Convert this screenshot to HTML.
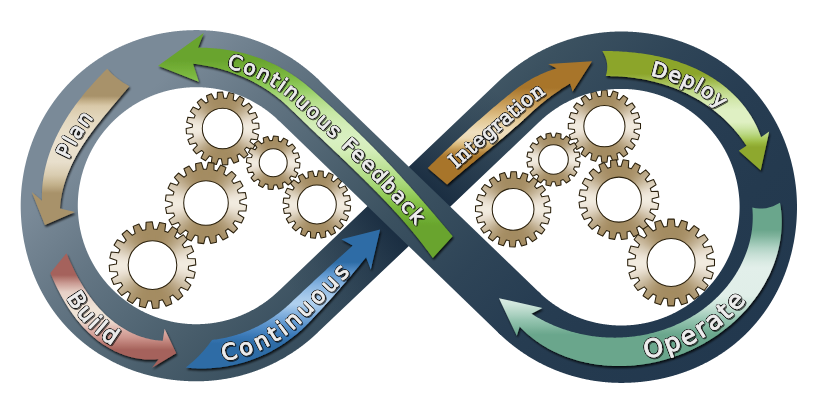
<!DOCTYPE html><html><head><meta charset="utf-8"><title>DevOps loop</title>
<style>html,body{margin:0;padding:0;background:#fff}svg{display:block;font-family:"DejaVu Sans","Liberation Sans",sans-serif}</style></head><body>
<svg width="830" height="413" viewBox="0 0 830 413">
<defs>
<linearGradient id="band" gradientUnits="userSpaceOnUse" x1="77.8" y1="77.8" x2="544.5" y2="544.5"><stop offset="0.000" stop-color="#7a8a98"/><stop offset="0.091" stop-color="#7a8a98"/><stop offset="0.212" stop-color="#647684"/><stop offset="0.303" stop-color="#566a78"/><stop offset="0.394" stop-color="#485d6b"/><stop offset="0.485" stop-color="#3b5160"/><stop offset="0.621" stop-color="#2e4457"/><stop offset="0.727" stop-color="#273d52"/><stop offset="0.841" stop-color="#243a4f"/><stop offset="1.000" stop-color="#22384e"/></linearGradient>
<linearGradient id="g_feedback" gradientUnits="userSpaceOnUse" x1="0" y1="60.0" x2="0" y2="226.0"><stop offset="0.000" stop-color="#69a42d"/><stop offset="0.090" stop-color="#7ab73e"/><stop offset="0.169" stop-color="#92cc5f"/><stop offset="0.241" stop-color="#b2dc86"/><stop offset="0.313" stop-color="#c6e7a4"/><stop offset="0.392" stop-color="#d3edb8"/><stop offset="0.482" stop-color="#d9f0c2"/><stop offset="0.542" stop-color="#d5eeba"/><stop offset="0.614" stop-color="#c5e6a2"/><stop offset="0.747" stop-color="#a8d878"/><stop offset="0.831" stop-color="#8fc853"/><stop offset="0.886" stop-color="#7dba40"/><stop offset="0.952" stop-color="#6fae32"/><stop offset="1.000" stop-color="#69a42d"/></linearGradient>
<linearGradient id="g_plan" gradientUnits="userSpaceOnUse" x1="0" y1="96.0" x2="0" y2="193.0"><stop offset="0.000" stop-color="#a8926a"/><stop offset="0.052" stop-color="#c4b08a"/><stop offset="0.103" stop-color="#d9c9a9"/><stop offset="0.227" stop-color="#e3d7bd"/><stop offset="0.454" stop-color="#ebe1ce"/><stop offset="0.680" stop-color="#e8dfcc"/><stop offset="0.814" stop-color="#d9ccb0"/><stop offset="0.918" stop-color="#c2b08a"/><stop offset="1.000" stop-color="#a8926a"/></linearGradient>
<linearGradient id="g_build" gradientUnits="userSpaceOnUse" x1="0" y1="275.0" x2="0" y2="350.0"><stop offset="0.000" stop-color="#a5625b"/><stop offset="0.107" stop-color="#c99a92"/><stop offset="0.227" stop-color="#e6d0c6"/><stop offset="0.440" stop-color="#efe3d6"/><stop offset="0.573" stop-color="#efe3d6"/><stop offset="0.653" stop-color="#e8cfc5"/><stop offset="0.733" stop-color="#dcb0a8"/><stop offset="0.827" stop-color="#cf9890"/><stop offset="0.920" stop-color="#b97a72"/><stop offset="1.000" stop-color="#a5625b"/></linearGradient>
<linearGradient id="g_cont" gradientUnits="userSpaceOnUse" x1="0" y1="262.0" x2="0" y2="344.0"><stop offset="0.000" stop-color="#2d6ca6"/><stop offset="0.146" stop-color="#5f97cf"/><stop offset="0.293" stop-color="#8ab6e2"/><stop offset="0.439" stop-color="#a9cbec"/><stop offset="0.512" stop-color="#b0d0ee"/><stop offset="0.622" stop-color="#88b4e0"/><stop offset="0.768" stop-color="#5a93cc"/><stop offset="0.902" stop-color="#3a78b6"/><stop offset="1.000" stop-color="#2d6ca6"/></linearGradient>
<linearGradient id="g_integ" gradientUnits="userSpaceOnUse" x1="0" y1="88.0" x2="0" y2="157.0"><stop offset="0.000" stop-color="#a8752b"/><stop offset="0.145" stop-color="#bd8f47"/><stop offset="0.290" stop-color="#d0a868"/><stop offset="0.464" stop-color="#e3c995"/><stop offset="0.638" stop-color="#efdfbf"/><stop offset="0.725" stop-color="#ecd9b3"/><stop offset="0.826" stop-color="#d9b878"/><stop offset="0.928" stop-color="#b98a42"/><stop offset="1.000" stop-color="#a8752b"/></linearGradient>
<linearGradient id="g_deploy" gradientUnits="userSpaceOnUse" x1="0" y1="74.0" x2="0" y2="147.0"><stop offset="0.000" stop-color="#8ca52c"/><stop offset="0.110" stop-color="#a3bd52"/><stop offset="0.219" stop-color="#bdd683"/><stop offset="0.356" stop-color="#d2e7ab"/><stop offset="0.493" stop-color="#dff0c3"/><stop offset="0.658" stop-color="#dff0c3"/><stop offset="0.740" stop-color="#cfe6a8"/><stop offset="0.822" stop-color="#bbd884"/><stop offset="0.890" stop-color="#a9c95c"/><stop offset="0.945" stop-color="#9ab840"/><stop offset="1.000" stop-color="#8ea82e"/></linearGradient>
<linearGradient id="g_operate" gradientUnits="userSpaceOnUse" x1="0" y1="230.0" x2="0" y2="335.0"><stop offset="0.000" stop-color="#6aa68c"/><stop offset="0.057" stop-color="#7fb39c"/><stop offset="0.114" stop-color="#98c4b1"/><stop offset="0.171" stop-color="#b1d3c5"/><stop offset="0.238" stop-color="#c8e0d6"/><stop offset="0.305" stop-color="#d9eae3"/><stop offset="0.362" stop-color="#e2efea"/><stop offset="0.629" stop-color="#e0eee8"/><stop offset="0.705" stop-color="#cfe6dc"/><stop offset="0.752" stop-color="#bfdccf"/><stop offset="0.810" stop-color="#a9d0bf"/><stop offset="0.857" stop-color="#95c4b0"/><stop offset="0.914" stop-color="#84b9a2"/><stop offset="0.962" stop-color="#74ad94"/><stop offset="1.000" stop-color="#6aa68c"/></linearGradient>
<linearGradient id="txt" x1="0" y1="0" x2="0" y2="1"><stop offset="0" stop-color="#f6f6f6"/><stop offset="1" stop-color="#c6c6c6"/></linearGradient>
<filter id="ash" x="-20%" y="-20%" width="140%" height="140%"><feGaussianBlur in="SourceAlpha" stdDeviation="1.3"/><feOffset dx="0.6" dy="2.0"/><feComponentTransfer><feFuncA type="linear" slope="0.8"/></feComponentTransfer><feMerge><feMergeNode/><feMergeNode in="SourceGraphic"/></feMerge></filter>
<filter id="gbl" x="-10%" y="-10%" width="120%" height="120%"><feGaussianBlur stdDeviation="0.9"/></filter>
<filter id="xsh" x="-40%" y="-40%" width="180%" height="180%"><feGaussianBlur stdDeviation="14"/></filter>
<filter id="tsh" x="-5%" y="-5%" width="110%" height="110%"><feGaussianBlur in="SourceAlpha" stdDeviation="0.8" result="b"/><feComponentTransfer in="b" result="o"><feFuncA type="linear" slope="6" intercept="-0.8"/></feComponentTransfer><feFlood flood-color="#151515"/><feComposite in2="o" operator="in" result="ol"/><feGaussianBlur in="o" stdDeviation="0.7"/><feOffset dx="0.6" dy="1.0"/><feComponentTransfer result="sh"><feFuncA type="linear" slope="0.55"/></feComponentTransfer><feMerge><feMergeNode in="sh"/><feMergeNode in="ol"/><feMergeNode in="SourceGraphic"/></feMerge></filter>
<clipPath id="underclip"><path d="M276.58 292.89 L501.57 78.59 L541.24 120.08 L315.83 334.35Z"/></clipPath>
<clipPath id="gc0"><path clip-rule="evenodd" d="M252.85 131.14 L252.70 132.56 L258.56 134.74 L257.29 139.85 L251.08 139.03 L250.56 140.36 L249.97 141.66 L254.87 145.55 L252.08 150.02 L246.44 147.32 L245.52 148.42 L244.56 149.47 L248.03 154.69 L243.99 158.08 L239.46 153.76 L238.25 154.53 L237.00 155.23 L238.69 161.26 L233.80 163.24 L230.83 157.73 L229.44 158.09 L228.04 158.38 L227.78 164.63 L222.52 165.00 L221.39 158.84 L219.96 158.75 L218.54 158.60 L216.36 164.46 L211.25 163.19 L212.07 156.98 L210.74 156.46 L209.44 155.87 L205.55 160.77 L201.08 157.98 L203.78 152.34 L202.68 151.42 L201.63 150.46 L196.41 153.93 L193.02 149.89 L197.34 145.36 L196.57 144.15 L195.87 142.90 L189.84 144.59 L187.86 139.70 L193.37 136.73 L193.01 135.34 L192.72 133.94 L186.47 133.68 L186.10 128.42 L192.26 127.29 L192.35 125.86 L192.50 124.44 L186.64 122.26 L187.91 117.15 L194.12 117.97 L194.64 116.64 L195.23 115.34 L190.33 111.45 L193.12 106.98 L198.76 109.68 L199.68 108.58 L200.64 107.53 L197.17 102.31 L201.21 98.92 L205.74 103.24 L206.95 102.47 L208.20 101.77 L206.51 95.74 L211.40 93.76 L214.37 99.27 L215.76 98.91 L217.16 98.62 L217.42 92.37 L222.68 92.00 L223.81 98.16 L225.24 98.25 L226.66 98.40 L228.84 92.54 L233.95 93.81 L233.13 100.02 L234.46 100.54 L235.76 101.13 L239.65 96.23 L244.12 99.02 L241.42 104.66 L242.52 105.58 L243.57 106.54 L248.79 103.07 L252.18 107.11 L247.86 111.64 L248.63 112.85 L249.33 114.10 L255.36 112.41 L257.34 117.30 L251.83 120.27 L252.19 121.66 L252.48 123.06 L258.73 123.32 L259.10 128.58 L252.94 129.71Z M242.90 128.50 A20.30 20.30 0 1 0 202.30 128.50 A20.30 20.30 0 1 0 242.90 128.50 Z"/></clipPath>
<clipPath id="gc1"><path clip-rule="evenodd" d="M294.53 169.30 L294.11 170.55 L297.86 173.29 L295.58 177.55 L291.22 175.93 L290.42 176.97 L289.55 177.96 L291.97 181.93 L288.23 184.99 L284.82 181.83 L283.68 182.48 L282.51 183.06 L283.22 187.65 L278.60 189.05 L276.66 184.83 L275.35 184.99 L274.04 185.08 L272.95 189.60 L268.14 189.12 L267.96 184.47 L266.70 184.13 L265.45 183.71 L262.71 187.46 L258.45 185.18 L260.07 180.82 L259.03 180.02 L258.04 179.15 L254.07 181.57 L251.01 177.83 L254.17 174.42 L253.52 173.28 L252.94 172.11 L248.35 172.82 L246.95 168.20 L251.17 166.26 L251.01 164.95 L250.92 163.64 L246.40 162.55 L246.88 157.74 L251.53 157.56 L251.87 156.30 L252.29 155.05 L248.54 152.31 L250.82 148.05 L255.18 149.67 L255.98 148.63 L256.85 147.64 L254.43 143.67 L258.17 140.61 L261.58 143.77 L262.72 143.12 L263.89 142.54 L263.18 137.95 L267.80 136.55 L269.74 140.77 L271.05 140.61 L272.36 140.52 L273.45 136.00 L278.26 136.48 L278.44 141.13 L279.70 141.47 L280.95 141.89 L283.69 138.14 L287.95 140.42 L286.33 144.78 L287.37 145.58 L288.36 146.45 L292.33 144.03 L295.39 147.77 L292.23 151.18 L292.88 152.32 L293.46 153.49 L298.05 152.78 L299.45 157.40 L295.23 159.34 L295.39 160.65 L295.48 161.96 L300.00 163.05 L299.52 167.86 L294.87 168.04Z M287.20 162.80 A14.00 14.00 0 1 0 259.20 162.80 A14.00 14.00 0 1 0 287.20 162.80 Z"/></clipPath>
<clipPath id="gc2"><path clip-rule="evenodd" d="M239.85 201.98 L239.86 203.58 L246.64 205.23 L245.89 211.06 L238.92 210.95 L238.50 212.49 L238.02 214.01 L243.96 217.68 L241.45 222.99 L234.85 220.73 L233.98 222.07 L233.05 223.37 L237.57 228.69 L233.54 232.97 L227.96 228.78 L226.72 229.79 L225.43 230.73 L228.08 237.19 L222.93 240.01 L218.91 234.30 L217.43 234.88 L215.91 235.38 L216.44 242.34 L210.66 243.43 L208.61 236.76 L207.02 236.85 L205.42 236.86 L203.77 243.64 L197.94 242.89 L198.05 235.92 L196.51 235.50 L194.99 235.02 L191.32 240.96 L186.01 238.45 L188.27 231.85 L186.93 230.98 L185.63 230.05 L180.31 234.57 L176.03 230.54 L180.22 224.96 L179.21 223.72 L178.27 222.43 L171.81 225.08 L168.99 219.93 L174.70 215.91 L174.12 214.43 L173.62 212.91 L166.66 213.44 L165.57 207.66 L172.24 205.61 L172.15 204.02 L172.14 202.42 L165.36 200.77 L166.11 194.94 L173.08 195.05 L173.50 193.51 L173.98 191.99 L168.04 188.32 L170.55 183.01 L177.15 185.27 L178.02 183.93 L178.95 182.63 L174.43 177.31 L178.46 173.03 L184.04 177.22 L185.28 176.21 L186.57 175.27 L183.92 168.81 L189.07 165.99 L193.09 171.70 L194.57 171.12 L196.09 170.62 L195.56 163.66 L201.34 162.57 L203.39 169.24 L204.98 169.15 L206.58 169.14 L208.23 162.36 L214.06 163.11 L213.95 170.08 L215.49 170.50 L217.01 170.98 L220.68 165.04 L225.99 167.55 L223.73 174.15 L225.07 175.02 L226.37 175.95 L231.69 171.43 L235.97 175.46 L231.78 181.04 L232.79 182.28 L233.73 183.57 L240.19 180.92 L243.01 186.07 L237.30 190.09 L237.88 191.57 L238.38 193.09 L245.34 192.56 L246.43 198.34 L239.76 200.39Z M228.30 203.00 A22.30 22.30 0 1 0 183.70 203.00 A22.30 22.30 0 1 0 228.30 203.00 Z"/></clipPath>
<clipPath id="gc3"><path clip-rule="evenodd" d="M345.00 203.38 L345.02 204.70 L350.67 206.01 L350.10 210.86 L344.30 210.83 L343.97 212.11 L343.58 213.38 L348.55 216.37 L346.51 220.81 L341.00 218.99 L340.29 220.11 L339.53 221.19 L343.33 225.57 L340.02 229.16 L335.35 225.73 L334.33 226.57 L333.27 227.37 L335.52 232.71 L331.27 235.10 L327.88 230.39 L326.65 230.88 L325.40 231.31 L325.89 237.08 L321.11 238.04 L319.35 232.51 L318.02 232.60 L316.70 232.62 L315.39 238.27 L310.54 237.70 L310.57 231.90 L309.29 231.57 L308.02 231.18 L305.03 236.15 L300.59 234.11 L302.41 228.60 L301.29 227.89 L300.21 227.13 L295.83 230.93 L292.24 227.62 L295.67 222.95 L294.83 221.93 L294.03 220.87 L288.69 223.12 L286.30 218.87 L291.01 215.48 L290.52 214.25 L290.09 213.00 L284.32 213.49 L283.36 208.71 L288.89 206.95 L288.80 205.62 L288.78 204.30 L283.13 202.99 L283.70 198.14 L289.50 198.17 L289.83 196.89 L290.22 195.62 L285.25 192.63 L287.29 188.19 L292.80 190.01 L293.51 188.89 L294.27 187.81 L290.47 183.43 L293.78 179.84 L298.45 183.27 L299.47 182.43 L300.53 181.63 L298.28 176.29 L302.53 173.90 L305.92 178.61 L307.15 178.12 L308.40 177.69 L307.91 171.92 L312.69 170.96 L314.45 176.49 L315.78 176.40 L317.10 176.38 L318.41 170.73 L323.26 171.30 L323.23 177.10 L324.51 177.43 L325.78 177.82 L328.77 172.85 L333.21 174.89 L331.39 180.40 L332.51 181.11 L333.59 181.87 L337.97 178.07 L341.56 181.38 L338.13 186.05 L338.97 187.07 L339.77 188.13 L345.11 185.88 L347.50 190.13 L342.79 193.52 L343.28 194.75 L343.71 196.00 L349.48 195.51 L350.44 200.29 L344.91 202.05Z M336.30 204.50 A19.40 19.40 0 1 0 297.50 204.50 A19.40 19.40 0 1 0 336.30 204.50 Z"/></clipPath>
<clipPath id="gc4"><path clip-rule="evenodd" d="M188.41 267.98 L188.23 269.67 L195.21 272.20 L193.74 278.28 L186.38 277.35 L185.76 278.93 L185.07 280.49 L190.93 285.06 L187.65 290.38 L180.93 287.22 L179.86 288.54 L178.73 289.80 L182.88 295.95 L178.12 300.01 L172.71 294.93 L171.28 295.84 L169.81 296.69 L171.86 303.83 L166.08 306.22 L162.50 299.71 L160.86 300.14 L159.20 300.50 L158.94 307.92 L152.71 308.40 L151.32 301.11 L149.62 301.01 L147.93 300.83 L145.40 307.81 L139.32 306.34 L140.25 298.98 L138.67 298.36 L137.11 297.67 L132.54 303.53 L127.22 300.25 L130.38 293.53 L129.06 292.46 L127.80 291.33 L121.65 295.48 L117.59 290.72 L122.67 285.31 L121.76 283.88 L120.91 282.41 L113.77 284.46 L111.38 278.68 L117.89 275.10 L117.46 273.46 L117.10 271.80 L109.68 271.54 L109.20 265.31 L116.49 263.92 L116.59 262.22 L116.77 260.53 L109.79 258.00 L111.26 251.92 L118.62 252.85 L119.24 251.27 L119.93 249.71 L114.07 245.14 L117.35 239.82 L124.07 242.98 L125.14 241.66 L126.27 240.40 L122.12 234.25 L126.88 230.19 L132.29 235.27 L133.72 234.36 L135.19 233.51 L133.14 226.37 L138.92 223.98 L142.50 230.49 L144.14 230.06 L145.80 229.70 L146.06 222.28 L152.29 221.80 L153.68 229.09 L155.38 229.19 L157.07 229.37 L159.60 222.39 L165.68 223.86 L164.75 231.22 L166.33 231.84 L167.89 232.53 L172.46 226.67 L177.78 229.95 L174.62 236.67 L175.94 237.74 L177.20 238.87 L183.35 234.72 L187.41 239.48 L182.33 244.89 L183.24 246.32 L184.09 247.79 L191.23 245.74 L193.62 251.52 L187.11 255.10 L187.54 256.74 L187.90 258.40 L195.32 258.66 L195.80 264.89 L188.51 266.28Z M176.80 265.10 A24.30 24.30 0 1 0 128.20 265.10 A24.30 24.30 0 1 0 176.80 265.10 Z"/></clipPath>
<clipPath id="gc5"><path clip-rule="evenodd" d="M634.15 130.91 L633.89 132.31 L639.55 134.87 L637.93 139.84 L631.85 138.59 L631.24 139.87 L630.56 141.12 L635.15 145.31 L632.08 149.53 L626.68 146.47 L625.70 147.50 L624.67 148.47 L627.74 153.87 L623.51 156.94 L619.32 152.36 L618.08 153.03 L616.80 153.65 L618.05 159.73 L613.07 161.35 L610.51 155.69 L609.11 155.95 L607.71 156.14 L607.02 162.31 L601.79 162.31 L601.10 156.14 L599.69 155.95 L598.29 155.69 L595.73 161.35 L590.76 159.73 L592.01 153.65 L590.73 153.04 L589.48 152.36 L585.29 156.95 L581.07 153.88 L584.13 148.48 L583.10 147.50 L582.13 146.47 L576.73 149.54 L573.66 145.31 L578.24 141.12 L577.57 139.88 L576.95 138.60 L570.87 139.85 L569.25 134.87 L574.91 132.31 L574.65 130.91 L574.46 129.51 L568.29 128.82 L568.29 123.59 L574.46 122.90 L574.65 121.49 L574.91 120.09 L569.25 117.53 L570.87 112.56 L576.95 113.81 L577.56 112.53 L578.24 111.28 L573.65 107.09 L576.72 102.87 L582.12 105.93 L583.10 104.90 L584.13 103.93 L581.06 98.53 L585.29 95.46 L589.48 100.04 L590.72 99.37 L592.00 98.75 L590.75 92.67 L595.73 91.05 L598.29 96.71 L599.69 96.45 L601.09 96.26 L601.78 90.09 L607.01 90.09 L607.70 96.26 L609.11 96.45 L610.51 96.71 L613.07 91.05 L618.04 92.67 L616.79 98.75 L618.07 99.36 L619.32 100.04 L623.51 95.45 L627.73 98.52 L624.67 103.92 L625.70 104.90 L626.67 105.93 L632.07 102.86 L635.14 107.09 L630.56 111.28 L631.23 112.52 L631.85 113.80 L637.93 112.55 L639.55 117.53 L633.89 120.09 L634.15 121.49 L634.34 122.89 L640.51 123.58 L640.51 128.81 L634.34 129.50Z M625.00 126.20 A20.60 20.60 0 1 0 583.80 126.20 A20.60 20.60 0 1 0 625.00 126.20 Z"/></clipPath>
<clipPath id="gc6"><path clip-rule="evenodd" d="M575.71 159.50 L575.68 160.81 L580.05 162.33 L579.11 167.05 L574.49 166.78 L574.02 168.00 L573.49 169.19 L576.95 172.27 L574.27 176.28 L570.11 174.26 L569.21 175.21 L568.26 176.11 L570.28 180.27 L566.27 182.95 L563.19 179.49 L562.00 180.02 L560.78 180.49 L561.05 185.11 L556.33 186.05 L554.81 181.68 L553.50 181.71 L552.19 181.68 L550.67 186.05 L545.95 185.11 L546.22 180.49 L545.00 180.02 L543.81 179.49 L540.73 182.95 L536.72 180.27 L538.74 176.11 L537.79 175.21 L536.89 174.26 L532.73 176.28 L530.05 172.27 L533.51 169.19 L532.98 168.00 L532.51 166.78 L527.89 167.05 L526.95 162.33 L531.32 160.81 L531.29 159.50 L531.32 158.19 L526.95 156.67 L527.89 151.95 L532.51 152.22 L532.98 151.00 L533.51 149.81 L530.05 146.73 L532.73 142.72 L536.89 144.74 L537.79 143.79 L538.74 142.89 L536.72 138.73 L540.73 136.05 L543.81 139.51 L545.00 138.98 L546.22 138.51 L545.95 133.89 L550.67 132.95 L552.19 137.32 L553.50 137.29 L554.81 137.32 L556.33 132.95 L561.05 133.89 L560.78 138.51 L562.00 138.98 L563.19 139.51 L566.27 136.05 L570.28 138.73 L568.26 142.89 L569.21 143.79 L570.11 144.74 L574.27 142.72 L576.95 146.73 L573.49 149.81 L574.02 151.00 L574.49 152.22 L579.11 151.95 L580.05 156.67 L575.68 158.19Z M568.30 159.50 A14.80 14.80 0 1 0 538.70 159.50 A14.80 14.80 0 1 0 568.30 159.50 Z"/></clipPath>
<clipPath id="gc7"><path clip-rule="evenodd" d="M544.00 214.70 L543.71 216.15 L549.55 218.91 L547.79 224.06 L541.48 222.66 L540.82 223.98 L540.09 225.27 L544.80 229.71 L541.53 234.06 L535.96 230.78 L534.92 231.83 L533.84 232.83 L536.94 238.50 L532.49 241.63 L528.21 236.79 L526.89 237.47 L525.55 238.09 L526.75 244.44 L521.55 246.04 L518.97 240.11 L517.51 240.35 L516.05 240.53 L515.22 246.94 L509.78 246.85 L509.16 240.42 L507.70 240.20 L506.25 239.91 L503.49 245.75 L498.34 243.99 L499.74 237.68 L498.42 237.02 L497.13 236.29 L492.69 241.00 L488.34 237.73 L491.62 232.16 L490.57 231.12 L489.57 230.04 L483.90 233.14 L480.77 228.69 L485.61 224.41 L484.93 223.09 L484.31 221.75 L477.96 222.95 L476.36 217.75 L482.29 215.17 L482.05 213.71 L481.87 212.25 L475.46 211.42 L475.55 205.98 L481.98 205.36 L482.20 203.90 L482.49 202.45 L476.65 199.69 L478.41 194.54 L484.72 195.94 L485.38 194.62 L486.11 193.33 L481.40 188.89 L484.67 184.54 L490.24 187.82 L491.28 186.77 L492.36 185.77 L489.26 180.10 L493.71 176.97 L497.99 181.81 L499.31 181.13 L500.65 180.51 L499.45 174.16 L504.65 172.56 L507.23 178.49 L508.69 178.25 L510.15 178.07 L510.98 171.66 L516.42 171.75 L517.04 178.18 L518.50 178.40 L519.95 178.69 L522.71 172.85 L527.86 174.61 L526.46 180.92 L527.78 181.58 L529.07 182.31 L533.51 177.60 L537.86 180.87 L534.58 186.44 L535.63 187.48 L536.63 188.56 L542.30 185.46 L545.43 189.91 L540.59 194.19 L541.27 195.51 L541.89 196.85 L548.24 195.65 L549.84 200.85 L543.91 203.43 L544.15 204.89 L544.33 206.35 L550.74 207.18 L550.65 212.62 L544.22 213.24Z M534.00 209.30 A20.90 20.90 0 1 0 492.20 209.30 A20.90 20.90 0 1 0 534.00 209.30 Z"/></clipPath>
<clipPath id="gc8"><path clip-rule="evenodd" d="M652.17 200.27 L652.11 201.83 L658.68 203.79 L657.66 209.47 L650.82 209.02 L650.34 210.52 L649.79 211.98 L655.44 215.87 L652.72 220.97 L646.34 218.42 L645.43 219.70 L644.45 220.92 L648.62 226.37 L644.46 230.37 L639.18 225.98 L637.92 226.91 L636.61 227.78 L638.90 234.24 L633.70 236.76 L630.04 230.96 L628.55 231.45 L627.04 231.87 L627.21 238.73 L621.49 239.52 L619.80 232.87 L618.23 232.87 L616.67 232.81 L614.71 239.38 L609.03 238.36 L609.48 231.52 L607.98 231.04 L606.52 230.49 L602.63 236.14 L597.53 233.42 L600.08 227.04 L598.80 226.13 L597.58 225.15 L592.13 229.32 L588.13 225.16 L592.52 219.88 L591.59 218.62 L590.72 217.31 L584.26 219.60 L581.74 214.40 L587.54 210.74 L587.05 209.25 L586.63 207.74 L579.77 207.91 L578.98 202.19 L585.63 200.50 L585.63 198.93 L585.69 197.37 L579.12 195.41 L580.14 189.73 L586.98 190.18 L587.46 188.68 L588.01 187.22 L582.36 183.33 L585.08 178.23 L591.46 180.78 L592.37 179.50 L593.35 178.28 L589.18 172.83 L593.34 168.83 L598.62 173.22 L599.88 172.29 L601.19 171.42 L598.90 164.96 L604.10 162.44 L607.76 168.24 L609.25 167.75 L610.76 167.33 L610.59 160.47 L616.31 159.68 L618.00 166.33 L619.57 166.33 L621.13 166.39 L623.09 159.82 L628.77 160.84 L628.32 167.68 L629.82 168.16 L631.28 168.71 L635.17 163.06 L640.27 165.78 L637.72 172.16 L639.00 173.07 L640.22 174.05 L645.67 169.88 L649.67 174.04 L645.28 179.32 L646.21 180.58 L647.08 181.89 L653.54 179.60 L656.06 184.80 L650.26 188.46 L650.75 189.95 L651.17 191.46 L658.03 191.29 L658.82 197.01 L652.17 198.70Z M641.40 199.60 A22.50 22.50 0 1 0 596.40 199.60 A22.50 22.50 0 1 0 641.40 199.60 Z"/></clipPath>
<clipPath id="gc9"><path clip-rule="evenodd" d="M706.85 268.16 L706.54 269.84 L713.33 272.92 L711.39 278.89 L704.09 277.39 L703.35 278.93 L702.54 280.43 L708.05 285.46 L704.36 290.54 L697.87 286.86 L696.69 288.09 L695.46 289.27 L699.15 295.75 L694.06 299.44 L689.03 293.94 L687.53 294.75 L686.00 295.48 L687.50 302.79 L681.52 304.73 L678.44 297.94 L676.76 298.25 L675.07 298.47 L674.24 305.89 L667.96 305.89 L667.13 298.47 L665.44 298.25 L663.76 297.94 L660.68 304.73 L654.71 302.79 L656.21 295.49 L654.67 294.75 L653.17 293.94 L648.14 299.45 L643.06 295.76 L646.74 289.27 L645.51 288.09 L644.33 286.86 L637.85 290.55 L634.16 285.46 L639.66 280.43 L638.85 278.93 L638.12 277.40 L630.81 278.90 L628.87 272.92 L635.66 269.84 L635.35 268.16 L635.13 266.47 L627.71 265.64 L627.71 259.36 L635.13 258.53 L635.35 256.84 L635.66 255.16 L628.87 252.08 L630.81 246.11 L638.11 247.61 L638.85 246.07 L639.66 244.57 L634.15 239.54 L637.84 234.46 L644.33 238.14 L645.51 236.91 L646.74 235.73 L643.05 229.25 L648.14 225.56 L653.17 231.06 L654.67 230.25 L656.20 229.52 L654.70 222.21 L660.68 220.27 L663.76 227.06 L665.44 226.75 L667.13 226.53 L667.96 219.11 L674.24 219.11 L675.07 226.53 L676.76 226.75 L678.44 227.06 L681.52 220.27 L687.49 222.21 L685.99 229.51 L687.53 230.25 L689.03 231.06 L694.06 225.55 L699.14 229.24 L695.46 235.73 L696.69 236.91 L697.87 238.14 L704.35 234.45 L708.04 239.54 L702.54 244.57 L703.35 246.07 L704.08 247.60 L711.39 246.10 L713.33 252.08 L706.54 255.16 L706.85 256.84 L707.07 258.53 L714.49 259.36 L714.49 265.64 L707.07 266.47Z M695.10 262.50 A24.00 24.00 0 1 0 647.10 262.50 A24.00 24.00 0 1 0 695.10 262.50 Z"/></clipPath>
</defs>
<g clip-path="url(#gc0)"><g filter="url(#gbl)">
<path d="M222.6 128.5L265.12 128.50L264.93 132.55Z" fill="#f2ebdf"/>
<path d="M222.6 128.5L265.03 131.28L264.58 135.31Z" fill="#f0e9dd"/>
<path d="M222.6 128.5L264.76 134.05L264.04 138.04Z" fill="#eee6d9"/>
<path d="M222.6 128.5L264.31 136.80L263.33 140.73Z" fill="#eae1d3"/>
<path d="M222.6 128.5L263.68 139.51L262.44 143.37Z" fill="#e5dccc"/>
<path d="M222.6 128.5L262.87 142.17L261.38 145.94Z" fill="#e0d5c3"/>
<path d="M222.6 128.5L261.89 144.77L260.16 148.44Z" fill="#daceba"/>
<path d="M222.6 128.5L260.74 147.31L258.77 150.86Z" fill="#d4c7b0"/>
<path d="M222.6 128.5L259.43 149.76L257.23 153.18Z" fill="#cebfa6"/>
<path d="M222.6 128.5L257.96 152.13L255.55 155.39Z" fill="#c8b79b"/>
<path d="M222.6 128.5L256.34 154.39L253.72 157.49Z" fill="#c2b092"/>
<path d="M222.6 128.5L254.57 156.54L251.75 159.46Z" fill="#bca989"/>
<path d="M222.6 128.5L252.67 158.57L249.67 161.30Z" fill="#b7a380"/>
<path d="M222.6 128.5L250.64 160.47L247.46 163.00Z" fill="#b29d79"/>
<path d="M222.6 128.5L248.49 162.24L245.15 164.55Z" fill="#ae9973"/>
<path d="M222.6 128.5L246.23 163.86L242.75 165.95Z" fill="#ab956e"/>
<path d="M222.6 128.5L243.86 165.33L240.26 167.19Z" fill="#a9926a"/>
<path d="M222.6 128.5L241.41 166.64L237.69 168.26Z" fill="#a78f67"/>
<path d="M222.6 128.5L238.87 167.79L235.06 169.16Z" fill="#a68e65"/>
<path d="M222.6 128.5L236.27 168.77L232.37 169.89Z" fill="#a58d63"/>
<path d="M222.6 128.5L233.61 169.58L229.64 170.44Z" fill="#a48c62"/>
<path d="M222.6 128.5L230.90 170.21L226.88 170.81Z" fill="#a48c62"/>
<path d="M222.6 128.5L228.15 170.66L224.11 171.00Z" fill="#a48c62"/>
<path d="M222.6 128.5L225.38 170.93L221.32 171.01Z" fill="#a48c62"/>
<path d="M222.6 128.5L222.60 171.03L218.55 170.83Z" fill="#a48c62"/>
<path d="M222.6 128.5L219.82 170.93L215.79 170.48Z" fill="#a48c62"/>
<path d="M222.6 128.5L217.05 170.66L213.06 169.94Z" fill="#a48c62"/>
<path d="M222.6 128.5L214.30 170.21L210.37 169.23Z" fill="#a48d63"/>
<path d="M222.6 128.5L211.59 169.58L207.73 168.34Z" fill="#a58d64"/>
<path d="M222.6 128.5L208.93 168.77L205.16 167.28Z" fill="#a68f65"/>
<path d="M222.6 128.5L206.33 167.79L202.66 166.06Z" fill="#a89068"/>
<path d="M222.6 128.5L203.79 166.64L200.24 164.67Z" fill="#aa936b"/>
<path d="M222.6 128.5L201.34 165.33L197.92 163.13Z" fill="#ad9670"/>
<path d="M222.6 128.5L198.97 163.86L195.71 161.45Z" fill="#b09b75"/>
<path d="M222.6 128.5L196.71 162.24L193.61 159.62Z" fill="#b4a07c"/>
<path d="M222.6 128.5L194.56 160.47L191.64 157.65Z" fill="#b9a684"/>
<path d="M222.6 128.5L192.53 158.57L189.80 155.57Z" fill="#beac8d"/>
<path d="M222.6 128.5L190.63 156.54L188.10 153.36Z" fill="#c4b396"/>
<path d="M222.6 128.5L188.86 154.39L186.55 151.05Z" fill="#cabba0"/>
<path d="M222.6 128.5L187.24 152.13L185.15 148.65Z" fill="#d1c3aa"/>
<path d="M222.6 128.5L185.77 149.76L183.91 146.16Z" fill="#d7cab4"/>
<path d="M222.6 128.5L184.46 147.31L182.84 143.59Z" fill="#ddd2be"/>
<path d="M222.6 128.5L183.31 144.77L181.94 140.96Z" fill="#e3d8c7"/>
<path d="M222.6 128.5L182.33 142.17L181.21 138.27Z" fill="#e8decf"/>
<path d="M222.6 128.5L181.52 139.51L180.66 135.54Z" fill="#ece3d6"/>
<path d="M222.6 128.5L180.89 136.80L180.29 132.78Z" fill="#efe7db"/>
<path d="M222.6 128.5L180.44 134.05L180.10 130.01Z" fill="#f1eade"/>
<path d="M222.6 128.5L180.17 131.28L180.09 127.22Z" fill="#f2ebe0"/>
<path d="M222.6 128.5L180.07 128.50L180.27 124.45Z" fill="#f2ebdf"/>
<path d="M222.6 128.5L180.17 125.72L180.62 121.69Z" fill="#f0e9dd"/>
<path d="M222.6 128.5L180.44 122.95L181.16 118.96Z" fill="#eee6d9"/>
<path d="M222.6 128.5L180.89 120.20L181.87 116.27Z" fill="#eae1d3"/>
<path d="M222.6 128.5L181.52 117.49L182.76 113.63Z" fill="#e5dccc"/>
<path d="M222.6 128.5L182.33 114.83L183.82 111.06Z" fill="#e0d5c3"/>
<path d="M222.6 128.5L183.31 112.23L185.04 108.56Z" fill="#daceba"/>
<path d="M222.6 128.5L184.46 109.69L186.43 106.14Z" fill="#d4c7b0"/>
<path d="M222.6 128.5L185.77 107.24L187.97 103.82Z" fill="#cebfa6"/>
<path d="M222.6 128.5L187.24 104.87L189.65 101.61Z" fill="#c8b79b"/>
<path d="M222.6 128.5L188.86 102.61L191.48 99.51Z" fill="#c2b092"/>
<path d="M222.6 128.5L190.63 100.46L193.45 97.54Z" fill="#bca989"/>
<path d="M222.6 128.5L192.53 98.43L195.53 95.70Z" fill="#b7a380"/>
<path d="M222.6 128.5L194.56 96.53L197.74 94.00Z" fill="#b29d79"/>
<path d="M222.6 128.5L196.71 94.76L200.05 92.45Z" fill="#ae9973"/>
<path d="M222.6 128.5L198.97 93.14L202.45 91.05Z" fill="#ab956e"/>
<path d="M222.6 128.5L201.34 91.67L204.94 89.81Z" fill="#a9926a"/>
<path d="M222.6 128.5L203.79 90.36L207.51 88.74Z" fill="#a78f67"/>
<path d="M222.6 128.5L206.33 89.21L210.14 87.84Z" fill="#a68e65"/>
<path d="M222.6 128.5L208.93 88.23L212.83 87.11Z" fill="#a58d63"/>
<path d="M222.6 128.5L211.59 87.42L215.56 86.56Z" fill="#a48c62"/>
<path d="M222.6 128.5L214.30 86.79L218.32 86.19Z" fill="#a48c62"/>
<path d="M222.6 128.5L217.05 86.34L221.09 86.00Z" fill="#a48c62"/>
<path d="M222.6 128.5L219.82 86.07L223.88 85.99Z" fill="#a48c62"/>
<path d="M222.6 128.5L222.60 85.97L226.65 86.17Z" fill="#a48c62"/>
<path d="M222.6 128.5L225.38 86.07L229.41 86.52Z" fill="#a48c62"/>
<path d="M222.6 128.5L228.15 86.34L232.14 87.06Z" fill="#a48c62"/>
<path d="M222.6 128.5L230.90 86.79L234.83 87.77Z" fill="#a48d63"/>
<path d="M222.6 128.5L233.61 87.42L237.47 88.66Z" fill="#a58d64"/>
<path d="M222.6 128.5L236.27 88.23L240.04 89.72Z" fill="#a68f65"/>
<path d="M222.6 128.5L238.87 89.21L242.54 90.94Z" fill="#a89068"/>
<path d="M222.6 128.5L241.41 90.36L244.96 92.33Z" fill="#aa936b"/>
<path d="M222.6 128.5L243.86 91.67L247.28 93.87Z" fill="#ad9670"/>
<path d="M222.6 128.5L246.23 93.14L249.49 95.55Z" fill="#b09b75"/>
<path d="M222.6 128.5L248.49 94.76L251.59 97.38Z" fill="#b4a07c"/>
<path d="M222.6 128.5L250.64 96.53L253.56 99.35Z" fill="#b9a684"/>
<path d="M222.6 128.5L252.67 98.43L255.40 101.43Z" fill="#beac8d"/>
<path d="M222.6 128.5L254.57 100.46L257.10 103.64Z" fill="#c4b396"/>
<path d="M222.6 128.5L256.34 102.61L258.65 105.95Z" fill="#cabba0"/>
<path d="M222.6 128.5L257.96 104.87L260.05 108.35Z" fill="#d1c3aa"/>
<path d="M222.6 128.5L259.43 107.24L261.29 110.84Z" fill="#d7cab4"/>
<path d="M222.6 128.5L260.74 109.69L262.36 113.41Z" fill="#ddd2be"/>
<path d="M222.6 128.5L261.89 112.23L263.26 116.04Z" fill="#e3d8c7"/>
<path d="M222.6 128.5L262.87 114.83L263.99 118.73Z" fill="#e8decf"/>
<path d="M222.6 128.5L263.68 117.49L264.54 121.46Z" fill="#ece3d6"/>
<path d="M222.6 128.5L264.31 120.20L264.91 124.22Z" fill="#efe7db"/>
<path d="M222.6 128.5L264.76 122.95L265.10 126.99Z" fill="#f1eade"/>
<path d="M222.6 128.5L265.03 125.72L265.11 129.78Z" fill="#f2ebe0"/>
</g></g>
<path d="M252.85 131.14 L252.70 132.56 L258.56 134.74 L257.29 139.85 L251.08 139.03 L250.56 140.36 L249.97 141.66 L254.87 145.55 L252.08 150.02 L246.44 147.32 L245.52 148.42 L244.56 149.47 L248.03 154.69 L243.99 158.08 L239.46 153.76 L238.25 154.53 L237.00 155.23 L238.69 161.26 L233.80 163.24 L230.83 157.73 L229.44 158.09 L228.04 158.38 L227.78 164.63 L222.52 165.00 L221.39 158.84 L219.96 158.75 L218.54 158.60 L216.36 164.46 L211.25 163.19 L212.07 156.98 L210.74 156.46 L209.44 155.87 L205.55 160.77 L201.08 157.98 L203.78 152.34 L202.68 151.42 L201.63 150.46 L196.41 153.93 L193.02 149.89 L197.34 145.36 L196.57 144.15 L195.87 142.90 L189.84 144.59 L187.86 139.70 L193.37 136.73 L193.01 135.34 L192.72 133.94 L186.47 133.68 L186.10 128.42 L192.26 127.29 L192.35 125.86 L192.50 124.44 L186.64 122.26 L187.91 117.15 L194.12 117.97 L194.64 116.64 L195.23 115.34 L190.33 111.45 L193.12 106.98 L198.76 109.68 L199.68 108.58 L200.64 107.53 L197.17 102.31 L201.21 98.92 L205.74 103.24 L206.95 102.47 L208.20 101.77 L206.51 95.74 L211.40 93.76 L214.37 99.27 L215.76 98.91 L217.16 98.62 L217.42 92.37 L222.68 92.00 L223.81 98.16 L225.24 98.25 L226.66 98.40 L228.84 92.54 L233.95 93.81 L233.13 100.02 L234.46 100.54 L235.76 101.13 L239.65 96.23 L244.12 99.02 L241.42 104.66 L242.52 105.58 L243.57 106.54 L248.79 103.07 L252.18 107.11 L247.86 111.64 L248.63 112.85 L249.33 114.10 L255.36 112.41 L257.34 117.30 L251.83 120.27 L252.19 121.66 L252.48 123.06 L258.73 123.32 L259.10 128.58 L252.94 129.71Z M242.90 128.50 A20.30 20.30 0 1 0 202.30 128.50 A20.30 20.30 0 1 0 242.90 128.50 Z" fill="none" stroke="#2a200c" stroke-width="1.05" stroke-linejoin="round"/>
<g clip-path="url(#gc1)"><g filter="url(#gbl)">
<path d="M273.2 162.8L305.54 162.80L305.39 165.88Z" fill="#f2ebdf"/>
<path d="M273.2 162.8L305.47 164.92L305.12 167.98Z" fill="#f0e9dd"/>
<path d="M273.2 162.8L305.26 167.02L304.72 170.06Z" fill="#eee6d9"/>
<path d="M273.2 162.8L304.92 169.11L304.17 172.10Z" fill="#eae1d3"/>
<path d="M273.2 162.8L304.44 171.17L303.50 174.11Z" fill="#e5dccc"/>
<path d="M273.2 162.8L303.82 173.20L302.69 176.07Z" fill="#e0d5c3"/>
<path d="M273.2 162.8L303.08 175.18L301.76 177.97Z" fill="#daceba"/>
<path d="M273.2 162.8L302.20 177.10L300.71 179.80Z" fill="#d4c7b0"/>
<path d="M273.2 162.8L301.21 178.97L299.54 181.57Z" fill="#cebfa6"/>
<path d="M273.2 162.8L300.09 180.77L298.25 183.25Z" fill="#c8b79b"/>
<path d="M273.2 162.8L298.86 182.49L296.86 184.84Z" fill="#c2b092"/>
<path d="M273.2 162.8L297.51 184.12L295.37 186.34Z" fill="#bca989"/>
<path d="M273.2 162.8L296.07 185.67L293.78 187.74Z" fill="#b7a380"/>
<path d="M273.2 162.8L294.52 187.11L292.11 189.04Z" fill="#b29d79"/>
<path d="M273.2 162.8L292.89 188.46L290.35 190.22Z" fill="#ae9973"/>
<path d="M273.2 162.8L291.17 189.69L288.52 191.28Z" fill="#ab956e"/>
<path d="M273.2 162.8L289.37 190.81L286.63 192.22Z" fill="#a9926a"/>
<path d="M273.2 162.8L287.50 191.80L284.67 193.04Z" fill="#a78f67"/>
<path d="M273.2 162.8L285.58 192.68L282.67 193.72Z" fill="#a68e65"/>
<path d="M273.2 162.8L283.60 193.42L280.63 194.28Z" fill="#a58d63"/>
<path d="M273.2 162.8L281.57 194.04L278.55 194.69Z" fill="#a48c62"/>
<path d="M273.2 162.8L279.51 194.52L276.46 194.98Z" fill="#a48c62"/>
<path d="M273.2 162.8L277.42 194.86L274.35 195.12Z" fill="#a48c62"/>
<path d="M273.2 162.8L275.32 195.07L272.23 195.13Z" fill="#a48c62"/>
<path d="M273.2 162.8L273.20 195.14L270.12 194.99Z" fill="#a48c62"/>
<path d="M273.2 162.8L271.08 195.07L268.02 194.72Z" fill="#a48c62"/>
<path d="M273.2 162.8L268.98 194.86L265.94 194.32Z" fill="#a48c62"/>
<path d="M273.2 162.8L266.89 194.52L263.90 193.77Z" fill="#a48d63"/>
<path d="M273.2 162.8L264.83 194.04L261.89 193.10Z" fill="#a58d64"/>
<path d="M273.2 162.8L262.80 193.42L259.93 192.29Z" fill="#a68f65"/>
<path d="M273.2 162.8L260.82 192.68L258.03 191.36Z" fill="#a89068"/>
<path d="M273.2 162.8L258.90 191.80L256.20 190.31Z" fill="#aa936b"/>
<path d="M273.2 162.8L257.03 190.81L254.43 189.14Z" fill="#ad9670"/>
<path d="M273.2 162.8L255.23 189.69L252.75 187.85Z" fill="#b09b75"/>
<path d="M273.2 162.8L253.51 188.46L251.16 186.46Z" fill="#b4a07c"/>
<path d="M273.2 162.8L251.88 187.11L249.66 184.97Z" fill="#b9a684"/>
<path d="M273.2 162.8L250.33 185.67L248.26 183.38Z" fill="#beac8d"/>
<path d="M273.2 162.8L248.89 184.12L246.96 181.71Z" fill="#c4b396"/>
<path d="M273.2 162.8L247.54 182.49L245.78 179.95Z" fill="#cabba0"/>
<path d="M273.2 162.8L246.31 180.77L244.72 178.12Z" fill="#d1c3aa"/>
<path d="M273.2 162.8L245.19 178.97L243.78 176.23Z" fill="#d7cab4"/>
<path d="M273.2 162.8L244.20 177.10L242.96 174.27Z" fill="#ddd2be"/>
<path d="M273.2 162.8L243.32 175.18L242.28 172.27Z" fill="#e3d8c7"/>
<path d="M273.2 162.8L242.58 173.20L241.72 170.23Z" fill="#e8decf"/>
<path d="M273.2 162.8L241.96 171.17L241.31 168.15Z" fill="#ece3d6"/>
<path d="M273.2 162.8L241.48 169.11L241.02 166.06Z" fill="#efe7db"/>
<path d="M273.2 162.8L241.14 167.02L240.88 163.95Z" fill="#f1eade"/>
<path d="M273.2 162.8L240.93 164.92L240.87 161.83Z" fill="#f2ebe0"/>
<path d="M273.2 162.8L240.86 162.80L241.01 159.72Z" fill="#f2ebdf"/>
<path d="M273.2 162.8L240.93 160.68L241.28 157.62Z" fill="#f0e9dd"/>
<path d="M273.2 162.8L241.14 158.58L241.68 155.54Z" fill="#eee6d9"/>
<path d="M273.2 162.8L241.48 156.49L242.23 153.50Z" fill="#eae1d3"/>
<path d="M273.2 162.8L241.96 154.43L242.90 151.49Z" fill="#e5dccc"/>
<path d="M273.2 162.8L242.58 152.40L243.71 149.53Z" fill="#e0d5c3"/>
<path d="M273.2 162.8L243.32 150.42L244.64 147.63Z" fill="#daceba"/>
<path d="M273.2 162.8L244.20 148.50L245.69 145.80Z" fill="#d4c7b0"/>
<path d="M273.2 162.8L245.19 146.63L246.86 144.03Z" fill="#cebfa6"/>
<path d="M273.2 162.8L246.31 144.83L248.15 142.35Z" fill="#c8b79b"/>
<path d="M273.2 162.8L247.54 143.11L249.54 140.76Z" fill="#c2b092"/>
<path d="M273.2 162.8L248.89 141.48L251.03 139.26Z" fill="#bca989"/>
<path d="M273.2 162.8L250.33 139.93L252.62 137.86Z" fill="#b7a380"/>
<path d="M273.2 162.8L251.88 138.49L254.29 136.56Z" fill="#b29d79"/>
<path d="M273.2 162.8L253.51 137.14L256.05 135.38Z" fill="#ae9973"/>
<path d="M273.2 162.8L255.23 135.91L257.88 134.32Z" fill="#ab956e"/>
<path d="M273.2 162.8L257.03 134.79L259.77 133.38Z" fill="#a9926a"/>
<path d="M273.2 162.8L258.90 133.80L261.73 132.56Z" fill="#a78f67"/>
<path d="M273.2 162.8L260.82 132.92L263.73 131.88Z" fill="#a68e65"/>
<path d="M273.2 162.8L262.80 132.18L265.77 131.32Z" fill="#a58d63"/>
<path d="M273.2 162.8L264.83 131.56L267.85 130.91Z" fill="#a48c62"/>
<path d="M273.2 162.8L266.89 131.08L269.94 130.62Z" fill="#a48c62"/>
<path d="M273.2 162.8L268.98 130.74L272.05 130.48Z" fill="#a48c62"/>
<path d="M273.2 162.8L271.08 130.53L274.17 130.47Z" fill="#a48c62"/>
<path d="M273.2 162.8L273.20 130.46L276.28 130.61Z" fill="#a48c62"/>
<path d="M273.2 162.8L275.32 130.53L278.38 130.88Z" fill="#a48c62"/>
<path d="M273.2 162.8L277.42 130.74L280.46 131.28Z" fill="#a48c62"/>
<path d="M273.2 162.8L279.51 131.08L282.50 131.83Z" fill="#a48d63"/>
<path d="M273.2 162.8L281.57 131.56L284.51 132.50Z" fill="#a58d64"/>
<path d="M273.2 162.8L283.60 132.18L286.47 133.31Z" fill="#a68f65"/>
<path d="M273.2 162.8L285.58 132.92L288.37 134.24Z" fill="#a89068"/>
<path d="M273.2 162.8L287.50 133.80L290.20 135.29Z" fill="#aa936b"/>
<path d="M273.2 162.8L289.37 134.79L291.97 136.46Z" fill="#ad9670"/>
<path d="M273.2 162.8L291.17 135.91L293.65 137.75Z" fill="#b09b75"/>
<path d="M273.2 162.8L292.89 137.14L295.24 139.14Z" fill="#b4a07c"/>
<path d="M273.2 162.8L294.52 138.49L296.74 140.63Z" fill="#b9a684"/>
<path d="M273.2 162.8L296.07 139.93L298.14 142.22Z" fill="#beac8d"/>
<path d="M273.2 162.8L297.51 141.48L299.44 143.89Z" fill="#c4b396"/>
<path d="M273.2 162.8L298.86 143.11L300.62 145.65Z" fill="#cabba0"/>
<path d="M273.2 162.8L300.09 144.83L301.68 147.48Z" fill="#d1c3aa"/>
<path d="M273.2 162.8L301.21 146.63L302.62 149.37Z" fill="#d7cab4"/>
<path d="M273.2 162.8L302.20 148.50L303.44 151.33Z" fill="#ddd2be"/>
<path d="M273.2 162.8L303.08 150.42L304.12 153.33Z" fill="#e3d8c7"/>
<path d="M273.2 162.8L303.82 152.40L304.68 155.37Z" fill="#e8decf"/>
<path d="M273.2 162.8L304.44 154.43L305.09 157.45Z" fill="#ece3d6"/>
<path d="M273.2 162.8L304.92 156.49L305.38 159.54Z" fill="#efe7db"/>
<path d="M273.2 162.8L305.26 158.58L305.52 161.65Z" fill="#f1eade"/>
<path d="M273.2 162.8L305.47 160.68L305.53 163.77Z" fill="#f2ebe0"/>
</g></g>
<path d="M294.53 169.30 L294.11 170.55 L297.86 173.29 L295.58 177.55 L291.22 175.93 L290.42 176.97 L289.55 177.96 L291.97 181.93 L288.23 184.99 L284.82 181.83 L283.68 182.48 L282.51 183.06 L283.22 187.65 L278.60 189.05 L276.66 184.83 L275.35 184.99 L274.04 185.08 L272.95 189.60 L268.14 189.12 L267.96 184.47 L266.70 184.13 L265.45 183.71 L262.71 187.46 L258.45 185.18 L260.07 180.82 L259.03 180.02 L258.04 179.15 L254.07 181.57 L251.01 177.83 L254.17 174.42 L253.52 173.28 L252.94 172.11 L248.35 172.82 L246.95 168.20 L251.17 166.26 L251.01 164.95 L250.92 163.64 L246.40 162.55 L246.88 157.74 L251.53 157.56 L251.87 156.30 L252.29 155.05 L248.54 152.31 L250.82 148.05 L255.18 149.67 L255.98 148.63 L256.85 147.64 L254.43 143.67 L258.17 140.61 L261.58 143.77 L262.72 143.12 L263.89 142.54 L263.18 137.95 L267.80 136.55 L269.74 140.77 L271.05 140.61 L272.36 140.52 L273.45 136.00 L278.26 136.48 L278.44 141.13 L279.70 141.47 L280.95 141.89 L283.69 138.14 L287.95 140.42 L286.33 144.78 L287.37 145.58 L288.36 146.45 L292.33 144.03 L295.39 147.77 L292.23 151.18 L292.88 152.32 L293.46 153.49 L298.05 152.78 L299.45 157.40 L295.23 159.34 L295.39 160.65 L295.48 161.96 L300.00 163.05 L299.52 167.86 L294.87 168.04Z M287.20 162.80 A14.00 14.00 0 1 0 259.20 162.80 A14.00 14.00 0 1 0 287.20 162.80 Z" fill="none" stroke="#2a200c" stroke-width="1.05" stroke-linejoin="round"/>
<g clip-path="url(#gc2)"><g filter="url(#gbl)">
<path d="M206.0 203.0L252.94 203.00L252.72 207.47Z" fill="#f2ebdf"/>
<path d="M206.0 203.0L252.83 206.07L252.33 210.52Z" fill="#f0e9dd"/>
<path d="M206.0 203.0L252.53 209.13L251.74 213.53Z" fill="#eee6d9"/>
<path d="M206.0 203.0L252.03 212.16L250.95 216.50Z" fill="#eae1d3"/>
<path d="M206.0 203.0L251.34 215.15L249.97 219.41Z" fill="#e5dccc"/>
<path d="M206.0 203.0L250.44 218.09L248.80 222.25Z" fill="#e0d5c3"/>
<path d="M206.0 203.0L249.36 220.96L247.45 225.01Z" fill="#daceba"/>
<path d="M206.0 203.0L248.09 223.76L245.92 227.68Z" fill="#d4c7b0"/>
<path d="M206.0 203.0L246.65 226.47L244.23 230.23Z" fill="#cebfa6"/>
<path d="M206.0 203.0L245.03 229.08L242.36 232.68Z" fill="#c8b79b"/>
<path d="M206.0 203.0L243.24 231.57L240.34 234.99Z" fill="#c2b092"/>
<path d="M206.0 203.0L241.29 233.95L238.18 237.17Z" fill="#bca989"/>
<path d="M206.0 203.0L239.19 236.19L235.87 239.20Z" fill="#b7a380"/>
<path d="M206.0 203.0L236.95 238.29L233.44 241.08Z" fill="#b29d79"/>
<path d="M206.0 203.0L234.57 240.24L230.89 242.79Z" fill="#ae9973"/>
<path d="M206.0 203.0L232.08 242.03L228.24 244.33Z" fill="#ab956e"/>
<path d="M206.0 203.0L229.47 243.65L225.49 245.70Z" fill="#a9926a"/>
<path d="M206.0 203.0L226.76 245.09L222.65 246.88Z" fill="#a78f67"/>
<path d="M206.0 203.0L223.96 246.36L219.75 247.88Z" fill="#a68e65"/>
<path d="M206.0 203.0L221.09 247.44L216.78 248.68Z" fill="#a58d63"/>
<path d="M206.0 203.0L218.15 248.34L213.77 249.29Z" fill="#a48c62"/>
<path d="M206.0 203.0L215.16 249.03L210.73 249.70Z" fill="#a48c62"/>
<path d="M206.0 203.0L212.13 249.53L207.66 249.91Z" fill="#a48c62"/>
<path d="M206.0 203.0L209.07 249.83L204.59 249.91Z" fill="#a48c62"/>
<path d="M206.0 203.0L206.00 249.94L201.53 249.72Z" fill="#a48c62"/>
<path d="M206.0 203.0L202.93 249.83L198.48 249.33Z" fill="#a48c62"/>
<path d="M206.0 203.0L199.87 249.53L195.47 248.74Z" fill="#a48c62"/>
<path d="M206.0 203.0L196.84 249.03L192.50 247.95Z" fill="#a48d63"/>
<path d="M206.0 203.0L193.85 248.34L189.59 246.97Z" fill="#a58d64"/>
<path d="M206.0 203.0L190.91 247.44L186.75 245.80Z" fill="#a68f65"/>
<path d="M206.0 203.0L188.04 246.36L183.99 244.45Z" fill="#a89068"/>
<path d="M206.0 203.0L185.24 245.09L181.32 242.92Z" fill="#aa936b"/>
<path d="M206.0 203.0L182.53 243.65L178.77 241.23Z" fill="#ad9670"/>
<path d="M206.0 203.0L179.92 242.03L176.32 239.36Z" fill="#b09b75"/>
<path d="M206.0 203.0L177.43 240.24L174.01 237.34Z" fill="#b4a07c"/>
<path d="M206.0 203.0L175.05 238.29L171.83 235.18Z" fill="#b9a684"/>
<path d="M206.0 203.0L172.81 236.19L169.80 232.87Z" fill="#beac8d"/>
<path d="M206.0 203.0L170.71 233.95L167.92 230.44Z" fill="#c4b396"/>
<path d="M206.0 203.0L168.76 231.57L166.21 227.89Z" fill="#cabba0"/>
<path d="M206.0 203.0L166.97 229.08L164.67 225.24Z" fill="#d1c3aa"/>
<path d="M206.0 203.0L165.35 226.47L163.30 222.49Z" fill="#d7cab4"/>
<path d="M206.0 203.0L163.91 223.76L162.12 219.65Z" fill="#ddd2be"/>
<path d="M206.0 203.0L162.64 220.96L161.12 216.75Z" fill="#e3d8c7"/>
<path d="M206.0 203.0L161.56 218.09L160.32 213.78Z" fill="#e8decf"/>
<path d="M206.0 203.0L160.66 215.15L159.71 210.77Z" fill="#ece3d6"/>
<path d="M206.0 203.0L159.97 212.16L159.30 207.73Z" fill="#efe7db"/>
<path d="M206.0 203.0L159.47 209.13L159.09 204.66Z" fill="#f1eade"/>
<path d="M206.0 203.0L159.17 206.07L159.09 201.59Z" fill="#f2ebe0"/>
<path d="M206.0 203.0L159.06 203.00L159.28 198.53Z" fill="#f2ebdf"/>
<path d="M206.0 203.0L159.17 199.93L159.67 195.48Z" fill="#f0e9dd"/>
<path d="M206.0 203.0L159.47 196.87L160.26 192.47Z" fill="#eee6d9"/>
<path d="M206.0 203.0L159.97 193.84L161.05 189.50Z" fill="#eae1d3"/>
<path d="M206.0 203.0L160.66 190.85L162.03 186.59Z" fill="#e5dccc"/>
<path d="M206.0 203.0L161.56 187.91L163.20 183.75Z" fill="#e0d5c3"/>
<path d="M206.0 203.0L162.64 185.04L164.55 180.99Z" fill="#daceba"/>
<path d="M206.0 203.0L163.91 182.24L166.08 178.32Z" fill="#d4c7b0"/>
<path d="M206.0 203.0L165.35 179.53L167.77 175.77Z" fill="#cebfa6"/>
<path d="M206.0 203.0L166.97 176.92L169.64 173.32Z" fill="#c8b79b"/>
<path d="M206.0 203.0L168.76 174.43L171.66 171.01Z" fill="#c2b092"/>
<path d="M206.0 203.0L170.71 172.05L173.82 168.83Z" fill="#bca989"/>
<path d="M206.0 203.0L172.81 169.81L176.13 166.80Z" fill="#b7a380"/>
<path d="M206.0 203.0L175.05 167.71L178.56 164.92Z" fill="#b29d79"/>
<path d="M206.0 203.0L177.43 165.76L181.11 163.21Z" fill="#ae9973"/>
<path d="M206.0 203.0L179.92 163.97L183.76 161.67Z" fill="#ab956e"/>
<path d="M206.0 203.0L182.53 162.35L186.51 160.30Z" fill="#a9926a"/>
<path d="M206.0 203.0L185.24 160.91L189.35 159.12Z" fill="#a78f67"/>
<path d="M206.0 203.0L188.04 159.64L192.25 158.12Z" fill="#a68e65"/>
<path d="M206.0 203.0L190.91 158.56L195.22 157.32Z" fill="#a58d63"/>
<path d="M206.0 203.0L193.85 157.66L198.23 156.71Z" fill="#a48c62"/>
<path d="M206.0 203.0L196.84 156.97L201.27 156.30Z" fill="#a48c62"/>
<path d="M206.0 203.0L199.87 156.47L204.34 156.09Z" fill="#a48c62"/>
<path d="M206.0 203.0L202.93 156.17L207.41 156.09Z" fill="#a48c62"/>
<path d="M206.0 203.0L206.00 156.06L210.47 156.28Z" fill="#a48c62"/>
<path d="M206.0 203.0L209.07 156.17L213.52 156.67Z" fill="#a48c62"/>
<path d="M206.0 203.0L212.13 156.47L216.53 157.26Z" fill="#a48c62"/>
<path d="M206.0 203.0L215.16 156.97L219.50 158.05Z" fill="#a48d63"/>
<path d="M206.0 203.0L218.15 157.66L222.41 159.03Z" fill="#a58d64"/>
<path d="M206.0 203.0L221.09 158.56L225.25 160.20Z" fill="#a68f65"/>
<path d="M206.0 203.0L223.96 159.64L228.01 161.55Z" fill="#a89068"/>
<path d="M206.0 203.0L226.76 160.91L230.68 163.08Z" fill="#aa936b"/>
<path d="M206.0 203.0L229.47 162.35L233.23 164.77Z" fill="#ad9670"/>
<path d="M206.0 203.0L232.08 163.97L235.68 166.64Z" fill="#b09b75"/>
<path d="M206.0 203.0L234.57 165.76L237.99 168.66Z" fill="#b4a07c"/>
<path d="M206.0 203.0L236.95 167.71L240.17 170.82Z" fill="#b9a684"/>
<path d="M206.0 203.0L239.19 169.81L242.20 173.13Z" fill="#beac8d"/>
<path d="M206.0 203.0L241.29 172.05L244.08 175.56Z" fill="#c4b396"/>
<path d="M206.0 203.0L243.24 174.43L245.79 178.11Z" fill="#cabba0"/>
<path d="M206.0 203.0L245.03 176.92L247.33 180.76Z" fill="#d1c3aa"/>
<path d="M206.0 203.0L246.65 179.53L248.70 183.51Z" fill="#d7cab4"/>
<path d="M206.0 203.0L248.09 182.24L249.88 186.35Z" fill="#ddd2be"/>
<path d="M206.0 203.0L249.36 185.04L250.88 189.25Z" fill="#e3d8c7"/>
<path d="M206.0 203.0L250.44 187.91L251.68 192.22Z" fill="#e8decf"/>
<path d="M206.0 203.0L251.34 190.85L252.29 195.23Z" fill="#ece3d6"/>
<path d="M206.0 203.0L252.03 193.84L252.70 198.27Z" fill="#efe7db"/>
<path d="M206.0 203.0L252.53 196.87L252.91 201.34Z" fill="#f1eade"/>
<path d="M206.0 203.0L252.83 199.93L252.91 204.41Z" fill="#f2ebe0"/>
</g></g>
<path d="M239.85 201.98 L239.86 203.58 L246.64 205.23 L245.89 211.06 L238.92 210.95 L238.50 212.49 L238.02 214.01 L243.96 217.68 L241.45 222.99 L234.85 220.73 L233.98 222.07 L233.05 223.37 L237.57 228.69 L233.54 232.97 L227.96 228.78 L226.72 229.79 L225.43 230.73 L228.08 237.19 L222.93 240.01 L218.91 234.30 L217.43 234.88 L215.91 235.38 L216.44 242.34 L210.66 243.43 L208.61 236.76 L207.02 236.85 L205.42 236.86 L203.77 243.64 L197.94 242.89 L198.05 235.92 L196.51 235.50 L194.99 235.02 L191.32 240.96 L186.01 238.45 L188.27 231.85 L186.93 230.98 L185.63 230.05 L180.31 234.57 L176.03 230.54 L180.22 224.96 L179.21 223.72 L178.27 222.43 L171.81 225.08 L168.99 219.93 L174.70 215.91 L174.12 214.43 L173.62 212.91 L166.66 213.44 L165.57 207.66 L172.24 205.61 L172.15 204.02 L172.14 202.42 L165.36 200.77 L166.11 194.94 L173.08 195.05 L173.50 193.51 L173.98 191.99 L168.04 188.32 L170.55 183.01 L177.15 185.27 L178.02 183.93 L178.95 182.63 L174.43 177.31 L178.46 173.03 L184.04 177.22 L185.28 176.21 L186.57 175.27 L183.92 168.81 L189.07 165.99 L193.09 171.70 L194.57 171.12 L196.09 170.62 L195.56 163.66 L201.34 162.57 L203.39 169.24 L204.98 169.15 L206.58 169.14 L208.23 162.36 L214.06 163.11 L213.95 170.08 L215.49 170.50 L217.01 170.98 L220.68 165.04 L225.99 167.55 L223.73 174.15 L225.07 175.02 L226.37 175.95 L231.69 171.43 L235.97 175.46 L231.78 181.04 L232.79 182.28 L233.73 183.57 L240.19 180.92 L243.01 186.07 L237.30 190.09 L237.88 191.57 L238.38 193.09 L245.34 192.56 L246.43 198.34 L239.76 200.39Z M228.30 203.00 A22.30 22.30 0 1 0 183.70 203.00 A22.30 22.30 0 1 0 228.30 203.00 Z" fill="none" stroke="#2a200c" stroke-width="1.05" stroke-linejoin="round"/>
<g clip-path="url(#gc3)"><g filter="url(#gbl)">
<path d="M316.9 204.5L356.59 204.50L356.41 208.28Z" fill="#f2ebdf"/>
<path d="M316.9 204.5L356.51 207.10L356.08 210.86Z" fill="#f0e9dd"/>
<path d="M316.9 204.5L356.25 209.68L355.58 213.41Z" fill="#eee6d9"/>
<path d="M316.9 204.5L355.83 212.24L354.91 215.92Z" fill="#eae1d3"/>
<path d="M316.9 204.5L355.24 214.77L354.08 218.38Z" fill="#e5dccc"/>
<path d="M316.9 204.5L354.48 217.26L353.10 220.78Z" fill="#e0d5c3"/>
<path d="M316.9 204.5L353.57 219.69L351.95 223.11Z" fill="#daceba"/>
<path d="M316.9 204.5L352.50 222.05L350.66 225.37Z" fill="#d4c7b0"/>
<path d="M316.9 204.5L351.27 224.34L349.22 227.53Z" fill="#cebfa6"/>
<path d="M316.9 204.5L349.90 226.55L347.65 229.60Z" fill="#c8b79b"/>
<path d="M316.9 204.5L348.39 228.66L345.94 231.55Z" fill="#c2b092"/>
<path d="M316.9 204.5L346.74 230.67L344.11 233.39Z" fill="#bca989"/>
<path d="M316.9 204.5L344.97 232.57L342.16 235.11Z" fill="#b7a380"/>
<path d="M316.9 204.5L343.07 234.34L340.11 236.70Z" fill="#b29d79"/>
<path d="M316.9 204.5L341.06 235.99L337.95 238.15Z" fill="#ae9973"/>
<path d="M316.9 204.5L338.95 237.50L335.71 239.45Z" fill="#ab956e"/>
<path d="M316.9 204.5L336.75 238.87L333.38 240.61Z" fill="#a9926a"/>
<path d="M316.9 204.5L334.45 240.10L330.98 241.61Z" fill="#a78f67"/>
<path d="M316.9 204.5L332.09 241.17L328.52 242.45Z" fill="#a68e65"/>
<path d="M316.9 204.5L329.66 242.08L326.02 243.13Z" fill="#a58d63"/>
<path d="M316.9 204.5L327.17 242.84L323.47 243.64Z" fill="#a48c62"/>
<path d="M316.9 204.5L324.64 243.43L320.90 243.99Z" fill="#a48c62"/>
<path d="M316.9 204.5L322.08 243.85L318.31 244.17Z" fill="#a48c62"/>
<path d="M316.9 204.5L319.50 244.11L315.71 244.17Z" fill="#a48c62"/>
<path d="M316.9 204.5L316.90 244.19L313.12 244.01Z" fill="#a48c62"/>
<path d="M316.9 204.5L314.30 244.11L310.54 243.68Z" fill="#a48c62"/>
<path d="M316.9 204.5L311.72 243.85L307.99 243.18Z" fill="#a48c62"/>
<path d="M316.9 204.5L309.16 243.43L305.48 242.51Z" fill="#a48d63"/>
<path d="M316.9 204.5L306.63 242.84L303.02 241.68Z" fill="#a58d64"/>
<path d="M316.9 204.5L304.14 242.08L300.62 240.70Z" fill="#a68f65"/>
<path d="M316.9 204.5L301.71 241.17L298.29 239.55Z" fill="#a89068"/>
<path d="M316.9 204.5L299.35 240.10L296.03 238.26Z" fill="#aa936b"/>
<path d="M316.9 204.5L297.06 238.87L293.87 236.82Z" fill="#ad9670"/>
<path d="M316.9 204.5L294.85 237.50L291.80 235.25Z" fill="#b09b75"/>
<path d="M316.9 204.5L292.74 235.99L289.85 233.54Z" fill="#b4a07c"/>
<path d="M316.9 204.5L290.73 234.34L288.01 231.71Z" fill="#b9a684"/>
<path d="M316.9 204.5L288.83 232.57L286.29 229.76Z" fill="#beac8d"/>
<path d="M316.9 204.5L287.06 230.67L284.70 227.71Z" fill="#c4b396"/>
<path d="M316.9 204.5L285.41 228.66L283.25 225.55Z" fill="#cabba0"/>
<path d="M316.9 204.5L283.90 226.55L281.95 223.31Z" fill="#d1c3aa"/>
<path d="M316.9 204.5L282.53 224.34L280.79 220.98Z" fill="#d7cab4"/>
<path d="M316.9 204.5L281.30 222.05L279.79 218.58Z" fill="#ddd2be"/>
<path d="M316.9 204.5L280.23 219.69L278.95 216.12Z" fill="#e3d8c7"/>
<path d="M316.9 204.5L279.32 217.26L278.27 213.62Z" fill="#e8decf"/>
<path d="M316.9 204.5L278.56 214.77L277.76 211.07Z" fill="#ece3d6"/>
<path d="M316.9 204.5L277.97 212.24L277.41 208.50Z" fill="#efe7db"/>
<path d="M316.9 204.5L277.55 209.68L277.23 205.91Z" fill="#f1eade"/>
<path d="M316.9 204.5L277.29 207.10L277.23 203.31Z" fill="#f2ebe0"/>
<path d="M316.9 204.5L277.21 204.50L277.39 200.72Z" fill="#f2ebdf"/>
<path d="M316.9 204.5L277.29 201.90L277.72 198.14Z" fill="#f0e9dd"/>
<path d="M316.9 204.5L277.55 199.32L278.22 195.59Z" fill="#eee6d9"/>
<path d="M316.9 204.5L277.97 196.76L278.89 193.08Z" fill="#eae1d3"/>
<path d="M316.9 204.5L278.56 194.23L279.72 190.62Z" fill="#e5dccc"/>
<path d="M316.9 204.5L279.32 191.74L280.70 188.22Z" fill="#e0d5c3"/>
<path d="M316.9 204.5L280.23 189.31L281.85 185.89Z" fill="#daceba"/>
<path d="M316.9 204.5L281.30 186.95L283.14 183.63Z" fill="#d4c7b0"/>
<path d="M316.9 204.5L282.53 184.66L284.58 181.47Z" fill="#cebfa6"/>
<path d="M316.9 204.5L283.90 182.45L286.15 179.40Z" fill="#c8b79b"/>
<path d="M316.9 204.5L285.41 180.34L287.86 177.45Z" fill="#c2b092"/>
<path d="M316.9 204.5L287.06 178.33L289.69 175.61Z" fill="#bca989"/>
<path d="M316.9 204.5L288.83 176.43L291.64 173.89Z" fill="#b7a380"/>
<path d="M316.9 204.5L290.73 174.66L293.69 172.30Z" fill="#b29d79"/>
<path d="M316.9 204.5L292.74 173.01L295.85 170.85Z" fill="#ae9973"/>
<path d="M316.9 204.5L294.85 171.50L298.09 169.55Z" fill="#ab956e"/>
<path d="M316.9 204.5L297.05 170.13L300.42 168.39Z" fill="#a9926a"/>
<path d="M316.9 204.5L299.35 168.90L302.82 167.39Z" fill="#a78f67"/>
<path d="M316.9 204.5L301.71 167.83L305.28 166.55Z" fill="#a68e65"/>
<path d="M316.9 204.5L304.14 166.92L307.78 165.87Z" fill="#a58d63"/>
<path d="M316.9 204.5L306.63 166.16L310.33 165.36Z" fill="#a48c62"/>
<path d="M316.9 204.5L309.16 165.57L312.90 165.01Z" fill="#a48c62"/>
<path d="M316.9 204.5L311.72 165.15L315.49 164.83Z" fill="#a48c62"/>
<path d="M316.9 204.5L314.30 164.89L318.09 164.83Z" fill="#a48c62"/>
<path d="M316.9 204.5L316.90 164.81L320.68 164.99Z" fill="#a48c62"/>
<path d="M316.9 204.5L319.50 164.89L323.26 165.32Z" fill="#a48c62"/>
<path d="M316.9 204.5L322.08 165.15L325.81 165.82Z" fill="#a48c62"/>
<path d="M316.9 204.5L324.64 165.57L328.32 166.49Z" fill="#a48d63"/>
<path d="M316.9 204.5L327.17 166.16L330.78 167.32Z" fill="#a58d64"/>
<path d="M316.9 204.5L329.66 166.92L333.18 168.30Z" fill="#a68f65"/>
<path d="M316.9 204.5L332.09 167.83L335.51 169.45Z" fill="#a89068"/>
<path d="M316.9 204.5L334.45 168.90L337.77 170.74Z" fill="#aa936b"/>
<path d="M316.9 204.5L336.75 170.13L339.93 172.18Z" fill="#ad9670"/>
<path d="M316.9 204.5L338.95 171.50L342.00 173.75Z" fill="#b09b75"/>
<path d="M316.9 204.5L341.06 173.01L343.95 175.46Z" fill="#b4a07c"/>
<path d="M316.9 204.5L343.07 174.66L345.79 177.29Z" fill="#b9a684"/>
<path d="M316.9 204.5L344.97 176.43L347.51 179.24Z" fill="#beac8d"/>
<path d="M316.9 204.5L346.74 178.33L349.10 181.29Z" fill="#c4b396"/>
<path d="M316.9 204.5L348.39 180.34L350.55 183.45Z" fill="#cabba0"/>
<path d="M316.9 204.5L349.90 182.45L351.85 185.69Z" fill="#d1c3aa"/>
<path d="M316.9 204.5L351.27 184.65L353.01 188.02Z" fill="#d7cab4"/>
<path d="M316.9 204.5L352.50 186.95L354.01 190.42Z" fill="#ddd2be"/>
<path d="M316.9 204.5L353.57 189.31L354.85 192.88Z" fill="#e3d8c7"/>
<path d="M316.9 204.5L354.48 191.74L355.53 195.38Z" fill="#e8decf"/>
<path d="M316.9 204.5L355.24 194.23L356.04 197.93Z" fill="#ece3d6"/>
<path d="M316.9 204.5L355.83 196.76L356.39 200.50Z" fill="#efe7db"/>
<path d="M316.9 204.5L356.25 199.32L356.57 203.09Z" fill="#f1eade"/>
<path d="M316.9 204.5L356.51 201.90L356.57 205.69Z" fill="#f2ebe0"/>
</g></g>
<path d="M345.00 203.38 L345.02 204.70 L350.67 206.01 L350.10 210.86 L344.30 210.83 L343.97 212.11 L343.58 213.38 L348.55 216.37 L346.51 220.81 L341.00 218.99 L340.29 220.11 L339.53 221.19 L343.33 225.57 L340.02 229.16 L335.35 225.73 L334.33 226.57 L333.27 227.37 L335.52 232.71 L331.27 235.10 L327.88 230.39 L326.65 230.88 L325.40 231.31 L325.89 237.08 L321.11 238.04 L319.35 232.51 L318.02 232.60 L316.70 232.62 L315.39 238.27 L310.54 237.70 L310.57 231.90 L309.29 231.57 L308.02 231.18 L305.03 236.15 L300.59 234.11 L302.41 228.60 L301.29 227.89 L300.21 227.13 L295.83 230.93 L292.24 227.62 L295.67 222.95 L294.83 221.93 L294.03 220.87 L288.69 223.12 L286.30 218.87 L291.01 215.48 L290.52 214.25 L290.09 213.00 L284.32 213.49 L283.36 208.71 L288.89 206.95 L288.80 205.62 L288.78 204.30 L283.13 202.99 L283.70 198.14 L289.50 198.17 L289.83 196.89 L290.22 195.62 L285.25 192.63 L287.29 188.19 L292.80 190.01 L293.51 188.89 L294.27 187.81 L290.47 183.43 L293.78 179.84 L298.45 183.27 L299.47 182.43 L300.53 181.63 L298.28 176.29 L302.53 173.90 L305.92 178.61 L307.15 178.12 L308.40 177.69 L307.91 171.92 L312.69 170.96 L314.45 176.49 L315.78 176.40 L317.10 176.38 L318.41 170.73 L323.26 171.30 L323.23 177.10 L324.51 177.43 L325.78 177.82 L328.77 172.85 L333.21 174.89 L331.39 180.40 L332.51 181.11 L333.59 181.87 L337.97 178.07 L341.56 181.38 L338.13 186.05 L338.97 187.07 L339.77 188.13 L345.11 185.88 L347.50 190.13 L342.79 193.52 L343.28 194.75 L343.71 196.00 L349.48 195.51 L350.44 200.29 L344.91 202.05Z M336.30 204.50 A19.40 19.40 0 1 0 297.50 204.50 A19.40 19.40 0 1 0 336.30 204.50 Z" fill="none" stroke="#2a200c" stroke-width="1.05" stroke-linejoin="round"/>
<g clip-path="url(#gc4)"><g filter="url(#gbl)">
<path d="M152.5 265.1L202.16 265.10L201.94 269.83Z" fill="#f2ebdf"/>
<path d="M152.5 265.1L202.06 268.35L201.52 273.06Z" fill="#f0e9dd"/>
<path d="M152.5 265.1L201.74 271.58L200.90 276.25Z" fill="#eee6d9"/>
<path d="M152.5 265.1L201.21 274.79L200.07 279.39Z" fill="#eae1d3"/>
<path d="M152.5 265.1L200.47 277.95L199.03 282.47Z" fill="#e5dccc"/>
<path d="M152.5 265.1L199.53 281.06L197.79 285.47Z" fill="#e0d5c3"/>
<path d="M152.5 265.1L198.38 284.11L196.36 288.39Z" fill="#daceba"/>
<path d="M152.5 265.1L197.04 287.07L194.75 291.21Z" fill="#d4c7b0"/>
<path d="M152.5 265.1L195.51 289.93L192.95 293.92Z" fill="#cebfa6"/>
<path d="M152.5 265.1L193.79 292.69L190.98 296.50Z" fill="#c8b79b"/>
<path d="M152.5 265.1L191.90 295.33L188.84 298.95Z" fill="#c2b092"/>
<path d="M152.5 265.1L189.84 297.85L186.55 301.26Z" fill="#bca989"/>
<path d="M152.5 265.1L187.62 300.22L184.11 303.41Z" fill="#b7a380"/>
<path d="M152.5 265.1L185.25 302.44L181.54 305.39Z" fill="#b29d79"/>
<path d="M152.5 265.1L182.73 304.50L178.84 307.20Z" fill="#ae9973"/>
<path d="M152.5 265.1L180.09 306.39L176.03 308.84Z" fill="#ab956e"/>
<path d="M152.5 265.1L177.33 308.11L173.12 310.28Z" fill="#a9926a"/>
<path d="M152.5 265.1L174.47 309.64L170.12 311.53Z" fill="#a78f67"/>
<path d="M152.5 265.1L171.51 310.98L167.05 312.59Z" fill="#a68e65"/>
<path d="M152.5 265.1L168.46 312.13L163.91 313.44Z" fill="#a58d63"/>
<path d="M152.5 265.1L165.35 313.07L160.72 314.08Z" fill="#a48c62"/>
<path d="M152.5 265.1L162.19 313.81L157.50 314.51Z" fill="#a48c62"/>
<path d="M152.5 265.1L158.98 314.34L154.26 314.73Z" fill="#a48c62"/>
<path d="M152.5 265.1L155.75 314.66L151.01 314.74Z" fill="#a48c62"/>
<path d="M152.5 265.1L152.50 314.77L147.77 314.54Z" fill="#a48c62"/>
<path d="M152.5 265.1L149.25 314.66L144.54 314.12Z" fill="#a48c62"/>
<path d="M152.5 265.1L146.02 314.34L141.35 313.50Z" fill="#a48c62"/>
<path d="M152.5 265.1L142.81 313.81L138.21 312.67Z" fill="#a48d63"/>
<path d="M152.5 265.1L139.65 313.07L135.13 311.63Z" fill="#a58d64"/>
<path d="M152.5 265.1L136.54 312.13L132.13 310.39Z" fill="#a68f65"/>
<path d="M152.5 265.1L133.49 310.98L129.21 308.96Z" fill="#a89068"/>
<path d="M152.5 265.1L130.53 309.64L126.39 307.35Z" fill="#aa936b"/>
<path d="M152.5 265.1L127.67 308.11L123.68 305.55Z" fill="#ad9670"/>
<path d="M152.5 265.1L124.91 306.39L121.10 303.58Z" fill="#b09b75"/>
<path d="M152.5 265.1L122.27 304.50L118.65 301.44Z" fill="#b4a07c"/>
<path d="M152.5 265.1L119.75 302.44L116.34 299.15Z" fill="#b9a684"/>
<path d="M152.5 265.1L117.38 300.22L114.19 296.71Z" fill="#beac8d"/>
<path d="M152.5 265.1L115.16 297.85L112.21 294.14Z" fill="#c4b396"/>
<path d="M152.5 265.1L113.10 295.33L110.40 291.44Z" fill="#cabba0"/>
<path d="M152.5 265.1L111.21 292.69L108.76 288.63Z" fill="#d1c3aa"/>
<path d="M152.5 265.1L109.49 289.93L107.32 285.72Z" fill="#d7cab4"/>
<path d="M152.5 265.1L107.96 287.07L106.07 282.72Z" fill="#ddd2be"/>
<path d="M152.5 265.1L106.62 284.11L105.01 279.65Z" fill="#e3d8c7"/>
<path d="M152.5 265.1L105.47 281.06L104.16 276.51Z" fill="#e8decf"/>
<path d="M152.5 265.1L104.53 277.95L103.52 273.32Z" fill="#ece3d6"/>
<path d="M152.5 265.1L103.79 274.79L103.09 270.10Z" fill="#efe7db"/>
<path d="M152.5 265.1L103.26 271.58L102.87 266.86Z" fill="#f1eade"/>
<path d="M152.5 265.1L102.94 268.35L102.86 263.61Z" fill="#f2ebe0"/>
<path d="M152.5 265.1L102.84 265.10L103.06 260.37Z" fill="#f2ebdf"/>
<path d="M152.5 265.1L102.94 261.85L103.48 257.14Z" fill="#f0e9dd"/>
<path d="M152.5 265.1L103.26 258.62L104.10 253.95Z" fill="#eee6d9"/>
<path d="M152.5 265.1L103.79 255.41L104.93 250.81Z" fill="#eae1d3"/>
<path d="M152.5 265.1L104.53 252.25L105.97 247.73Z" fill="#e5dccc"/>
<path d="M152.5 265.1L105.47 249.14L107.21 244.73Z" fill="#e0d5c3"/>
<path d="M152.5 265.1L106.62 246.09L108.64 241.81Z" fill="#daceba"/>
<path d="M152.5 265.1L107.96 243.13L110.25 238.99Z" fill="#d4c7b0"/>
<path d="M152.5 265.1L109.49 240.27L112.05 236.28Z" fill="#cebfa6"/>
<path d="M152.5 265.1L111.21 237.51L114.02 233.70Z" fill="#c8b79b"/>
<path d="M152.5 265.1L113.10 234.87L116.16 231.25Z" fill="#c2b092"/>
<path d="M152.5 265.1L115.16 232.35L118.45 228.94Z" fill="#bca989"/>
<path d="M152.5 265.1L117.38 229.98L120.89 226.79Z" fill="#b7a380"/>
<path d="M152.5 265.1L119.75 227.76L123.46 224.81Z" fill="#b29d79"/>
<path d="M152.5 265.1L122.27 225.70L126.16 223.00Z" fill="#ae9973"/>
<path d="M152.5 265.1L124.91 223.81L128.97 221.36Z" fill="#ab956e"/>
<path d="M152.5 265.1L127.67 222.09L131.88 219.92Z" fill="#a9926a"/>
<path d="M152.5 265.1L130.53 220.56L134.88 218.67Z" fill="#a78f67"/>
<path d="M152.5 265.1L133.49 219.22L137.95 217.61Z" fill="#a68e65"/>
<path d="M152.5 265.1L136.54 218.07L141.09 216.76Z" fill="#a58d63"/>
<path d="M152.5 265.1L139.65 217.13L144.28 216.12Z" fill="#a48c62"/>
<path d="M152.5 265.1L142.81 216.39L147.50 215.69Z" fill="#a48c62"/>
<path d="M152.5 265.1L146.02 215.86L150.74 215.47Z" fill="#a48c62"/>
<path d="M152.5 265.1L149.25 215.54L153.99 215.46Z" fill="#a48c62"/>
<path d="M152.5 265.1L152.50 215.44L157.23 215.66Z" fill="#a48c62"/>
<path d="M152.5 265.1L155.75 215.54L160.46 216.08Z" fill="#a48c62"/>
<path d="M152.5 265.1L158.98 215.86L163.65 216.70Z" fill="#a48c62"/>
<path d="M152.5 265.1L162.19 216.39L166.79 217.53Z" fill="#a48d63"/>
<path d="M152.5 265.1L165.35 217.13L169.87 218.57Z" fill="#a58d64"/>
<path d="M152.5 265.1L168.46 218.07L172.87 219.81Z" fill="#a68f65"/>
<path d="M152.5 265.1L171.51 219.22L175.79 221.24Z" fill="#a89068"/>
<path d="M152.5 265.1L174.47 220.56L178.61 222.85Z" fill="#aa936b"/>
<path d="M152.5 265.1L177.33 222.09L181.32 224.65Z" fill="#ad9670"/>
<path d="M152.5 265.1L180.09 223.81L183.90 226.62Z" fill="#b09b75"/>
<path d="M152.5 265.1L182.73 225.70L186.35 228.76Z" fill="#b4a07c"/>
<path d="M152.5 265.1L185.25 227.76L188.66 231.05Z" fill="#b9a684"/>
<path d="M152.5 265.1L187.62 229.98L190.81 233.49Z" fill="#beac8d"/>
<path d="M152.5 265.1L189.84 232.35L192.79 236.06Z" fill="#c4b396"/>
<path d="M152.5 265.1L191.90 234.87L194.60 238.76Z" fill="#cabba0"/>
<path d="M152.5 265.1L193.79 237.51L196.24 241.57Z" fill="#d1c3aa"/>
<path d="M152.5 265.1L195.51 240.27L197.68 244.48Z" fill="#d7cab4"/>
<path d="M152.5 265.1L197.04 243.13L198.93 247.48Z" fill="#ddd2be"/>
<path d="M152.5 265.1L198.38 246.09L199.99 250.55Z" fill="#e3d8c7"/>
<path d="M152.5 265.1L199.53 249.14L200.84 253.69Z" fill="#e8decf"/>
<path d="M152.5 265.1L200.47 252.25L201.48 256.88Z" fill="#ece3d6"/>
<path d="M152.5 265.1L201.21 255.41L201.91 260.10Z" fill="#efe7db"/>
<path d="M152.5 265.1L201.74 258.62L202.13 263.34Z" fill="#f1eade"/>
<path d="M152.5 265.1L202.06 261.85L202.14 266.59Z" fill="#f2ebe0"/>
</g></g>
<path d="M188.41 267.98 L188.23 269.67 L195.21 272.20 L193.74 278.28 L186.38 277.35 L185.76 278.93 L185.07 280.49 L190.93 285.06 L187.65 290.38 L180.93 287.22 L179.86 288.54 L178.73 289.80 L182.88 295.95 L178.12 300.01 L172.71 294.93 L171.28 295.84 L169.81 296.69 L171.86 303.83 L166.08 306.22 L162.50 299.71 L160.86 300.14 L159.20 300.50 L158.94 307.92 L152.71 308.40 L151.32 301.11 L149.62 301.01 L147.93 300.83 L145.40 307.81 L139.32 306.34 L140.25 298.98 L138.67 298.36 L137.11 297.67 L132.54 303.53 L127.22 300.25 L130.38 293.53 L129.06 292.46 L127.80 291.33 L121.65 295.48 L117.59 290.72 L122.67 285.31 L121.76 283.88 L120.91 282.41 L113.77 284.46 L111.38 278.68 L117.89 275.10 L117.46 273.46 L117.10 271.80 L109.68 271.54 L109.20 265.31 L116.49 263.92 L116.59 262.22 L116.77 260.53 L109.79 258.00 L111.26 251.92 L118.62 252.85 L119.24 251.27 L119.93 249.71 L114.07 245.14 L117.35 239.82 L124.07 242.98 L125.14 241.66 L126.27 240.40 L122.12 234.25 L126.88 230.19 L132.29 235.27 L133.72 234.36 L135.19 233.51 L133.14 226.37 L138.92 223.98 L142.50 230.49 L144.14 230.06 L145.80 229.70 L146.06 222.28 L152.29 221.80 L153.68 229.09 L155.38 229.19 L157.07 229.37 L159.60 222.39 L165.68 223.86 L164.75 231.22 L166.33 231.84 L167.89 232.53 L172.46 226.67 L177.78 229.95 L174.62 236.67 L175.94 237.74 L177.20 238.87 L183.35 234.72 L187.41 239.48 L182.33 244.89 L183.24 246.32 L184.09 247.79 L191.23 245.74 L193.62 251.52 L187.11 255.10 L187.54 256.74 L187.90 258.40 L195.32 258.66 L195.80 264.89 L188.51 266.28Z M176.80 265.10 A24.30 24.30 0 1 0 128.20 265.10 A24.30 24.30 0 1 0 176.80 265.10 Z" fill="none" stroke="#2a200c" stroke-width="1.05" stroke-linejoin="round"/>
<g clip-path="url(#gc5)"><g filter="url(#gbl)">
<path d="M604.4 126.2L646.61 126.20L646.42 130.22Z" fill="#f2ebdf"/>
<path d="M604.4 126.2L646.52 128.96L646.06 132.96Z" fill="#f0e9dd"/>
<path d="M604.4 126.2L646.25 131.71L645.53 135.67Z" fill="#eee6d9"/>
<path d="M604.4 126.2L645.80 134.43L644.83 138.34Z" fill="#eae1d3"/>
<path d="M604.4 126.2L645.17 137.12L643.94 140.96Z" fill="#e5dccc"/>
<path d="M604.4 126.2L644.37 139.77L642.89 143.52Z" fill="#e0d5c3"/>
<path d="M604.4 126.2L643.40 142.35L641.68 146.00Z" fill="#daceba"/>
<path d="M604.4 126.2L642.26 144.87L640.31 148.39Z" fill="#d4c7b0"/>
<path d="M604.4 126.2L640.95 147.31L638.78 150.69Z" fill="#cebfa6"/>
<path d="M604.4 126.2L639.50 149.65L637.10 152.89Z" fill="#c8b79b"/>
<path d="M604.4 126.2L637.89 151.90L635.29 154.97Z" fill="#c2b092"/>
<path d="M604.4 126.2L636.14 154.03L633.34 156.93Z" fill="#bca989"/>
<path d="M604.4 126.2L634.25 156.05L631.27 158.76Z" fill="#b7a380"/>
<path d="M604.4 126.2L632.23 157.94L629.08 160.44Z" fill="#b29d79"/>
<path d="M604.4 126.2L630.10 159.69L626.79 161.98Z" fill="#ae9973"/>
<path d="M604.4 126.2L627.85 161.30L624.40 163.37Z" fill="#ab956e"/>
<path d="M604.4 126.2L625.50 162.75L621.93 164.60Z" fill="#a9926a"/>
<path d="M604.4 126.2L623.07 164.06L619.38 165.66Z" fill="#a78f67"/>
<path d="M604.4 126.2L620.55 165.20L616.76 166.56Z" fill="#a68e65"/>
<path d="M604.4 126.2L617.97 166.17L614.10 167.28Z" fill="#a58d63"/>
<path d="M604.4 126.2L615.32 166.97L611.39 167.83Z" fill="#a48c62"/>
<path d="M604.4 126.2L612.63 167.60L608.65 168.20Z" fill="#a48c62"/>
<path d="M604.4 126.2L609.91 168.05L605.90 168.38Z" fill="#a48c62"/>
<path d="M604.4 126.2L607.16 168.32L603.13 168.39Z" fill="#a48c62"/>
<path d="M604.4 126.2L604.40 168.41L600.38 168.22Z" fill="#a48c62"/>
<path d="M604.4 126.2L601.64 168.32L597.64 167.86Z" fill="#a48c62"/>
<path d="M604.4 126.2L598.89 168.05L594.93 167.33Z" fill="#a48c62"/>
<path d="M604.4 126.2L596.17 167.60L592.26 166.63Z" fill="#a48d63"/>
<path d="M604.4 126.2L593.48 166.97L589.64 165.74Z" fill="#a58d64"/>
<path d="M604.4 126.2L590.83 166.17L587.08 164.69Z" fill="#a68f65"/>
<path d="M604.4 126.2L588.25 165.20L584.60 163.48Z" fill="#a89068"/>
<path d="M604.4 126.2L585.73 164.06L582.21 162.11Z" fill="#aa936b"/>
<path d="M604.4 126.2L583.29 162.75L579.91 160.58Z" fill="#ad9670"/>
<path d="M604.4 126.2L580.95 161.30L577.71 158.90Z" fill="#b09b75"/>
<path d="M604.4 126.2L578.70 159.69L575.63 157.09Z" fill="#b4a07c"/>
<path d="M604.4 126.2L576.57 157.94L573.67 155.14Z" fill="#b9a684"/>
<path d="M604.4 126.2L574.55 156.05L571.84 153.07Z" fill="#beac8d"/>
<path d="M604.4 126.2L572.66 154.03L570.16 150.88Z" fill="#c4b396"/>
<path d="M604.4 126.2L570.91 151.90L568.62 148.59Z" fill="#cabba0"/>
<path d="M604.4 126.2L569.30 149.65L567.23 146.20Z" fill="#d1c3aa"/>
<path d="M604.4 126.2L567.85 147.31L566.00 143.73Z" fill="#d7cab4"/>
<path d="M604.4 126.2L566.54 144.87L564.94 141.18Z" fill="#ddd2be"/>
<path d="M604.4 126.2L565.40 142.35L564.04 138.56Z" fill="#e3d8c7"/>
<path d="M604.4 126.2L564.43 139.77L563.32 135.90Z" fill="#e8decf"/>
<path d="M604.4 126.2L563.63 137.12L562.77 133.19Z" fill="#ece3d6"/>
<path d="M604.4 126.2L563.00 134.43L562.40 130.45Z" fill="#efe7db"/>
<path d="M604.4 126.2L562.55 131.71L562.22 127.70Z" fill="#f1eade"/>
<path d="M604.4 126.2L562.28 128.96L562.21 124.93Z" fill="#f2ebe0"/>
<path d="M604.4 126.2L562.19 126.20L562.38 122.18Z" fill="#f2ebdf"/>
<path d="M604.4 126.2L562.28 123.44L562.74 119.44Z" fill="#f0e9dd"/>
<path d="M604.4 126.2L562.55 120.69L563.27 116.73Z" fill="#eee6d9"/>
<path d="M604.4 126.2L563.00 117.97L563.97 114.06Z" fill="#eae1d3"/>
<path d="M604.4 126.2L563.63 115.28L564.86 111.44Z" fill="#e5dccc"/>
<path d="M604.4 126.2L564.43 112.63L565.91 108.88Z" fill="#e0d5c3"/>
<path d="M604.4 126.2L565.40 110.05L567.12 106.40Z" fill="#daceba"/>
<path d="M604.4 126.2L566.54 107.53L568.49 104.01Z" fill="#d4c7b0"/>
<path d="M604.4 126.2L567.85 105.10L570.02 101.71Z" fill="#cebfa6"/>
<path d="M604.4 126.2L569.30 102.75L571.70 99.51Z" fill="#c8b79b"/>
<path d="M604.4 126.2L570.91 100.50L573.51 97.43Z" fill="#c2b092"/>
<path d="M604.4 126.2L572.66 98.37L575.46 95.47Z" fill="#bca989"/>
<path d="M604.4 126.2L574.55 96.35L577.53 93.64Z" fill="#b7a380"/>
<path d="M604.4 126.2L576.57 94.46L579.72 91.96Z" fill="#b29d79"/>
<path d="M604.4 126.2L578.70 92.71L582.01 90.42Z" fill="#ae9973"/>
<path d="M604.4 126.2L580.95 91.10L584.40 89.03Z" fill="#ab956e"/>
<path d="M604.4 126.2L583.29 89.65L586.87 87.80Z" fill="#a9926a"/>
<path d="M604.4 126.2L585.73 88.34L589.42 86.74Z" fill="#a78f67"/>
<path d="M604.4 126.2L588.25 87.20L592.04 85.84Z" fill="#a68e65"/>
<path d="M604.4 126.2L590.83 86.23L594.70 85.12Z" fill="#a58d63"/>
<path d="M604.4 126.2L593.48 85.43L597.41 84.57Z" fill="#a48c62"/>
<path d="M604.4 126.2L596.17 84.80L600.15 84.20Z" fill="#a48c62"/>
<path d="M604.4 126.2L598.89 84.35L602.90 84.02Z" fill="#a48c62"/>
<path d="M604.4 126.2L601.64 84.08L605.67 84.01Z" fill="#a48c62"/>
<path d="M604.4 126.2L604.40 83.99L608.42 84.18Z" fill="#a48c62"/>
<path d="M604.4 126.2L607.16 84.08L611.16 84.54Z" fill="#a48c62"/>
<path d="M604.4 126.2L609.91 84.35L613.87 85.07Z" fill="#a48c62"/>
<path d="M604.4 126.2L612.63 84.80L616.54 85.77Z" fill="#a48d63"/>
<path d="M604.4 126.2L615.32 85.43L619.16 86.66Z" fill="#a58d64"/>
<path d="M604.4 126.2L617.97 86.23L621.72 87.71Z" fill="#a68f65"/>
<path d="M604.4 126.2L620.55 87.20L624.20 88.92Z" fill="#a89068"/>
<path d="M604.4 126.2L623.07 88.34L626.59 90.29Z" fill="#aa936b"/>
<path d="M604.4 126.2L625.50 89.65L628.89 91.82Z" fill="#ad9670"/>
<path d="M604.4 126.2L627.85 91.10L631.09 93.50Z" fill="#b09b75"/>
<path d="M604.4 126.2L630.10 92.71L633.17 95.31Z" fill="#b4a07c"/>
<path d="M604.4 126.2L632.23 94.46L635.13 97.26Z" fill="#b9a684"/>
<path d="M604.4 126.2L634.25 96.35L636.96 99.33Z" fill="#beac8d"/>
<path d="M604.4 126.2L636.14 98.37L638.64 101.52Z" fill="#c4b396"/>
<path d="M604.4 126.2L637.89 100.50L640.18 103.81Z" fill="#cabba0"/>
<path d="M604.4 126.2L639.50 102.75L641.57 106.20Z" fill="#d1c3aa"/>
<path d="M604.4 126.2L640.95 105.09L642.80 108.67Z" fill="#d7cab4"/>
<path d="M604.4 126.2L642.26 107.53L643.86 111.22Z" fill="#ddd2be"/>
<path d="M604.4 126.2L643.40 110.05L644.76 113.84Z" fill="#e3d8c7"/>
<path d="M604.4 126.2L644.37 112.63L645.48 116.50Z" fill="#e8decf"/>
<path d="M604.4 126.2L645.17 115.28L646.03 119.21Z" fill="#ece3d6"/>
<path d="M604.4 126.2L645.80 117.97L646.40 121.95Z" fill="#efe7db"/>
<path d="M604.4 126.2L646.25 120.69L646.58 124.70Z" fill="#f1eade"/>
<path d="M604.4 126.2L646.52 123.44L646.59 127.47Z" fill="#f2ebe0"/>
</g></g>
<path d="M634.15 130.91 L633.89 132.31 L639.55 134.87 L637.93 139.84 L631.85 138.59 L631.24 139.87 L630.56 141.12 L635.15 145.31 L632.08 149.53 L626.68 146.47 L625.70 147.50 L624.67 148.47 L627.74 153.87 L623.51 156.94 L619.32 152.36 L618.08 153.03 L616.80 153.65 L618.05 159.73 L613.07 161.35 L610.51 155.69 L609.11 155.95 L607.71 156.14 L607.02 162.31 L601.79 162.31 L601.10 156.14 L599.69 155.95 L598.29 155.69 L595.73 161.35 L590.76 159.73 L592.01 153.65 L590.73 153.04 L589.48 152.36 L585.29 156.95 L581.07 153.88 L584.13 148.48 L583.10 147.50 L582.13 146.47 L576.73 149.54 L573.66 145.31 L578.24 141.12 L577.57 139.88 L576.95 138.60 L570.87 139.85 L569.25 134.87 L574.91 132.31 L574.65 130.91 L574.46 129.51 L568.29 128.82 L568.29 123.59 L574.46 122.90 L574.65 121.49 L574.91 120.09 L569.25 117.53 L570.87 112.56 L576.95 113.81 L577.56 112.53 L578.24 111.28 L573.65 107.09 L576.72 102.87 L582.12 105.93 L583.10 104.90 L584.13 103.93 L581.06 98.53 L585.29 95.46 L589.48 100.04 L590.72 99.37 L592.00 98.75 L590.75 92.67 L595.73 91.05 L598.29 96.71 L599.69 96.45 L601.09 96.26 L601.78 90.09 L607.01 90.09 L607.70 96.26 L609.11 96.45 L610.51 96.71 L613.07 91.05 L618.04 92.67 L616.79 98.75 L618.07 99.36 L619.32 100.04 L623.51 95.45 L627.73 98.52 L624.67 103.92 L625.70 104.90 L626.67 105.93 L632.07 102.86 L635.14 107.09 L630.56 111.28 L631.23 112.52 L631.85 113.80 L637.93 112.55 L639.55 117.53 L633.89 120.09 L634.15 121.49 L634.34 122.89 L640.51 123.58 L640.51 128.81 L634.34 129.50Z M625.00 126.20 A20.60 20.60 0 1 0 583.80 126.20 A20.60 20.60 0 1 0 625.00 126.20 Z" fill="none" stroke="#2a200c" stroke-width="1.05" stroke-linejoin="round"/>
<g clip-path="url(#gc6)"><g filter="url(#gbl)">
<path d="M553.5 159.5L585.74 159.50L585.59 162.57Z" fill="#f2ebdf"/>
<path d="M553.5 159.5L585.67 161.61L585.32 164.66Z" fill="#f0e9dd"/>
<path d="M553.5 159.5L585.46 163.71L584.91 166.73Z" fill="#eee6d9"/>
<path d="M553.5 159.5L585.12 165.79L584.37 168.77Z" fill="#eae1d3"/>
<path d="M553.5 159.5L584.64 167.84L583.70 170.77Z" fill="#e5dccc"/>
<path d="M553.5 159.5L584.02 169.86L582.90 172.72Z" fill="#e0d5c3"/>
<path d="M553.5 159.5L583.28 171.84L581.97 174.62Z" fill="#daceba"/>
<path d="M553.5 159.5L582.41 173.76L580.92 176.45Z" fill="#d4c7b0"/>
<path d="M553.5 159.5L581.42 175.62L579.75 178.20Z" fill="#cebfa6"/>
<path d="M553.5 159.5L580.30 177.41L578.47 179.88Z" fill="#c8b79b"/>
<path d="M553.5 159.5L579.07 179.12L577.09 181.47Z" fill="#c2b092"/>
<path d="M553.5 159.5L577.74 180.75L575.60 182.97Z" fill="#bca989"/>
<path d="M553.5 159.5L576.29 182.29L574.02 184.36Z" fill="#b7a380"/>
<path d="M553.5 159.5L574.75 183.74L572.35 185.65Z" fill="#b29d79"/>
<path d="M553.5 159.5L573.12 185.07L570.60 186.83Z" fill="#ae9973"/>
<path d="M553.5 159.5L571.41 186.30L568.77 187.89Z" fill="#ab956e"/>
<path d="M553.5 159.5L569.62 187.42L566.88 188.83Z" fill="#a9926a"/>
<path d="M553.5 159.5L567.76 188.41L564.94 189.64Z" fill="#a78f67"/>
<path d="M553.5 159.5L565.84 189.28L562.94 190.32Z" fill="#a68e65"/>
<path d="M553.5 159.5L563.86 190.02L560.91 190.87Z" fill="#a58d63"/>
<path d="M553.5 159.5L561.84 190.64L558.84 191.29Z" fill="#a48c62"/>
<path d="M553.5 159.5L559.79 191.12L556.75 191.57Z" fill="#a48c62"/>
<path d="M553.5 159.5L557.71 191.46L554.64 191.71Z" fill="#a48c62"/>
<path d="M553.5 159.5L555.61 191.67L552.53 191.72Z" fill="#a48c62"/>
<path d="M553.5 159.5L553.50 191.74L550.43 191.59Z" fill="#a48c62"/>
<path d="M553.5 159.5L551.39 191.67L548.34 191.32Z" fill="#a48c62"/>
<path d="M553.5 159.5L549.29 191.46L546.27 190.91Z" fill="#a48c62"/>
<path d="M553.5 159.5L547.21 191.12L544.23 190.37Z" fill="#a48d63"/>
<path d="M553.5 159.5L545.16 190.64L542.23 189.70Z" fill="#a58d64"/>
<path d="M553.5 159.5L543.14 190.02L540.28 188.90Z" fill="#a68f65"/>
<path d="M553.5 159.5L541.16 189.28L538.38 187.97Z" fill="#a89068"/>
<path d="M553.5 159.5L539.24 188.41L536.55 186.92Z" fill="#aa936b"/>
<path d="M553.5 159.5L537.38 187.42L534.80 185.75Z" fill="#ad9670"/>
<path d="M553.5 159.5L535.59 186.30L533.12 184.47Z" fill="#b09b75"/>
<path d="M553.5 159.5L533.88 185.07L531.53 183.09Z" fill="#b4a07c"/>
<path d="M553.5 159.5L532.25 183.74L530.03 181.60Z" fill="#b9a684"/>
<path d="M553.5 159.5L530.71 182.29L528.64 180.02Z" fill="#beac8d"/>
<path d="M553.5 159.5L529.26 180.75L527.35 178.35Z" fill="#c4b396"/>
<path d="M553.5 159.5L527.93 179.12L526.17 176.60Z" fill="#cabba0"/>
<path d="M553.5 159.5L526.70 177.41L525.11 174.77Z" fill="#d1c3aa"/>
<path d="M553.5 159.5L525.58 175.62L524.17 172.88Z" fill="#d7cab4"/>
<path d="M553.5 159.5L524.59 173.76L523.36 170.94Z" fill="#ddd2be"/>
<path d="M553.5 159.5L523.72 171.84L522.68 168.94Z" fill="#e3d8c7"/>
<path d="M553.5 159.5L522.98 169.86L522.13 166.91Z" fill="#e8decf"/>
<path d="M553.5 159.5L522.36 167.84L521.71 164.84Z" fill="#ece3d6"/>
<path d="M553.5 159.5L521.88 165.79L521.43 162.75Z" fill="#efe7db"/>
<path d="M553.5 159.5L521.54 163.71L521.29 160.64Z" fill="#f1eade"/>
<path d="M553.5 159.5L521.33 161.61L521.28 158.53Z" fill="#f2ebe0"/>
<path d="M553.5 159.5L521.26 159.50L521.41 156.43Z" fill="#f2ebdf"/>
<path d="M553.5 159.5L521.33 157.39L521.68 154.34Z" fill="#f0e9dd"/>
<path d="M553.5 159.5L521.54 155.29L522.09 152.27Z" fill="#eee6d9"/>
<path d="M553.5 159.5L521.88 153.21L522.63 150.23Z" fill="#eae1d3"/>
<path d="M553.5 159.5L522.36 151.16L523.30 148.23Z" fill="#e5dccc"/>
<path d="M553.5 159.5L522.98 149.14L524.10 146.28Z" fill="#e0d5c3"/>
<path d="M553.5 159.5L523.72 147.16L525.03 144.38Z" fill="#daceba"/>
<path d="M553.5 159.5L524.59 145.24L526.08 142.55Z" fill="#d4c7b0"/>
<path d="M553.5 159.5L525.58 143.38L527.25 140.80Z" fill="#cebfa6"/>
<path d="M553.5 159.5L526.70 141.59L528.53 139.12Z" fill="#c8b79b"/>
<path d="M553.5 159.5L527.93 139.88L529.91 137.53Z" fill="#c2b092"/>
<path d="M553.5 159.5L529.26 138.25L531.40 136.03Z" fill="#bca989"/>
<path d="M553.5 159.5L530.71 136.71L532.98 134.64Z" fill="#b7a380"/>
<path d="M553.5 159.5L532.25 135.26L534.65 133.35Z" fill="#b29d79"/>
<path d="M553.5 159.5L533.88 133.93L536.40 132.17Z" fill="#ae9973"/>
<path d="M553.5 159.5L535.59 132.70L538.23 131.11Z" fill="#ab956e"/>
<path d="M553.5 159.5L537.38 131.58L540.12 130.17Z" fill="#a9926a"/>
<path d="M553.5 159.5L539.24 130.59L542.06 129.36Z" fill="#a78f67"/>
<path d="M553.5 159.5L541.16 129.72L544.06 128.68Z" fill="#a68e65"/>
<path d="M553.5 159.5L543.14 128.98L546.09 128.13Z" fill="#a58d63"/>
<path d="M553.5 159.5L545.16 128.36L548.16 127.71Z" fill="#a48c62"/>
<path d="M553.5 159.5L547.21 127.88L550.25 127.43Z" fill="#a48c62"/>
<path d="M553.5 159.5L549.29 127.54L552.36 127.29Z" fill="#a48c62"/>
<path d="M553.5 159.5L551.39 127.33L554.47 127.28Z" fill="#a48c62"/>
<path d="M553.5 159.5L553.50 127.27L556.57 127.41Z" fill="#a48c62"/>
<path d="M553.5 159.5L555.61 127.33L558.66 127.68Z" fill="#a48c62"/>
<path d="M553.5 159.5L557.71 127.54L560.73 128.09Z" fill="#a48c62"/>
<path d="M553.5 159.5L559.79 127.88L562.77 128.63Z" fill="#a48d63"/>
<path d="M553.5 159.5L561.84 128.36L564.77 129.30Z" fill="#a58d64"/>
<path d="M553.5 159.5L563.86 128.98L566.72 130.10Z" fill="#a68f65"/>
<path d="M553.5 159.5L565.84 129.72L568.62 131.03Z" fill="#a89068"/>
<path d="M553.5 159.5L567.76 130.59L570.45 132.08Z" fill="#aa936b"/>
<path d="M553.5 159.5L569.62 131.58L572.20 133.25Z" fill="#ad9670"/>
<path d="M553.5 159.5L571.41 132.70L573.88 134.53Z" fill="#b09b75"/>
<path d="M553.5 159.5L573.12 133.93L575.47 135.91Z" fill="#b4a07c"/>
<path d="M553.5 159.5L574.75 135.26L576.97 137.40Z" fill="#b9a684"/>
<path d="M553.5 159.5L576.29 136.71L578.36 138.98Z" fill="#beac8d"/>
<path d="M553.5 159.5L577.74 138.25L579.65 140.65Z" fill="#c4b396"/>
<path d="M553.5 159.5L579.07 139.88L580.83 142.40Z" fill="#cabba0"/>
<path d="M553.5 159.5L580.30 141.59L581.89 144.23Z" fill="#d1c3aa"/>
<path d="M553.5 159.5L581.42 143.38L582.83 146.12Z" fill="#d7cab4"/>
<path d="M553.5 159.5L582.41 145.24L583.64 148.06Z" fill="#ddd2be"/>
<path d="M553.5 159.5L583.28 147.16L584.32 150.06Z" fill="#e3d8c7"/>
<path d="M553.5 159.5L584.02 149.14L584.87 152.09Z" fill="#e8decf"/>
<path d="M553.5 159.5L584.64 151.16L585.29 154.16Z" fill="#ece3d6"/>
<path d="M553.5 159.5L585.12 153.21L585.57 156.25Z" fill="#efe7db"/>
<path d="M553.5 159.5L585.46 155.29L585.71 158.36Z" fill="#f1eade"/>
<path d="M553.5 159.5L585.67 157.39L585.72 160.47Z" fill="#f2ebe0"/>
</g></g>
<path d="M575.71 159.50 L575.68 160.81 L580.05 162.33 L579.11 167.05 L574.49 166.78 L574.02 168.00 L573.49 169.19 L576.95 172.27 L574.27 176.28 L570.11 174.26 L569.21 175.21 L568.26 176.11 L570.28 180.27 L566.27 182.95 L563.19 179.49 L562.00 180.02 L560.78 180.49 L561.05 185.11 L556.33 186.05 L554.81 181.68 L553.50 181.71 L552.19 181.68 L550.67 186.05 L545.95 185.11 L546.22 180.49 L545.00 180.02 L543.81 179.49 L540.73 182.95 L536.72 180.27 L538.74 176.11 L537.79 175.21 L536.89 174.26 L532.73 176.28 L530.05 172.27 L533.51 169.19 L532.98 168.00 L532.51 166.78 L527.89 167.05 L526.95 162.33 L531.32 160.81 L531.29 159.50 L531.32 158.19 L526.95 156.67 L527.89 151.95 L532.51 152.22 L532.98 151.00 L533.51 149.81 L530.05 146.73 L532.73 142.72 L536.89 144.74 L537.79 143.79 L538.74 142.89 L536.72 138.73 L540.73 136.05 L543.81 139.51 L545.00 138.98 L546.22 138.51 L545.95 133.89 L550.67 132.95 L552.19 137.32 L553.50 137.29 L554.81 137.32 L556.33 132.95 L561.05 133.89 L560.78 138.51 L562.00 138.98 L563.19 139.51 L566.27 136.05 L570.28 138.73 L568.26 142.89 L569.21 143.79 L570.11 144.74 L574.27 142.72 L576.95 146.73 L573.49 149.81 L574.02 151.00 L574.49 152.22 L579.11 151.95 L580.05 156.67 L575.68 158.19Z M568.30 159.50 A14.80 14.80 0 1 0 538.70 159.50 A14.80 14.80 0 1 0 568.30 159.50 Z" fill="none" stroke="#2a200c" stroke-width="1.05" stroke-linejoin="round"/>
<g clip-path="url(#gc7)"><g filter="url(#gbl)">
<path d="M513.1 209.3L556.88 209.30L556.69 213.47Z" fill="#f2ebdf"/>
<path d="M513.1 209.3L556.79 212.16L556.32 216.31Z" fill="#f0e9dd"/>
<path d="M513.1 209.3L556.51 215.02L555.77 219.13Z" fill="#eee6d9"/>
<path d="M513.1 209.3L556.04 217.84L555.03 221.90Z" fill="#eae1d3"/>
<path d="M513.1 209.3L555.39 220.63L554.12 224.61Z" fill="#e5dccc"/>
<path d="M513.1 209.3L554.56 223.37L553.03 227.26Z" fill="#e0d5c3"/>
<path d="M513.1 209.3L553.55 226.06L551.77 229.83Z" fill="#daceba"/>
<path d="M513.1 209.3L552.37 228.67L550.35 232.32Z" fill="#d4c7b0"/>
<path d="M513.1 209.3L551.02 231.19L548.76 234.71Z" fill="#cebfa6"/>
<path d="M513.1 209.3L549.51 233.63L547.02 236.98Z" fill="#c8b79b"/>
<path d="M513.1 209.3L547.84 235.95L545.14 239.14Z" fill="#c2b092"/>
<path d="M513.1 209.3L546.02 238.17L543.12 241.18Z" fill="#bca989"/>
<path d="M513.1 209.3L544.06 240.26L540.97 243.07Z" fill="#b7a380"/>
<path d="M513.1 209.3L541.97 242.22L538.70 244.82Z" fill="#b29d79"/>
<path d="M513.1 209.3L539.75 244.04L536.32 246.42Z" fill="#ae9973"/>
<path d="M513.1 209.3L537.43 245.71L533.85 247.86Z" fill="#ab956e"/>
<path d="M513.1 209.3L534.99 247.22L531.28 249.13Z" fill="#a9926a"/>
<path d="M513.1 209.3L532.47 248.57L528.63 250.24Z" fill="#a78f67"/>
<path d="M513.1 209.3L529.86 249.75L525.92 251.16Z" fill="#a68e65"/>
<path d="M513.1 209.3L527.17 250.76L523.16 251.91Z" fill="#a58d63"/>
<path d="M513.1 209.3L524.43 251.59L520.35 252.48Z" fill="#a48c62"/>
<path d="M513.1 209.3L521.64 252.24L517.51 252.86Z" fill="#a48c62"/>
<path d="M513.1 209.3L518.82 252.71L514.65 253.06Z" fill="#a48c62"/>
<path d="M513.1 209.3L515.96 252.99L511.79 253.07Z" fill="#a48c62"/>
<path d="M513.1 209.3L513.10 253.09L508.93 252.89Z" fill="#a48c62"/>
<path d="M513.1 209.3L510.24 252.99L506.09 252.52Z" fill="#a48c62"/>
<path d="M513.1 209.3L507.38 252.71L503.27 251.97Z" fill="#a48c62"/>
<path d="M513.1 209.3L504.56 252.24L500.50 251.23Z" fill="#a48d63"/>
<path d="M513.1 209.3L501.77 251.59L497.79 250.32Z" fill="#a58d64"/>
<path d="M513.1 209.3L499.03 250.76L495.14 249.23Z" fill="#a68f65"/>
<path d="M513.1 209.3L496.34 249.75L492.57 247.97Z" fill="#a89068"/>
<path d="M513.1 209.3L493.73 248.57L490.08 246.55Z" fill="#aa936b"/>
<path d="M513.1 209.3L491.21 247.22L487.69 244.96Z" fill="#ad9670"/>
<path d="M513.1 209.3L488.77 245.71L485.42 243.22Z" fill="#b09b75"/>
<path d="M513.1 209.3L486.45 244.04L483.26 241.34Z" fill="#b4a07c"/>
<path d="M513.1 209.3L484.23 242.22L481.22 239.32Z" fill="#b9a684"/>
<path d="M513.1 209.3L482.14 240.26L479.33 237.17Z" fill="#beac8d"/>
<path d="M513.1 209.3L480.18 238.17L477.58 234.90Z" fill="#c4b396"/>
<path d="M513.1 209.3L478.36 235.95L475.98 232.52Z" fill="#cabba0"/>
<path d="M513.1 209.3L476.69 233.63L474.54 230.05Z" fill="#d1c3aa"/>
<path d="M513.1 209.3L475.18 231.19L473.27 227.48Z" fill="#d7cab4"/>
<path d="M513.1 209.3L473.83 228.67L472.16 224.83Z" fill="#ddd2be"/>
<path d="M513.1 209.3L472.65 226.06L471.24 222.12Z" fill="#e3d8c7"/>
<path d="M513.1 209.3L471.64 223.37L470.49 219.36Z" fill="#e8decf"/>
<path d="M513.1 209.3L470.81 220.63L469.92 216.55Z" fill="#ece3d6"/>
<path d="M513.1 209.3L470.16 217.84L469.54 213.71Z" fill="#efe7db"/>
<path d="M513.1 209.3L469.69 215.02L469.34 210.85Z" fill="#f1eade"/>
<path d="M513.1 209.3L469.41 212.16L469.33 207.99Z" fill="#f2ebe0"/>
<path d="M513.1 209.3L469.31 209.30L469.51 205.13Z" fill="#f2ebdf"/>
<path d="M513.1 209.3L469.41 206.44L469.88 202.29Z" fill="#f0e9dd"/>
<path d="M513.1 209.3L469.69 203.58L470.43 199.47Z" fill="#eee6d9"/>
<path d="M513.1 209.3L470.16 200.76L471.17 196.70Z" fill="#eae1d3"/>
<path d="M513.1 209.3L470.81 197.97L472.08 193.99Z" fill="#e5dccc"/>
<path d="M513.1 209.3L471.64 195.23L473.17 191.34Z" fill="#e0d5c3"/>
<path d="M513.1 209.3L472.65 192.54L474.43 188.77Z" fill="#daceba"/>
<path d="M513.1 209.3L473.83 189.93L475.85 186.28Z" fill="#d4c7b0"/>
<path d="M513.1 209.3L475.18 187.41L477.44 183.89Z" fill="#cebfa6"/>
<path d="M513.1 209.3L476.69 184.97L479.18 181.62Z" fill="#c8b79b"/>
<path d="M513.1 209.3L478.36 182.65L481.06 179.46Z" fill="#c2b092"/>
<path d="M513.1 209.3L480.18 180.43L483.08 177.42Z" fill="#bca989"/>
<path d="M513.1 209.3L482.14 178.34L485.23 175.53Z" fill="#b7a380"/>
<path d="M513.1 209.3L484.23 176.38L487.50 173.78Z" fill="#b29d79"/>
<path d="M513.1 209.3L486.45 174.56L489.88 172.18Z" fill="#ae9973"/>
<path d="M513.1 209.3L488.77 172.89L492.35 170.74Z" fill="#ab956e"/>
<path d="M513.1 209.3L491.21 171.38L494.92 169.47Z" fill="#a9926a"/>
<path d="M513.1 209.3L493.73 170.03L497.57 168.36Z" fill="#a78f67"/>
<path d="M513.1 209.3L496.34 168.85L500.28 167.44Z" fill="#a68e65"/>
<path d="M513.1 209.3L499.03 167.84L503.04 166.69Z" fill="#a58d63"/>
<path d="M513.1 209.3L501.77 167.01L505.85 166.12Z" fill="#a48c62"/>
<path d="M513.1 209.3L504.56 166.36L508.69 165.74Z" fill="#a48c62"/>
<path d="M513.1 209.3L507.38 165.89L511.55 165.54Z" fill="#a48c62"/>
<path d="M513.1 209.3L510.24 165.61L514.41 165.53Z" fill="#a48c62"/>
<path d="M513.1 209.3L513.10 165.52L517.27 165.71Z" fill="#a48c62"/>
<path d="M513.1 209.3L515.96 165.61L520.11 166.08Z" fill="#a48c62"/>
<path d="M513.1 209.3L518.82 165.89L522.93 166.63Z" fill="#a48c62"/>
<path d="M513.1 209.3L521.64 166.36L525.70 167.37Z" fill="#a48d63"/>
<path d="M513.1 209.3L524.43 167.01L528.41 168.28Z" fill="#a58d64"/>
<path d="M513.1 209.3L527.17 167.84L531.06 169.37Z" fill="#a68f65"/>
<path d="M513.1 209.3L529.86 168.85L533.63 170.63Z" fill="#a89068"/>
<path d="M513.1 209.3L532.47 170.03L536.12 172.05Z" fill="#aa936b"/>
<path d="M513.1 209.3L534.99 171.38L538.51 173.64Z" fill="#ad9670"/>
<path d="M513.1 209.3L537.43 172.89L540.78 175.38Z" fill="#b09b75"/>
<path d="M513.1 209.3L539.75 174.56L542.94 177.26Z" fill="#b4a07c"/>
<path d="M513.1 209.3L541.97 176.38L544.98 179.28Z" fill="#b9a684"/>
<path d="M513.1 209.3L544.06 178.34L546.87 181.43Z" fill="#beac8d"/>
<path d="M513.1 209.3L546.02 180.43L548.62 183.70Z" fill="#c4b396"/>
<path d="M513.1 209.3L547.84 182.65L550.22 186.08Z" fill="#cabba0"/>
<path d="M513.1 209.3L549.51 184.97L551.66 188.55Z" fill="#d1c3aa"/>
<path d="M513.1 209.3L551.02 187.41L552.93 191.12Z" fill="#d7cab4"/>
<path d="M513.1 209.3L552.37 189.93L554.04 193.77Z" fill="#ddd2be"/>
<path d="M513.1 209.3L553.55 192.54L554.96 196.48Z" fill="#e3d8c7"/>
<path d="M513.1 209.3L554.56 195.23L555.71 199.24Z" fill="#e8decf"/>
<path d="M513.1 209.3L555.39 197.97L556.28 202.05Z" fill="#ece3d6"/>
<path d="M513.1 209.3L556.04 200.76L556.66 204.89Z" fill="#efe7db"/>
<path d="M513.1 209.3L556.51 203.58L556.86 207.75Z" fill="#f1eade"/>
<path d="M513.1 209.3L556.79 206.44L556.87 210.61Z" fill="#f2ebe0"/>
</g></g>
<path d="M544.00 214.70 L543.71 216.15 L549.55 218.91 L547.79 224.06 L541.48 222.66 L540.82 223.98 L540.09 225.27 L544.80 229.71 L541.53 234.06 L535.96 230.78 L534.92 231.83 L533.84 232.83 L536.94 238.50 L532.49 241.63 L528.21 236.79 L526.89 237.47 L525.55 238.09 L526.75 244.44 L521.55 246.04 L518.97 240.11 L517.51 240.35 L516.05 240.53 L515.22 246.94 L509.78 246.85 L509.16 240.42 L507.70 240.20 L506.25 239.91 L503.49 245.75 L498.34 243.99 L499.74 237.68 L498.42 237.02 L497.13 236.29 L492.69 241.00 L488.34 237.73 L491.62 232.16 L490.57 231.12 L489.57 230.04 L483.90 233.14 L480.77 228.69 L485.61 224.41 L484.93 223.09 L484.31 221.75 L477.96 222.95 L476.36 217.75 L482.29 215.17 L482.05 213.71 L481.87 212.25 L475.46 211.42 L475.55 205.98 L481.98 205.36 L482.20 203.90 L482.49 202.45 L476.65 199.69 L478.41 194.54 L484.72 195.94 L485.38 194.62 L486.11 193.33 L481.40 188.89 L484.67 184.54 L490.24 187.82 L491.28 186.77 L492.36 185.77 L489.26 180.10 L493.71 176.97 L497.99 181.81 L499.31 181.13 L500.65 180.51 L499.45 174.16 L504.65 172.56 L507.23 178.49 L508.69 178.25 L510.15 178.07 L510.98 171.66 L516.42 171.75 L517.04 178.18 L518.50 178.40 L519.95 178.69 L522.71 172.85 L527.86 174.61 L526.46 180.92 L527.78 181.58 L529.07 182.31 L533.51 177.60 L537.86 180.87 L534.58 186.44 L535.63 187.48 L536.63 188.56 L542.30 185.46 L545.43 189.91 L540.59 194.19 L541.27 195.51 L541.89 196.85 L548.24 195.65 L549.84 200.85 L543.91 203.43 L544.15 204.89 L544.33 206.35 L550.74 207.18 L550.65 212.62 L544.22 213.24Z M534.00 209.30 A20.90 20.90 0 1 0 492.20 209.30 A20.90 20.90 0 1 0 534.00 209.30 Z" fill="none" stroke="#2a200c" stroke-width="1.05" stroke-linejoin="round"/>
<g clip-path="url(#gc8)"><g filter="url(#gbl)">
<path d="M618.9 199.6L665.10 199.60L664.89 204.00Z" fill="#f2ebdf"/>
<path d="M618.9 199.6L665.00 202.62L664.50 207.00Z" fill="#f0e9dd"/>
<path d="M618.9 199.6L664.70 205.63L663.92 209.97Z" fill="#eee6d9"/>
<path d="M618.9 199.6L664.21 208.61L663.15 212.89Z" fill="#eae1d3"/>
<path d="M618.9 199.6L663.53 211.56L662.18 215.76Z" fill="#e5dccc"/>
<path d="M618.9 199.6L662.65 214.45L661.03 218.55Z" fill="#e0d5c3"/>
<path d="M618.9 199.6L661.58 217.28L659.70 221.27Z" fill="#daceba"/>
<path d="M618.9 199.6L660.34 220.03L658.20 223.89Z" fill="#d4c7b0"/>
<path d="M618.9 199.6L658.91 222.70L656.53 226.41Z" fill="#cebfa6"/>
<path d="M618.9 199.6L657.31 225.27L654.69 228.81Z" fill="#c8b79b"/>
<path d="M618.9 199.6L655.55 227.72L652.71 231.09Z" fill="#c2b092"/>
<path d="M618.9 199.6L653.63 230.06L650.57 233.23Z" fill="#bca989"/>
<path d="M618.9 199.6L651.57 232.27L648.31 235.23Z" fill="#b7a380"/>
<path d="M618.9 199.6L649.36 234.33L645.91 237.08Z" fill="#b29d79"/>
<path d="M618.9 199.6L647.02 236.25L643.40 238.77Z" fill="#ae9973"/>
<path d="M618.9 199.6L644.57 238.01L640.79 240.29Z" fill="#ab956e"/>
<path d="M618.9 199.6L642.00 239.61L638.08 241.63Z" fill="#a9926a"/>
<path d="M618.9 199.6L639.33 241.04L635.29 242.79Z" fill="#a78f67"/>
<path d="M618.9 199.6L636.58 242.28L632.43 243.77Z" fill="#a68e65"/>
<path d="M618.9 199.6L633.75 243.35L629.51 244.56Z" fill="#a58d63"/>
<path d="M618.9 199.6L630.86 244.23L626.55 245.16Z" fill="#a48c62"/>
<path d="M618.9 199.6L627.91 244.91L623.55 245.57Z" fill="#a48c62"/>
<path d="M618.9 199.6L624.93 245.40L620.54 245.77Z" fill="#a48c62"/>
<path d="M618.9 199.6L621.92 245.70L617.51 245.78Z" fill="#a48c62"/>
<path d="M618.9 199.6L618.90 245.80L614.50 245.59Z" fill="#a48c62"/>
<path d="M618.9 199.6L615.88 245.70L611.50 245.20Z" fill="#a48c62"/>
<path d="M618.9 199.6L612.87 245.40L608.53 244.62Z" fill="#a48c62"/>
<path d="M618.9 199.6L609.89 244.91L605.61 243.85Z" fill="#a48d63"/>
<path d="M618.9 199.6L606.94 244.23L602.74 242.88Z" fill="#a58d64"/>
<path d="M618.9 199.6L604.05 243.35L599.95 241.73Z" fill="#a68f65"/>
<path d="M618.9 199.6L601.22 242.28L597.23 240.40Z" fill="#a89068"/>
<path d="M618.9 199.6L598.47 241.04L594.61 238.90Z" fill="#aa936b"/>
<path d="M618.9 199.6L595.80 239.61L592.09 237.23Z" fill="#ad9670"/>
<path d="M618.9 199.6L593.23 238.01L589.69 235.39Z" fill="#b09b75"/>
<path d="M618.9 199.6L590.78 236.25L587.41 233.41Z" fill="#b4a07c"/>
<path d="M618.9 199.6L588.44 234.33L585.27 231.27Z" fill="#b9a684"/>
<path d="M618.9 199.6L586.23 232.27L583.27 229.01Z" fill="#beac8d"/>
<path d="M618.9 199.6L584.17 230.06L581.42 226.61Z" fill="#c4b396"/>
<path d="M618.9 199.6L582.25 227.72L579.73 224.10Z" fill="#cabba0"/>
<path d="M618.9 199.6L580.49 225.27L578.21 221.49Z" fill="#d1c3aa"/>
<path d="M618.9 199.6L578.89 222.70L576.87 218.78Z" fill="#d7cab4"/>
<path d="M618.9 199.6L577.46 220.03L575.71 215.99Z" fill="#ddd2be"/>
<path d="M618.9 199.6L576.22 217.28L574.73 213.13Z" fill="#e3d8c7"/>
<path d="M618.9 199.6L575.15 214.45L573.94 210.21Z" fill="#e8decf"/>
<path d="M618.9 199.6L574.27 211.56L573.34 207.25Z" fill="#ece3d6"/>
<path d="M618.9 199.6L573.59 208.61L572.93 204.25Z" fill="#efe7db"/>
<path d="M618.9 199.6L573.10 205.63L572.73 201.24Z" fill="#f1eade"/>
<path d="M618.9 199.6L572.80 202.62L572.72 198.21Z" fill="#f2ebe0"/>
<path d="M618.9 199.6L572.70 199.60L572.91 195.20Z" fill="#f2ebdf"/>
<path d="M618.9 199.6L572.80 196.58L573.30 192.20Z" fill="#f0e9dd"/>
<path d="M618.9 199.6L573.10 193.57L573.88 189.23Z" fill="#eee6d9"/>
<path d="M618.9 199.6L573.59 190.59L574.65 186.31Z" fill="#eae1d3"/>
<path d="M618.9 199.6L574.27 187.64L575.62 183.44Z" fill="#e5dccc"/>
<path d="M618.9 199.6L575.15 184.75L576.77 180.65Z" fill="#e0d5c3"/>
<path d="M618.9 199.6L576.22 181.92L578.10 177.93Z" fill="#daceba"/>
<path d="M618.9 199.6L577.46 179.17L579.60 175.31Z" fill="#d4c7b0"/>
<path d="M618.9 199.6L578.89 176.50L581.27 172.79Z" fill="#cebfa6"/>
<path d="M618.9 199.6L580.49 173.93L583.11 170.39Z" fill="#c8b79b"/>
<path d="M618.9 199.6L582.25 171.48L585.09 168.11Z" fill="#c2b092"/>
<path d="M618.9 199.6L584.17 169.14L587.23 165.97Z" fill="#bca989"/>
<path d="M618.9 199.6L586.23 166.93L589.49 163.97Z" fill="#b7a380"/>
<path d="M618.9 199.6L588.44 164.87L591.89 162.12Z" fill="#b29d79"/>
<path d="M618.9 199.6L590.78 162.95L594.40 160.43Z" fill="#ae9973"/>
<path d="M618.9 199.6L593.23 161.19L597.01 158.91Z" fill="#ab956e"/>
<path d="M618.9 199.6L595.80 159.59L599.72 157.57Z" fill="#a9926a"/>
<path d="M618.9 199.6L598.47 158.16L602.51 156.41Z" fill="#a78f67"/>
<path d="M618.9 199.6L601.22 156.92L605.37 155.43Z" fill="#a68e65"/>
<path d="M618.9 199.6L604.05 155.85L608.29 154.64Z" fill="#a58d63"/>
<path d="M618.9 199.6L606.94 154.97L611.25 154.04Z" fill="#a48c62"/>
<path d="M618.9 199.6L609.89 154.29L614.25 153.63Z" fill="#a48c62"/>
<path d="M618.9 199.6L612.87 153.80L617.26 153.43Z" fill="#a48c62"/>
<path d="M618.9 199.6L615.88 153.50L620.29 153.42Z" fill="#a48c62"/>
<path d="M618.9 199.6L618.90 153.40L623.30 153.61Z" fill="#a48c62"/>
<path d="M618.9 199.6L621.92 153.50L626.30 154.00Z" fill="#a48c62"/>
<path d="M618.9 199.6L624.93 153.80L629.27 154.58Z" fill="#a48c62"/>
<path d="M618.9 199.6L627.91 154.29L632.19 155.35Z" fill="#a48d63"/>
<path d="M618.9 199.6L630.86 154.97L635.06 156.32Z" fill="#a58d64"/>
<path d="M618.9 199.6L633.75 155.85L637.85 157.47Z" fill="#a68f65"/>
<path d="M618.9 199.6L636.58 156.92L640.57 158.80Z" fill="#a89068"/>
<path d="M618.9 199.6L639.33 158.16L643.19 160.30Z" fill="#aa936b"/>
<path d="M618.9 199.6L642.00 159.59L645.71 161.97Z" fill="#ad9670"/>
<path d="M618.9 199.6L644.57 161.19L648.11 163.81Z" fill="#b09b75"/>
<path d="M618.9 199.6L647.02 162.95L650.39 165.79Z" fill="#b4a07c"/>
<path d="M618.9 199.6L649.36 164.87L652.53 167.93Z" fill="#b9a684"/>
<path d="M618.9 199.6L651.57 166.93L654.53 170.19Z" fill="#beac8d"/>
<path d="M618.9 199.6L653.63 169.14L656.38 172.59Z" fill="#c4b396"/>
<path d="M618.9 199.6L655.55 171.48L658.07 175.10Z" fill="#cabba0"/>
<path d="M618.9 199.6L657.31 173.93L659.59 177.71Z" fill="#d1c3aa"/>
<path d="M618.9 199.6L658.91 176.50L660.93 180.42Z" fill="#d7cab4"/>
<path d="M618.9 199.6L660.34 179.17L662.09 183.21Z" fill="#ddd2be"/>
<path d="M618.9 199.6L661.58 181.92L663.07 186.07Z" fill="#e3d8c7"/>
<path d="M618.9 199.6L662.65 184.75L663.86 188.99Z" fill="#e8decf"/>
<path d="M618.9 199.6L663.53 187.64L664.46 191.95Z" fill="#ece3d6"/>
<path d="M618.9 199.6L664.21 190.59L664.87 194.95Z" fill="#efe7db"/>
<path d="M618.9 199.6L664.70 193.57L665.07 197.96Z" fill="#f1eade"/>
<path d="M618.9 199.6L665.00 196.58L665.08 200.99Z" fill="#f2ebe0"/>
</g></g>
<path d="M652.17 200.27 L652.11 201.83 L658.68 203.79 L657.66 209.47 L650.82 209.02 L650.34 210.52 L649.79 211.98 L655.44 215.87 L652.72 220.97 L646.34 218.42 L645.43 219.70 L644.45 220.92 L648.62 226.37 L644.46 230.37 L639.18 225.98 L637.92 226.91 L636.61 227.78 L638.90 234.24 L633.70 236.76 L630.04 230.96 L628.55 231.45 L627.04 231.87 L627.21 238.73 L621.49 239.52 L619.80 232.87 L618.23 232.87 L616.67 232.81 L614.71 239.38 L609.03 238.36 L609.48 231.52 L607.98 231.04 L606.52 230.49 L602.63 236.14 L597.53 233.42 L600.08 227.04 L598.80 226.13 L597.58 225.15 L592.13 229.32 L588.13 225.16 L592.52 219.88 L591.59 218.62 L590.72 217.31 L584.26 219.60 L581.74 214.40 L587.54 210.74 L587.05 209.25 L586.63 207.74 L579.77 207.91 L578.98 202.19 L585.63 200.50 L585.63 198.93 L585.69 197.37 L579.12 195.41 L580.14 189.73 L586.98 190.18 L587.46 188.68 L588.01 187.22 L582.36 183.33 L585.08 178.23 L591.46 180.78 L592.37 179.50 L593.35 178.28 L589.18 172.83 L593.34 168.83 L598.62 173.22 L599.88 172.29 L601.19 171.42 L598.90 164.96 L604.10 162.44 L607.76 168.24 L609.25 167.75 L610.76 167.33 L610.59 160.47 L616.31 159.68 L618.00 166.33 L619.57 166.33 L621.13 166.39 L623.09 159.82 L628.77 160.84 L628.32 167.68 L629.82 168.16 L631.28 168.71 L635.17 163.06 L640.27 165.78 L637.72 172.16 L639.00 173.07 L640.22 174.05 L645.67 169.88 L649.67 174.04 L645.28 179.32 L646.21 180.58 L647.08 181.89 L653.54 179.60 L656.06 184.80 L650.26 188.46 L650.75 189.95 L651.17 191.46 L658.03 191.29 L658.82 197.01 L652.17 198.70Z M641.40 199.60 A22.50 22.50 0 1 0 596.40 199.60 A22.50 22.50 0 1 0 641.40 199.60 Z" fill="none" stroke="#2a200c" stroke-width="1.05" stroke-linejoin="round"/>
<g clip-path="url(#gc9)"><g filter="url(#gbl)">
<path d="M671.1 262.5L720.98 262.50L720.75 267.25Z" fill="#f2ebdf"/>
<path d="M671.1 262.5L720.87 265.76L720.33 270.49Z" fill="#f0e9dd"/>
<path d="M671.1 262.5L720.55 269.01L719.70 273.69Z" fill="#eee6d9"/>
<path d="M671.1 262.5L720.02 272.23L718.87 276.85Z" fill="#eae1d3"/>
<path d="M671.1 262.5L719.28 275.41L717.83 279.94Z" fill="#e5dccc"/>
<path d="M671.1 262.5L718.33 278.53L716.59 282.96Z" fill="#e0d5c3"/>
<path d="M671.1 262.5L717.18 281.59L715.15 285.89Z" fill="#daceba"/>
<path d="M671.1 262.5L715.83 284.56L713.53 288.72Z" fill="#d4c7b0"/>
<path d="M671.1 262.5L714.29 287.44L711.72 291.44Z" fill="#cebfa6"/>
<path d="M671.1 262.5L712.57 290.21L709.74 294.04Z" fill="#c8b79b"/>
<path d="M671.1 262.5L710.67 292.86L707.59 296.49Z" fill="#c2b092"/>
<path d="M671.1 262.5L708.60 295.38L705.29 298.81Z" fill="#bca989"/>
<path d="M671.1 262.5L706.37 297.77L702.85 300.97Z" fill="#b7a380"/>
<path d="M671.1 262.5L703.98 300.00L700.26 302.96Z" fill="#b29d79"/>
<path d="M671.1 262.5L701.46 302.07L697.55 304.78Z" fill="#ae9973"/>
<path d="M671.1 262.5L698.81 303.97L694.73 306.42Z" fill="#ab956e"/>
<path d="M671.1 262.5L696.04 305.69L691.81 307.87Z" fill="#a9926a"/>
<path d="M671.1 262.5L693.16 307.23L688.80 309.13Z" fill="#a78f67"/>
<path d="M671.1 262.5L690.19 308.58L685.71 310.19Z" fill="#a68e65"/>
<path d="M671.1 262.5L687.13 309.73L682.56 311.04Z" fill="#a58d63"/>
<path d="M671.1 262.5L684.01 310.68L679.36 311.69Z" fill="#a48c62"/>
<path d="M671.1 262.5L680.83 311.42L676.12 312.12Z" fill="#a48c62"/>
<path d="M671.1 262.5L677.61 311.95L672.87 312.34Z" fill="#a48c62"/>
<path d="M671.1 262.5L674.36 312.27L669.60 312.35Z" fill="#a48c62"/>
<path d="M671.1 262.5L671.10 312.38L666.35 312.15Z" fill="#a48c62"/>
<path d="M671.1 262.5L667.84 312.27L663.11 311.73Z" fill="#a48c62"/>
<path d="M671.1 262.5L664.59 311.95L659.91 311.10Z" fill="#a48c62"/>
<path d="M671.1 262.5L661.37 311.42L656.75 310.27Z" fill="#a48d63"/>
<path d="M671.1 262.5L658.19 310.68L653.66 309.23Z" fill="#a58d64"/>
<path d="M671.1 262.5L655.07 309.73L650.64 307.99Z" fill="#a68f65"/>
<path d="M671.1 262.5L652.01 308.58L647.71 306.55Z" fill="#a89068"/>
<path d="M671.1 262.5L649.04 307.23L644.88 304.93Z" fill="#aa936b"/>
<path d="M671.1 262.5L646.16 305.69L642.16 303.12Z" fill="#ad9670"/>
<path d="M671.1 262.5L643.39 303.97L639.56 301.14Z" fill="#b09b75"/>
<path d="M671.1 262.5L640.74 302.07L637.11 298.99Z" fill="#b4a07c"/>
<path d="M671.1 262.5L638.22 300.00L634.79 296.69Z" fill="#b9a684"/>
<path d="M671.1 262.5L635.83 297.77L632.63 294.25Z" fill="#beac8d"/>
<path d="M671.1 262.5L633.60 295.38L630.64 291.66Z" fill="#c4b396"/>
<path d="M671.1 262.5L631.53 292.86L628.82 288.95Z" fill="#cabba0"/>
<path d="M671.1 262.5L629.63 290.21L627.18 286.13Z" fill="#d1c3aa"/>
<path d="M671.1 262.5L627.91 287.44L625.73 283.21Z" fill="#d7cab4"/>
<path d="M671.1 262.5L626.37 284.56L624.47 280.20Z" fill="#ddd2be"/>
<path d="M671.1 262.5L625.02 281.59L623.41 277.11Z" fill="#e3d8c7"/>
<path d="M671.1 262.5L623.87 278.53L622.56 273.96Z" fill="#e8decf"/>
<path d="M671.1 262.5L622.92 275.41L621.91 270.76Z" fill="#ece3d6"/>
<path d="M671.1 262.5L622.18 272.23L621.48 267.52Z" fill="#efe7db"/>
<path d="M671.1 262.5L621.65 269.01L621.26 264.27Z" fill="#f1eade"/>
<path d="M671.1 262.5L621.33 265.76L621.25 261.00Z" fill="#f2ebe0"/>
<path d="M671.1 262.5L621.23 262.50L621.45 257.75Z" fill="#f2ebdf"/>
<path d="M671.1 262.5L621.33 259.24L621.87 254.51Z" fill="#f0e9dd"/>
<path d="M671.1 262.5L621.65 255.99L622.50 251.31Z" fill="#eee6d9"/>
<path d="M671.1 262.5L622.18 252.77L623.33 248.15Z" fill="#eae1d3"/>
<path d="M671.1 262.5L622.92 249.59L624.37 245.06Z" fill="#e5dccc"/>
<path d="M671.1 262.5L623.87 246.47L625.61 242.04Z" fill="#e0d5c3"/>
<path d="M671.1 262.5L625.02 243.41L627.05 239.11Z" fill="#daceba"/>
<path d="M671.1 262.5L626.37 240.44L628.67 236.28Z" fill="#d4c7b0"/>
<path d="M671.1 262.5L627.91 237.56L630.48 233.56Z" fill="#cebfa6"/>
<path d="M671.1 262.5L629.63 234.79L632.46 230.96Z" fill="#c8b79b"/>
<path d="M671.1 262.5L631.53 232.14L634.61 228.51Z" fill="#c2b092"/>
<path d="M671.1 262.5L633.60 229.62L636.91 226.19Z" fill="#bca989"/>
<path d="M671.1 262.5L635.83 227.23L639.35 224.03Z" fill="#b7a380"/>
<path d="M671.1 262.5L638.22 225.00L641.94 222.04Z" fill="#b29d79"/>
<path d="M671.1 262.5L640.74 222.93L644.65 220.22Z" fill="#ae9973"/>
<path d="M671.1 262.5L643.39 221.03L647.47 218.58Z" fill="#ab956e"/>
<path d="M671.1 262.5L646.16 219.31L650.39 217.13Z" fill="#a9926a"/>
<path d="M671.1 262.5L649.04 217.77L653.40 215.87Z" fill="#a78f67"/>
<path d="M671.1 262.5L652.01 216.42L656.49 214.81Z" fill="#a68e65"/>
<path d="M671.1 262.5L655.07 215.27L659.64 213.96Z" fill="#a58d63"/>
<path d="M671.1 262.5L658.19 214.32L662.84 213.31Z" fill="#a48c62"/>
<path d="M671.1 262.5L661.37 213.58L666.08 212.88Z" fill="#a48c62"/>
<path d="M671.1 262.5L664.59 213.05L669.33 212.66Z" fill="#a48c62"/>
<path d="M671.1 262.5L667.84 212.73L672.60 212.65Z" fill="#a48c62"/>
<path d="M671.1 262.5L671.10 212.62L675.85 212.85Z" fill="#a48c62"/>
<path d="M671.1 262.5L674.36 212.73L679.09 213.27Z" fill="#a48c62"/>
<path d="M671.1 262.5L677.61 213.05L682.29 213.90Z" fill="#a48c62"/>
<path d="M671.1 262.5L680.83 213.58L685.45 214.73Z" fill="#a48d63"/>
<path d="M671.1 262.5L684.01 214.32L688.54 215.77Z" fill="#a58d64"/>
<path d="M671.1 262.5L687.13 215.27L691.56 217.01Z" fill="#a68f65"/>
<path d="M671.1 262.5L690.19 216.42L694.49 218.45Z" fill="#a89068"/>
<path d="M671.1 262.5L693.16 217.77L697.32 220.07Z" fill="#aa936b"/>
<path d="M671.1 262.5L696.04 219.31L700.04 221.88Z" fill="#ad9670"/>
<path d="M671.1 262.5L698.81 221.03L702.64 223.86Z" fill="#b09b75"/>
<path d="M671.1 262.5L701.46 222.93L705.09 226.01Z" fill="#b4a07c"/>
<path d="M671.1 262.5L703.98 225.00L707.41 228.31Z" fill="#b9a684"/>
<path d="M671.1 262.5L706.37 227.23L709.57 230.75Z" fill="#beac8d"/>
<path d="M671.1 262.5L708.60 229.62L711.56 233.34Z" fill="#c4b396"/>
<path d="M671.1 262.5L710.67 232.14L713.38 236.05Z" fill="#cabba0"/>
<path d="M671.1 262.5L712.57 234.79L715.02 238.87Z" fill="#d1c3aa"/>
<path d="M671.1 262.5L714.29 237.56L716.47 241.79Z" fill="#d7cab4"/>
<path d="M671.1 262.5L715.83 240.44L717.73 244.80Z" fill="#ddd2be"/>
<path d="M671.1 262.5L717.18 243.41L718.79 247.89Z" fill="#e3d8c7"/>
<path d="M671.1 262.5L718.33 246.47L719.64 251.04Z" fill="#e8decf"/>
<path d="M671.1 262.5L719.28 249.59L720.29 254.24Z" fill="#ece3d6"/>
<path d="M671.1 262.5L720.02 252.77L720.72 257.48Z" fill="#efe7db"/>
<path d="M671.1 262.5L720.55 255.99L720.94 260.73Z" fill="#f1eade"/>
<path d="M671.1 262.5L720.87 259.24L720.95 264.00Z" fill="#f2ebe0"/>
</g></g>
<path d="M706.85 268.16 L706.54 269.84 L713.33 272.92 L711.39 278.89 L704.09 277.39 L703.35 278.93 L702.54 280.43 L708.05 285.46 L704.36 290.54 L697.87 286.86 L696.69 288.09 L695.46 289.27 L699.15 295.75 L694.06 299.44 L689.03 293.94 L687.53 294.75 L686.00 295.48 L687.50 302.79 L681.52 304.73 L678.44 297.94 L676.76 298.25 L675.07 298.47 L674.24 305.89 L667.96 305.89 L667.13 298.47 L665.44 298.25 L663.76 297.94 L660.68 304.73 L654.71 302.79 L656.21 295.49 L654.67 294.75 L653.17 293.94 L648.14 299.45 L643.06 295.76 L646.74 289.27 L645.51 288.09 L644.33 286.86 L637.85 290.55 L634.16 285.46 L639.66 280.43 L638.85 278.93 L638.12 277.40 L630.81 278.90 L628.87 272.92 L635.66 269.84 L635.35 268.16 L635.13 266.47 L627.71 265.64 L627.71 259.36 L635.13 258.53 L635.35 256.84 L635.66 255.16 L628.87 252.08 L630.81 246.11 L638.11 247.61 L638.85 246.07 L639.66 244.57 L634.15 239.54 L637.84 234.46 L644.33 238.14 L645.51 236.91 L646.74 235.73 L643.05 229.25 L648.14 225.56 L653.17 231.06 L654.67 230.25 L656.20 229.52 L654.70 222.21 L660.68 220.27 L663.76 227.06 L665.44 226.75 L667.13 226.53 L667.96 219.11 L674.24 219.11 L675.07 226.53 L676.76 226.75 L678.44 227.06 L681.52 220.27 L687.49 222.21 L685.99 229.51 L687.53 230.25 L689.03 231.06 L694.06 225.55 L699.14 229.24 L695.46 235.73 L696.69 236.91 L697.87 238.14 L704.35 234.45 L708.04 239.54 L702.54 244.57 L703.35 246.07 L704.08 247.60 L711.39 246.10 L713.33 252.08 L706.54 255.16 L706.85 256.84 L707.07 258.53 L714.49 259.36 L714.49 265.64 L707.07 266.47Z M695.10 262.50 A24.00 24.00 0 1 0 647.10 262.50 A24.00 24.00 0 1 0 695.10 262.50 Z" fill="none" stroke="#2a200c" stroke-width="1.05" stroke-linejoin="round"/>
<path d="M279.48 121.30 L279.12 120.95 L278.76 120.60 L278.40 120.25 L278.04 119.91 L277.68 119.56 L277.31 119.22 L276.95 118.88 L276.58 118.54 L276.21 118.20 L275.84 117.86 L275.47 117.53 L275.10 117.19 L274.72 116.86 L274.35 116.53 L273.97 116.20 L273.59 115.88 L273.21 115.55 L272.83 115.23 L272.45 114.90 L272.06 114.58 L271.68 114.27 L271.29 113.95 L270.90 113.63 L270.51 113.32 L270.12 113.01 L269.73 112.69 L269.34 112.39 L268.94 112.08 L268.55 111.77 L268.15 111.47 L267.75 111.17 L267.35 110.86 L266.95 110.57 L266.55 110.27 L266.15 109.97 L265.74 109.68 L265.33 109.39 L264.93 109.09 L264.52 108.81 L264.11 108.52 L263.70 108.23 L263.29 107.95 L262.87 107.67 L262.46 107.39 L262.04 107.11 L261.63 106.83 L261.21 106.56 L260.79 106.28 L260.37 106.01 L259.95 105.74 L259.52 105.48 L259.10 105.21 L258.68 104.95 L258.25 104.68 L257.82 104.42 L257.39 104.16 L256.97 103.91 L256.54 103.65 L256.10 103.40 L255.67 103.15 L255.24 102.90 L254.80 102.65 L254.37 102.40 L253.93 102.16 L253.49 101.92 L253.05 101.68 L252.61 101.44 L252.17 101.20 L251.73 100.96 L251.29 100.73 L250.85 100.50 L250.40 100.27 L249.96 100.04 L249.51 99.82 L249.06 99.59 L248.61 99.37 L248.16 99.15 L247.71 98.93 L247.26 98.72 L246.81 98.50 L246.36 98.29 L245.90 98.08 L245.45 97.87 L244.99 97.67 L244.54 97.46 L244.08 97.26 L243.62 97.06 L243.16 96.86 L242.70 96.66 L242.24 96.47 L241.78 96.27 L241.32 96.08 L240.85 95.89 L240.39 95.71 L239.92 95.52 L239.46 95.34 L238.99 95.16 L238.53 94.98 L238.06 94.80 L237.59 94.63 L237.12 94.45 L236.65 94.28 L236.18 94.11 L235.71 93.94 L235.24 93.78 L234.76 93.62 L234.29 93.45 L233.81 93.29 L233.34 93.14 L232.86 92.98 L232.39 92.83 L231.91 92.68 L231.43 92.53 L230.96 92.38 L230.48 92.24 L230.00 92.09 L229.52 91.95 L229.04 91.81 L228.56 91.67 L228.07 91.54 L227.59 91.41 L227.11 91.28 L226.63 91.15 L226.14 91.02 L225.66 90.89 L225.17 90.77 L224.69 90.65 L224.20 90.53 L223.71 90.41 L223.23 90.30 L222.74 90.19 L222.25 90.08 L221.76 89.97 L221.27 89.86 L220.78 89.76 L220.30 89.65 L219.80 89.55 L219.31 89.46 L218.82 89.36 L218.33 89.27 L217.84 89.17 L217.35 89.08 L216.86 89.00 L216.36 88.91 L215.87 88.83 L215.38 88.75 L214.88 88.67 L214.39 88.59 L213.89 88.51 L213.40 88.44 L212.90 88.37 L212.41 88.30 L211.91 88.23 L211.42 88.17 L210.92 88.11 L210.42 88.04 L209.93 87.99 L209.43 87.93 L208.93 87.88 L208.43 87.82 L207.94 87.77 L207.44 87.72 L206.94 87.68 L206.44 87.63 L205.94 87.59 L205.44 87.55 L204.94 87.52 L204.45 87.48 L203.95 87.45 L203.45 87.42 L202.95 87.39 L202.45 87.36 L201.95 87.33 L201.45 87.31 L200.95 87.29 L200.45 87.27 L199.95 87.26 L199.45 87.24 L198.95 87.23 L198.45 87.22 L197.95 87.21 L197.45 87.21 L196.95 87.20 L196.45 87.20 L195.95 87.20 L195.45 87.20 L194.95 87.21 L194.45 87.21 L193.95 87.22 L193.45 87.23 L192.95 87.25 L192.45 87.26 L191.95 87.28 L191.45 87.30 L190.95 87.32 L190.45 87.34 L189.95 87.37 L189.45 87.40 L188.95 87.43 L188.45 87.46 L187.95 87.49 L187.45 87.53 L186.95 87.57 L186.45 87.61 L185.95 87.65 L185.46 87.70 L184.96 87.74 L184.46 87.79 L183.96 87.84 L183.46 87.90 L182.97 87.95 L182.47 88.01 L181.97 88.07 L181.48 88.13 L180.98 88.19 L180.48 88.26 L179.99 88.33 L179.49 88.40 L179.00 88.47 L178.50 88.54 L178.01 88.62 L177.51 88.70 L177.02 88.78 L176.53 88.86 L176.03 88.95 L175.54 89.03 L175.05 89.12 L174.56 89.21 L174.07 89.30 L173.57 89.40 L173.08 89.50 L172.59 89.60 L172.10 89.70 L171.61 89.80 L171.12 89.91 L170.64 90.01 L170.15 90.12 L169.66 90.23 L169.17 90.35 L168.69 90.46 L168.20 90.58 L167.71 90.70 L167.23 90.82 L166.74 90.95 L166.26 91.07 L165.78 91.20 L165.29 91.33 L164.81 91.46 L164.33 91.59 L163.85 91.73 L163.37 91.87 L162.88 92.01 L162.41 92.15 L161.93 92.30 L161.45 92.44 L160.97 92.59 L160.49 92.74 L160.02 92.89 L159.54 93.05 L159.06 93.20 L158.59 93.36 L158.12 93.52 L157.64 93.68 L157.17 93.85 L156.70 94.01 L156.23 94.18 L155.76 94.35 L155.29 94.52 L154.82 94.70 L154.35 94.87 L153.88 95.05 L153.42 95.23 L152.95 95.41 L152.48 95.60 L152.02 95.78 L151.56 95.97 L151.09 96.16 L150.63 96.35 L150.17 96.55 L149.71 96.74 L149.25 96.94 L148.79 97.14 L148.33 97.34 L147.88 97.55 L147.42 97.75 L146.96 97.96 L146.51 98.17 L146.06 98.38 L145.60 98.59 L145.15 98.81 L144.70 99.02 L144.25 99.24 L143.80 99.46 L143.35 99.69 L142.91 99.91 L142.46 100.14 L142.02 100.37 L141.57 100.60 L141.13 100.83 L140.69 101.06 L140.24 101.30 L139.80 101.53 L139.36 101.77 L138.93 102.02 L138.49 102.26 L138.05 102.50 L137.62 102.75 L137.18 103.00 L136.75 103.25 L136.32 103.50 L135.89 103.76 L135.46 104.01 L135.03 104.27 L134.60 104.53 L134.17 104.79 L133.75 105.05 L133.32 105.32 L132.90 105.59 L132.48 105.85 L132.06 106.12 L131.64 106.40 L131.22 106.67 L130.80 106.95 L130.39 107.22 L129.97 107.50 L129.56 107.78 L129.14 108.07 L128.73 108.35 L128.32 108.64 L127.91 108.93 L127.50 109.21 L127.10 109.51 L126.69 109.80 L126.29 110.09 L125.88 110.39 L125.48 110.69 L125.08 110.99 L124.68 111.29 L124.29 111.59 L123.89 111.90 L123.49 112.20 L123.10 112.51 L122.71 112.82 L122.31 113.13 L121.92 113.45 L121.54 113.76 L121.15 114.08 L120.76 114.40 L120.38 114.72 L119.99 115.04 L119.61 115.36 L119.23 115.69 L118.85 116.01 L118.47 116.34 L118.10 116.67 L117.72 117.00 L117.35 117.33 L116.98 117.67 L116.60 118.00 L116.24 118.34 L115.87 118.68 L115.50 119.02 L115.14 119.36 L114.77 119.70 L114.41 120.05 L114.05 120.40 L113.69 120.74 L113.33 121.09 L112.97 121.44 L112.62 121.80 L112.27 122.15 L111.91 122.51 L111.56 122.86 L111.21 123.22 L110.87 123.58 L110.52 123.94 L110.18 124.31 L109.83 124.67 L109.49 125.04 L109.15 125.40 L108.81 125.77 L108.48 126.14 L108.14 126.51 L107.81 126.89 L107.48 127.26 L107.15 127.64 L106.82 128.01 L106.49 128.39 L106.16 128.77 L105.84 129.15 L105.52 129.54 L105.20 129.92 L104.88 130.31 L104.56 130.69 L104.25 131.08 L103.93 131.47 L103.62 131.86 L103.31 132.25 L103.00 132.65 L102.69 133.04 L102.38 133.44 L102.08 133.83 L101.78 134.23 L101.48 134.63 L101.18 135.03 L100.88 135.43 L100.58 135.84 L100.29 136.24 L100.00 136.65 L99.71 137.06 L99.42 137.46 L99.13 137.87 L98.85 138.28 L98.56 138.70 L98.28 139.11 L98.00 139.52 L97.72 139.94 L97.44 140.36 L97.17 140.77 L96.90 141.19 L96.62 141.61 L96.35 142.04 L96.09 142.46 L95.82 142.88 L95.56 143.31 L95.29 143.73 L95.03 144.16 L94.77 144.59 L94.52 145.02 L94.26 145.45 L94.01 145.88 L93.76 146.31 L93.51 146.74 L93.26 147.18 L93.01 147.61 L92.77 148.05 L92.53 148.49 L92.29 148.93 L92.05 149.37 L91.81 149.81 L91.57 150.25 L91.34 150.69 L91.11 151.14 L90.88 151.58 L90.65 152.03 L90.43 152.47 L90.20 152.92 L89.98 153.37 L89.76 153.82 L89.54 154.27 L89.33 154.72 L89.11 155.17 L88.90 155.62 L88.69 156.08 L88.48 156.53 L88.27 156.99 L88.07 157.44 L87.87 157.90 L87.67 158.36 L87.47 158.82 L87.27 159.28 L87.08 159.74 L86.88 160.20 L86.69 160.66 L86.50 161.13 L86.32 161.59 L86.13 162.06 L85.95 162.52 L85.77 162.99 L85.59 163.45 L85.41 163.92 L85.23 164.39 L85.06 164.86 L84.89 165.33 L84.72 165.80 L84.55 166.27 L84.39 166.74 L84.22 167.22 L84.06 167.69 L83.90 168.17 L83.74 168.64 L83.59 169.12 L83.44 169.59 L83.28 170.07 L83.13 170.55 L82.99 171.02 L82.84 171.50 L82.70 171.98 L82.56 172.46 L82.42 172.94 L82.28 173.42 L82.14 173.91 L82.01 174.39 L81.88 174.87 L81.75 175.35 L81.62 175.84 L81.50 176.32 L81.38 176.81 L81.26 177.29 L81.14 177.78 L81.02 178.27 L80.90 178.75 L80.79 179.24 L80.68 179.73 L80.57 180.22 L80.47 180.71 L80.36 181.19 L80.26 181.68 L80.16 182.17 L80.06 182.66 L79.96 183.16 L79.87 183.65 L79.78 184.14 L79.69 184.63 L79.60 185.12 L79.51 185.62 L79.43 186.11 L79.35 186.60 L79.27 187.10 L79.19 187.59 L79.12 188.09 L79.04 188.58 L78.97 189.08 L78.90 189.57 L78.84 190.07 L78.77 190.56 L78.71 191.06 L78.65 191.56 L78.59 192.05 L78.53 192.55 L78.48 193.05 L78.42 193.55 L78.37 194.04 L78.33 194.54 L78.28 195.04 L78.24 195.54 L78.19 196.04 L78.15 196.54 L78.12 197.03 L78.08 197.53 L78.05 198.03 L78.02 198.53 L77.99 199.03 L77.96 199.53 L77.94 200.03 L77.91 200.53 L77.89 201.03 L77.87 201.53 L77.86 202.03 L77.84 202.53 L77.83 203.03 L77.82 203.53 L77.81 204.03 L77.81 204.53 L77.80 205.03 L77.80 205.53 L77.80 206.03 L77.80 206.53 L77.81 207.03 L77.81 207.53 L77.82 208.03 L77.83 208.53 L77.85 209.03 L77.86 209.53 L77.88 210.03 L77.90 210.53 L77.92 211.03 L77.94 211.53 L77.97 212.03 L78.00 212.53 L78.03 213.03 L78.06 213.53 L78.09 214.03 L78.13 214.53 L78.17 215.03 L78.21 215.53 L78.25 216.03 L78.30 216.52 L78.34 217.02 L78.39 217.52 L78.44 218.02 L78.49 218.52 L78.55 219.01 L78.61 219.51 L78.67 220.01 L78.73 220.50 L78.79 221.00 L78.86 221.49 L78.93 221.99 L78.99 222.49 L79.07 222.98 L79.14 223.48 L79.22 223.97 L79.30 224.46 L79.38 224.96 L79.46 225.45 L79.54 225.95 L79.63 226.44 L79.72 226.93 L79.81 227.42 L79.90 227.91 L80.00 228.41 L80.09 228.90 L80.19 229.39 L80.29 229.88 L80.40 230.37 L80.50 230.86 L80.61 231.34 L80.72 231.83 L80.83 232.32 L80.94 232.81 L81.06 233.29 L81.18 233.78 L81.29 234.27 L81.42 234.75 L81.54 235.24 L81.67 235.72 L81.79 236.20 L81.92 236.69 L82.06 237.17 L82.19 237.65 L82.32 238.13 L82.46 238.61 L82.60 239.09 L82.74 239.57 L82.89 240.05 L83.04 240.53 L83.18 241.01 L83.33 241.49 L83.49 241.96 L83.64 242.44 L83.80 242.92 L83.95 243.39 L84.11 243.86 L84.28 244.34 L84.44 244.81 L84.61 245.28 L84.77 245.75 L84.94 246.22 L85.12 246.69 L85.29 247.16 L85.47 247.63 L85.64 248.10 L85.82 248.57 L86.01 249.03 L86.19 249.50 L86.38 249.96 L86.56 250.42 L86.75 250.89 L86.95 251.35 L87.14 251.81 L87.34 252.27 L87.53 252.73 L87.73 253.19 L87.93 253.65 L88.14 254.11 L88.34 254.56 L88.55 255.02 L88.76 255.47 L88.97 255.92 L89.18 256.38 L89.40 256.83 L89.61 257.28 L89.83 257.73 L90.05 258.18 L90.28 258.63 L90.50 259.07 L90.73 259.52 L90.96 259.97 L91.19 260.41 L91.42 260.85 L91.65 261.30 L91.89 261.74 L92.12 262.18 L92.36 262.62 L92.61 263.06 L92.85 263.49 L93.09 263.93 L93.34 264.36 L93.59 264.80 L93.84 265.23 L94.09 265.66 L94.35 266.09 L94.60 266.52 L94.86 266.95 L95.12 267.38 L95.38 267.81 L95.64 268.23 L95.91 268.66 L96.17 269.08 L96.44 269.50 L96.71 269.92 L96.99 270.34 L97.26 270.76 L97.53 271.18 L97.81 271.60 L98.09 272.01 L98.37 272.43 L98.65 272.84 L98.94 273.25 L99.23 273.66 L99.51 274.07 L99.80 274.48 L100.09 274.89 L100.39 275.29 L100.68 275.70 L100.98 276.10 L101.28 276.50 L101.58 276.90 L101.88 277.30 L102.18 277.70 L102.48 278.09 L102.79 278.49 L103.10 278.88 L103.41 279.28 L103.72 279.67 L104.03 280.06 L104.35 280.45 L104.67 280.84 L104.98 281.22 L105.30 281.61 L105.62 281.99 L105.95 282.37 L106.27 282.75 L106.60 283.13 L106.93 283.51 L107.25 283.89 L107.59 284.26 L107.92 284.64 L108.25 285.01 L108.59 285.38 L108.93 285.75 L109.26 286.12 L109.60 286.48 L109.95 286.85 L110.29 287.21 L110.63 287.58 L110.98 287.94 L111.33 288.30 L111.68 288.65 L112.03 289.01 L112.38 289.37 L112.74 289.72 L113.09 290.07 L113.45 290.42 L113.81 290.77 L114.17 291.12 L114.53 291.46 L114.89 291.81 L115.25 292.15 L115.62 292.49 L115.99 292.83 L116.36 293.17 L116.73 293.51 L117.10 293.84 L117.47 294.18 L117.84 294.51 L118.22 294.84 L118.60 295.17 L118.98 295.50 L119.36 295.82 L119.74 296.15 L120.12 296.47 L120.50 296.79 L120.89 297.11 L121.28 297.43 L121.66 297.74 L122.05 298.06 L122.44 298.37 L122.84 298.68 L123.23 298.99 L123.62 299.30 L124.02 299.60 L124.42 299.91 L124.81 300.21 L125.21 300.51 L125.61 300.81 L126.02 301.11 L126.42 301.40 L126.83 301.70 L127.23 301.99 L127.64 302.28 L128.05 302.57 L128.46 302.86 L128.87 303.14 L129.28 303.43 L129.69 303.71 L130.11 303.99 L130.52 304.27 L130.94 304.54 L131.36 304.82 L131.78 305.09 L132.20 305.36 L132.62 305.63 L133.04 305.90 L133.46 306.17 L133.89 306.43 L134.31 306.70 L134.74 306.96 L135.17 307.21 L135.60 307.47 L136.03 307.73 L136.46 307.98 L136.89 308.23 L137.33 308.48 L137.76 308.73 L138.20 308.98 L138.63 309.22 L139.07 309.46 L139.51 309.70 L139.95 309.94 L140.39 310.18 L140.83 310.42 L141.27 310.65 L141.72 310.88 L142.16 311.11 L142.61 311.34 L143.05 311.56 L143.50 311.79 L143.95 312.01 L144.40 312.23 L144.85 312.45 L145.30 312.66 L145.75 312.88 L146.20 313.09 L146.66 313.30 L147.11 313.51 L147.57 313.72 L148.03 313.92 L148.48 314.12 L148.94 314.32 L149.40 314.52 L149.86 314.72 L150.32 314.92 L150.78 315.11 L151.24 315.30 L151.71 315.49 L152.17 315.68 L152.64 315.86 L153.10 316.05 L153.57 316.23 L154.04 316.41 L154.50 316.58 L154.97 316.76 L155.44 316.93 L155.91 317.10 L156.38 317.27 L156.85 317.44 L157.32 317.61 L157.80 317.77 L158.27 317.93 L158.75 318.09 L159.22 318.25 L159.70 318.40 L160.17 318.56 L160.65 318.71 L161.13 318.86 L161.60 319.01 L162.08 319.15 L162.56 319.30 L163.04 319.44 L163.52 319.58 L164.00 319.71 L164.49 319.85 L164.97 319.98 L165.45 320.11 L165.93 320.24 L166.42 320.37 L166.90 320.50 L167.39 320.62 L167.87 320.74 L168.36 320.86 L168.85 320.98 L169.33 321.09 L169.82 321.20 L170.31 321.31 L170.80 321.42 L171.28 321.53 L171.77 321.63 L172.26 321.74 L172.75 321.84 L173.24 321.94 L173.74 322.03 L174.23 322.13 L174.72 322.22 L175.21 322.31 L175.70 322.40 L176.20 322.48 L176.69 322.57 L177.18 322.65 L177.68 322.73 L178.17 322.81 L178.67 322.88 L179.16 322.95 L179.66 323.03 L180.15 323.09 L180.65 323.16 L181.14 323.23 L181.64 323.29 L182.14 323.35 L182.63 323.41 L183.13 323.47 L183.63 323.52 L184.12 323.57 L184.62 323.62 L185.12 323.67 L185.62 323.72 L186.12 323.76 L186.62 323.80 L187.11 323.84 L187.61 323.88 L188.11 323.92 L188.61 323.95 L189.11 323.98 L189.61 324.01 L190.11 324.04 L190.61 324.06 L191.11 324.09 L191.61 324.11 L192.11 324.13 L192.61 324.14 L193.11 324.16 L193.61 324.17 L194.11 324.18 L194.61 324.19 L195.11 324.19 L195.61 324.20 L196.11 324.20 L196.61 324.20 L197.11 324.20 L197.61 324.19 L198.11 324.19 L198.61 324.18 L199.11 324.17 L199.61 324.15 L200.11 324.14 L200.61 324.12 L201.11 324.10 L201.61 324.08 L202.11 324.06 L202.61 324.03 L203.11 324.00 L203.61 323.97 L204.11 323.94 L204.61 323.91 L205.11 323.87 L205.61 323.83 L206.11 323.79 L206.60 323.75 L207.10 323.71 L207.60 323.66 L208.10 323.61 L208.60 323.56 L209.09 323.51 L209.59 323.45 L210.09 323.40 L210.59 323.34 L211.08 323.27 L211.58 323.21 L212.07 323.15 L212.57 323.08 L213.07 323.01 L213.56 322.94 L214.06 322.86 L214.55 322.79 L215.04 322.71 L215.54 322.63 L216.03 322.55 L216.52 322.46 L217.02 322.37 L217.51 322.29 L218.00 322.20 L218.49 322.10 L218.98 322.01 L219.48 321.91 L219.97 321.81 L220.46 321.71 L220.95 321.61 L221.43 321.50 L221.92 321.40 L222.41 321.29 L222.90 321.18 L223.39 321.06 L223.87 320.95 L224.36 320.83 L224.85 320.71 L225.33 320.59 L225.82 320.47 L226.30 320.34 L226.78 320.21 L227.27 320.08 L227.75 319.95 L228.23 319.82 L228.71 319.68 L229.19 319.54 L229.67 319.40 L230.15 319.26 L230.63 319.12 L231.11 318.97 L231.59 318.82 L232.07 318.67 L232.54 318.52 L233.02 318.37 L233.50 318.21 L233.97 318.05 L234.44 317.89 L234.92 317.73 L235.39 317.57 L235.86 317.40 L236.33 317.23 L236.80 317.06 L237.27 316.89 L237.74 316.72 L238.21 316.54 L238.68 316.36 L239.15 316.18 L239.61 316.00 L240.08 315.82 L240.54 315.63 L241.01 315.44 L241.47 315.25 L241.93 315.06 L242.39 314.87 L242.85 314.67 L243.31 314.48 L243.77 314.28 L244.23 314.07 L244.69 313.87 L245.14 313.67 L245.60 313.46 L246.05 313.25 L246.51 313.04 L246.96 312.83 L247.41 312.61 L247.86 312.39 L248.31 312.18 L248.76 311.96 L249.21 311.73 L249.66 311.51 L250.10 311.28 L250.55 311.05 L250.99 310.82 L251.43 310.59 L251.88 310.36 L252.32 310.12 L252.76 309.89 L253.20 309.65 L253.64 309.41 L254.07 309.16 L254.51 308.92 L254.95 308.67 L255.38 308.42 L255.81 308.17 L256.25 307.92 L256.68 307.67 L257.11 307.41 L257.54 307.15 L257.96 306.89 L258.39 306.63 L258.82 306.37 L259.24 306.10 L259.66 305.84 L260.09 305.57 L260.51 305.30 L260.93 305.03 L261.35 304.75 L261.76 304.48 L262.18 304.20 L262.59 303.92 L263.01 303.64 L263.42 303.36 L263.83 303.07 L264.24 302.79 L264.65 302.50 L265.06 302.21 L265.47 301.92 L265.87 301.63 L266.28 301.33 L266.68 301.03 L267.08 300.74 L267.48 300.44 L267.88 300.14 L268.28 299.83 L268.68 299.53 L269.07 299.22 L269.47 298.91 L269.86 298.60 L270.25 298.29 L270.64 297.98 L271.03 297.66 L271.42 297.35 L271.81 297.03 L272.19 296.71 L272.57 296.39 L272.96 296.07 L273.34 295.74 L273.72 295.42 L274.09 295.09 L274.47 294.76 L274.85 294.43 L275.22 294.10 L275.59 293.76 L275.96 293.43 L276.33 293.09 L276.70 292.75 L277.07 292.41 L277.43 292.07 L277.80 291.73 L278.16 291.38 L278.52 291.03 L278.88 290.69 L318.55 331.76 L318.19 332.10 L317.83 332.45 L317.47 332.80 L317.11 333.14 L316.74 333.49 L316.38 333.83 L316.01 334.17 L315.65 334.51 L315.28 334.85 L314.91 335.19 L314.54 335.52 L314.17 335.86 L313.80 336.20 L313.43 336.53 L313.05 336.86 L312.68 337.20 L312.30 337.53 L311.93 337.86 L311.55 338.19 L311.17 338.51 L310.80 338.84 L310.42 339.17 L310.03 339.49 L309.65 339.81 L309.27 340.14 L308.89 340.46 L308.50 340.78 L308.12 341.10 L307.73 341.41 L307.34 341.73 L306.96 342.05 L306.57 342.36 L306.18 342.68 L305.79 342.99 L305.40 343.30 L305.00 343.61 L304.61 343.92 L304.22 344.23 L303.82 344.53 L303.42 344.84 L303.03 345.14 L302.63 345.45 L302.23 345.75 L301.83 346.05 L301.43 346.35 L301.03 346.65 L300.63 346.95 L300.23 347.24 L299.82 347.54 L299.42 347.83 L299.01 348.13 L298.61 348.42 L298.20 348.71 L297.79 349.00 L297.38 349.29 L296.97 349.58 L296.56 349.86 L296.15 350.15 L295.74 350.43 L295.33 350.71 L294.91 350.99 L294.50 351.27 L294.09 351.55 L293.67 351.83 L293.25 352.11 L292.84 352.38 L292.42 352.66 L292.00 352.93 L291.58 353.20 L291.16 353.47 L290.74 353.74 L290.31 354.01 L289.89 354.28 L289.47 354.55 L289.04 354.81 L288.62 355.07 L288.19 355.34 L287.77 355.60 L287.34 355.86 L286.91 356.12 L286.48 356.37 L286.05 356.63 L285.62 356.89 L285.19 357.14 L284.76 357.39 L284.33 357.64 L283.89 357.89 L283.46 358.14 L283.02 358.39 L282.59 358.64 L282.15 358.88 L281.72 359.13 L281.28 359.37 L280.84 359.61 L280.40 359.85 L279.96 360.09 L279.52 360.33 L279.08 360.56 L278.64 360.80 L278.20 361.03 L277.76 361.26 L277.31 361.50 L276.87 361.73 L276.42 361.95 L275.98 362.18 L275.53 362.41 L275.09 362.63 L274.64 362.86 L274.19 363.08 L273.74 363.30 L273.29 363.52 L272.84 363.74 L272.39 363.96 L271.94 364.17 L271.49 364.39 L271.04 364.60 L270.58 364.81 L270.13 365.03 L269.68 365.23 L269.22 365.44 L268.77 365.65 L268.31 365.86 L267.85 366.06 L267.40 366.26 L266.94 366.47 L266.48 366.67 L266.02 366.87 L265.56 367.06 L265.10 367.26 L264.64 367.46 L264.18 367.65 L263.72 367.84 L263.26 368.03 L262.79 368.22 L262.33 368.41 L261.87 368.60 L261.40 368.79 L260.94 368.97 L260.47 369.15 L260.01 369.34 L259.54 369.52 L259.07 369.70 L258.61 369.87 L258.14 370.05 L257.67 370.23 L257.20 370.40 L256.73 370.57 L256.26 370.75 L255.79 370.92 L255.32 371.08 L254.85 371.25 L254.38 371.42 L253.90 371.58 L253.43 371.75 L252.96 371.91 L252.49 372.07 L252.01 372.23 L251.54 372.39 L251.06 372.54 L250.59 372.70 L250.11 372.85 L249.63 373.00 L249.16 373.16 L248.68 373.31 L248.20 373.45 L247.72 373.60 L247.25 373.75 L246.77 373.89 L246.29 374.03 L245.81 374.18 L245.33 374.32 L244.85 374.46 L244.37 374.59 L243.88 374.73 L243.40 374.86 L242.92 375.00 L242.44 375.13 L241.96 375.26 L241.47 375.39 L240.99 375.52 L240.50 375.64 L240.02 375.77 L239.54 375.89 L239.05 376.02 L238.57 376.14 L238.08 376.26 L237.59 376.38 L237.11 376.49 L236.62 376.61 L236.13 376.72 L235.65 376.84 L235.16 376.95 L234.67 377.06 L234.18 377.17 L233.69 377.27 L233.21 377.38 L232.72 377.48 L232.23 377.59 L231.74 377.69 L231.25 377.79 L230.76 377.89 L230.27 377.98 L229.77 378.08 L229.28 378.17 L228.79 378.27 L228.30 378.36 L227.81 378.45 L227.32 378.54 L226.82 378.63 L226.33 378.71 L225.84 378.80 L225.34 378.88 L224.85 378.96 L224.36 379.04 L223.86 379.12 L223.37 379.20 L222.88 379.28 L222.38 379.35 L221.89 379.43 L221.39 379.50 L220.90 379.57 L220.40 379.64 L219.90 379.71 L219.41 379.77 L218.91 379.84 L218.42 379.90 L217.92 379.96 L217.42 380.02 L216.93 380.08 L216.43 380.14 L215.93 380.20 L215.44 380.25 L214.94 380.31 L214.44 380.36 L213.94 380.41 L213.45 380.46 L212.95 380.51 L212.45 380.56 L211.95 380.60 L211.45 380.64 L210.96 380.69 L210.46 380.73 L209.96 380.77 L209.46 380.81 L208.96 380.84 L208.46 380.88 L207.96 380.91 L207.46 380.94 L206.96 380.98 L206.47 381.01 L205.97 381.03 L205.47 381.06 L204.97 381.09 L204.47 381.11 L203.97 381.13 L203.47 381.15 L202.97 381.17 L202.47 381.19 L201.97 381.21 L201.47 381.22 L200.97 381.24 L200.47 381.25 L199.97 381.26 L199.47 381.27 L198.97 381.28 L198.47 381.29 L197.97 381.29 L197.47 381.30 L196.97 381.30 L196.47 381.30 L195.97 381.30 L195.47 381.30 L194.97 381.30 L194.47 381.29 L193.97 381.29 L193.47 381.28 L192.97 381.27 L192.46 381.26 L191.96 381.25 L191.46 381.24 L190.96 381.23 L190.46 381.21 L189.96 381.20 L189.46 381.18 L188.96 381.16 L188.46 381.14 L187.97 381.12 L187.47 381.10 L186.97 381.07 L186.47 381.05 L185.97 381.02 L185.47 381.00 L184.97 380.97 L184.47 380.94 L183.97 380.91 L183.47 380.87 L182.97 380.84 L182.47 380.80 L181.97 380.77 L181.47 380.73 L180.97 380.69 L180.48 380.65 L179.98 380.61 L179.48 380.57 L178.98 380.52 L178.48 380.48 L177.98 380.43 L177.48 380.38 L176.99 380.33 L176.49 380.28 L175.99 380.23 L175.49 380.17 L175.00 380.12 L174.50 380.06 L174.00 380.01 L173.50 379.95 L173.01 379.89 L172.51 379.83 L172.01 379.76 L171.52 379.70 L171.02 379.63 L170.52 379.57 L170.03 379.50 L169.53 379.43 L169.04 379.36 L168.54 379.29 L168.04 379.22 L167.55 379.14 L167.05 379.07 L166.56 378.99 L166.06 378.91 L165.57 378.83 L165.08 378.75 L164.58 378.67 L164.09 378.58 L163.59 378.50 L163.10 378.41 L162.61 378.33 L162.11 378.24 L161.62 378.15 L161.13 378.05 L160.64 377.96 L160.14 377.87 L159.65 377.77 L159.16 377.68 L158.67 377.58 L158.18 377.48 L157.69 377.38 L157.19 377.28 L156.70 377.17 L156.21 377.07 L155.72 376.96 L155.23 376.85 L154.74 376.75 L154.25 376.64 L153.77 376.52 L153.28 376.41 L152.79 376.30 L152.30 376.18 L151.81 376.07 L151.32 375.95 L150.84 375.83 L150.35 375.71 L149.86 375.59 L149.38 375.46 L148.89 375.34 L148.41 375.21 L147.92 375.08 L147.43 374.96 L146.95 374.83 L146.47 374.69 L145.98 374.56 L145.50 374.43 L145.01 374.29 L144.53 374.16 L144.05 374.02 L143.57 373.88 L143.08 373.74 L142.60 373.60 L142.12 373.45 L141.64 373.31 L141.16 373.16 L140.68 373.01 L140.20 372.87 L139.72 372.72 L139.24 372.56 L138.76 372.41 L138.28 372.26 L137.81 372.10 L137.33 371.94 L136.85 371.79 L136.37 371.63 L135.90 371.47 L135.42 371.30 L134.95 371.14 L134.47 370.98 L134.00 370.81 L133.52 370.64 L133.05 370.47 L132.58 370.30 L132.10 370.13 L131.63 369.96 L131.16 369.78 L130.69 369.61 L130.22 369.43 L129.75 369.25 L129.28 369.07 L128.81 368.89 L128.34 368.71 L127.87 368.53 L127.40 368.34 L126.93 368.15 L126.47 367.97 L126.00 367.78 L125.53 367.59 L125.07 367.39 L124.60 367.20 L124.14 367.01 L123.68 366.81 L123.21 366.61 L122.75 366.42 L122.29 366.22 L121.83 366.01 L121.37 365.81 L120.90 365.61 L120.44 365.40 L119.99 365.20 L119.53 364.99 L119.07 364.78 L118.61 364.57 L118.15 364.36 L117.70 364.14 L117.24 363.93 L116.79 363.71 L116.33 363.49 L115.88 363.27 L115.42 363.05 L114.97 362.83 L114.52 362.61 L114.07 362.39 L113.62 362.16 L113.17 361.93 L112.72 361.71 L112.27 361.48 L111.82 361.25 L111.37 361.01 L110.92 360.78 L110.48 360.54 L110.03 360.31 L109.59 360.07 L109.14 359.83 L108.70 359.59 L108.26 359.35 L107.81 359.11 L107.37 358.86 L106.93 358.62 L106.49 358.37 L106.05 358.12 L105.61 357.87 L105.17 357.62 L104.74 357.37 L104.30 357.12 L103.86 356.86 L103.43 356.61 L103.00 356.35 L102.56 356.09 L102.13 355.83 L101.70 355.57 L101.27 355.31 L100.83 355.04 L100.41 354.78 L99.98 354.51 L99.55 354.24 L99.12 353.97 L98.69 353.70 L98.27 353.43 L97.84 353.16 L97.42 352.88 L97.00 352.61 L96.57 352.33 L96.15 352.05 L95.73 351.77 L95.31 351.49 L94.89 351.21 L94.47 350.93 L94.06 350.64 L93.64 350.36 L93.22 350.07 L92.81 349.78 L92.40 349.49 L91.98 349.20 L91.57 348.91 L91.16 348.61 L90.75 348.32 L90.34 348.02 L89.93 347.72 L89.52 347.43 L89.11 347.13 L88.71 346.82 L88.30 346.52 L87.90 346.22 L87.50 345.91 L87.09 345.61 L86.69 345.30 L86.29 344.99 L85.89 344.68 L85.49 344.37 L85.10 344.06 L84.70 343.74 L84.30 343.43 L83.91 343.11 L83.52 342.80 L83.12 342.48 L82.73 342.16 L82.34 341.84 L81.95 341.51 L81.56 341.19 L81.17 340.87 L80.79 340.54 L80.40 340.21 L80.02 339.88 L79.63 339.56 L79.25 339.22 L78.87 338.89 L78.49 338.56 L78.11 338.23 L77.73 337.89 L77.35 337.55 L76.97 337.22 L76.60 336.88 L76.22 336.54 L75.85 336.20 L75.48 335.85 L75.11 335.51 L74.74 335.17 L74.37 334.82 L74.00 334.47 L73.63 334.12 L73.27 333.78 L72.90 333.42 L72.54 333.07 L72.17 332.72 L71.81 332.37 L71.45 332.01 L71.09 331.66 L70.73 331.30 L70.38 330.94 L70.02 330.58 L69.67 330.22 L69.31 329.86 L68.96 329.50 L68.61 329.13 L68.26 328.77 L67.91 328.40 L67.56 328.04 L67.21 327.67 L66.87 327.30 L66.52 326.93 L66.18 326.56 L65.84 326.18 L65.49 325.81 L65.15 325.44 L64.82 325.06 L64.48 324.68 L64.14 324.31 L63.81 323.93 L63.47 323.55 L63.14 323.17 L62.81 322.79 L62.48 322.40 L62.15 322.02 L61.82 321.63 L61.49 321.25 L61.16 320.86 L60.84 320.47 L60.52 320.09 L60.19 319.70 L59.87 319.31 L59.55 318.91 L59.23 318.52 L58.92 318.13 L58.60 317.73 L58.29 317.34 L57.97 316.94 L57.66 316.54 L57.35 316.14 L57.04 315.75 L56.73 315.34 L56.42 314.94 L56.12 314.54 L55.81 314.14 L55.51 313.73 L55.20 313.33 L54.90 312.92 L54.60 312.52 L54.30 312.11 L54.01 311.70 L53.71 311.29 L53.41 310.88 L53.12 310.47 L52.83 310.06 L52.54 309.64 L52.25 309.23 L51.96 308.81 L51.67 308.40 L51.39 307.98 L51.10 307.57 L50.82 307.15 L50.53 306.73 L50.25 306.31 L49.97 305.89 L49.70 305.47 L49.42 305.04 L49.14 304.62 L48.87 304.20 L48.59 303.77 L48.32 303.35 L48.05 302.92 L47.78 302.49 L47.51 302.06 L47.25 301.63 L46.98 301.21 L46.72 300.77 L46.46 300.34 L46.19 299.91 L45.93 299.48 L45.68 299.05 L45.42 298.61 L45.16 298.18 L44.91 297.74 L44.65 297.30 L44.40 296.87 L44.15 296.43 L43.90 295.99 L43.65 295.55 L43.41 295.11 L43.16 294.67 L42.92 294.23 L42.67 293.79 L42.43 293.34 L42.19 292.90 L41.95 292.46 L41.71 292.01 L41.48 291.56 L41.24 291.12 L41.01 290.67 L40.78 290.22 L40.55 289.78 L40.32 289.33 L40.09 288.88 L39.86 288.43 L39.63 287.98 L39.41 287.52 L39.19 287.07 L38.97 286.62 L38.75 286.17 L38.53 285.71 L38.31 285.26 L38.09 284.80 L37.88 284.35 L37.66 283.89 L37.45 283.43 L37.24 282.97 L37.03 282.52 L36.82 282.06 L36.62 281.60 L36.41 281.14 L36.21 280.68 L36.00 280.22 L35.80 279.76 L35.60 279.29 L35.40 278.83 L35.21 278.37 L35.01 277.90 L34.82 277.44 L34.62 276.97 L34.43 276.51 L34.24 276.04 L34.05 275.58 L33.86 275.11 L33.68 274.64 L33.49 274.17 L33.31 273.71 L33.13 273.24 L32.94 272.77 L32.76 272.30 L32.59 271.83 L32.41 271.36 L32.23 270.88 L32.06 270.41 L31.89 269.94 L31.71 269.47 L31.54 269.00 L31.37 268.52 L31.21 268.05 L31.04 267.57 L30.88 267.10 L30.71 266.62 L30.55 266.15 L30.39 265.67 L30.23 265.19 L30.07 264.72 L29.91 264.24 L29.76 263.76 L29.60 263.28 L29.45 262.80 L29.30 262.33 L29.15 261.85 L29.00 261.37 L28.85 260.89 L28.71 260.41 L28.56 259.92 L28.42 259.44 L28.28 258.96 L28.14 258.48 L28.00 258.00 L27.86 257.51 L27.72 257.03 L27.59 256.55 L27.45 256.06 L27.32 255.58 L27.19 255.10 L27.06 254.61 L26.93 254.13 L26.80 253.64 L26.67 253.15 L26.55 252.67 L26.43 252.18 L26.30 251.70 L26.18 251.21 L26.06 250.72 L25.95 250.23 L25.83 249.75 L25.71 249.26 L25.60 248.77 L25.49 248.28 L25.38 247.79 L25.26 247.30 L25.16 246.81 L25.05 246.32 L24.94 245.83 L24.84 245.34 L24.73 244.85 L24.63 244.36 L24.53 243.87 L24.43 243.38 L24.33 242.89 L24.24 242.39 L24.14 241.90 L24.05 241.41 L23.95 240.92 L23.86 240.43 L23.77 239.93 L23.68 239.44 L23.60 238.95 L23.51 238.45 L23.42 237.96 L23.34 237.46 L23.26 236.97 L23.18 236.48 L23.10 235.98 L23.02 235.49 L22.94 234.99 L22.87 234.50 L22.79 234.00 L22.72 233.51 L22.65 233.01 L22.58 232.51 L22.51 232.02 L22.44 231.52 L22.37 231.03 L22.31 230.53 L22.24 230.03 L22.18 229.54 L22.12 229.04 L22.06 228.54 L22.00 228.05 L21.94 227.55 L21.89 227.05 L21.83 226.55 L21.78 226.06 L21.72 225.56 L21.67 225.06 L21.62 224.56 L21.58 224.06 L21.53 223.57 L21.48 223.07 L21.44 222.57 L21.40 222.07 L21.35 221.57 L21.31 221.07 L21.27 220.57 L21.24 220.07 L21.20 219.58 L21.16 219.08 L21.13 218.58 L21.10 218.08 L21.07 217.58 L21.04 217.08 L21.01 216.58 L20.98 216.08 L20.95 215.58 L20.93 215.08 L20.90 214.58 L20.88 214.08 L20.86 213.58 L20.84 213.08 L20.82 212.58 L20.81 212.08 L20.79 211.58 L20.77 211.08 L20.76 210.58 L20.75 210.08 L20.74 209.58 L20.73 209.08 L20.72 208.58 L20.71 208.08 L20.71 207.58 L20.70 207.08 L20.70 206.58 L20.70 206.08 L20.70 205.58 L20.70 205.08 L20.70 204.58 L20.71 204.08 L20.71 203.58 L20.72 203.08 L20.73 202.58 L20.74 202.08 L20.75 201.58 L20.76 201.08 L20.77 200.58 L20.79 200.08 L20.80 199.58 L20.82 199.08 L20.84 198.58 L20.86 198.08 L20.88 197.58 L20.90 197.08 L20.93 196.58 L20.95 196.08 L20.98 195.58 L21.01 195.08 L21.04 194.58 L21.07 194.08 L21.10 193.58 L21.13 193.08 L21.17 192.59 L21.20 192.09 L21.24 191.59 L21.28 191.09 L21.32 190.59 L21.36 190.09 L21.41 189.59 L21.45 189.09 L21.50 188.60 L21.54 188.10 L21.59 187.60 L21.64 187.10 L21.69 186.61 L21.75 186.11 L21.80 185.61 L21.86 185.11 L21.91 184.62 L21.97 184.12 L22.03 183.62 L22.09 183.13 L22.15 182.63 L22.22 182.13 L22.28 181.64 L22.35 181.14 L22.42 180.64 L22.49 180.15 L22.56 179.65 L22.63 179.16 L22.70 178.66 L22.77 178.17 L22.85 177.67 L22.93 177.18 L23.01 176.68 L23.09 176.19 L23.17 175.70 L23.25 175.20 L23.33 174.71 L23.42 174.22 L23.51 173.72 L23.59 173.23 L23.68 172.74 L23.77 172.24 L23.87 171.75 L23.96 171.26 L24.05 170.77 L24.15 170.28 L24.25 169.79 L24.35 169.30 L24.45 168.81 L24.55 168.32 L24.65 167.83 L24.76 167.34 L24.86 166.85 L24.97 166.36 L25.08 165.87 L25.19 165.38 L25.30 164.89 L25.41 164.40 L25.52 163.92 L25.64 163.43 L25.76 162.94 L25.87 162.45 L25.99 161.97 L26.11 161.48 L26.24 161.00 L26.36 160.51 L26.48 160.02 L26.61 159.54 L26.74 159.06 L26.87 158.57 L27.00 158.09 L27.13 157.60 L27.26 157.12 L27.39 156.64 L27.53 156.16 L27.67 155.67 L27.80 155.19 L27.94 154.71 L28.09 154.23 L28.23 153.75 L28.37 153.27 L28.52 152.79 L28.66 152.31 L28.81 151.83 L28.96 151.35 L29.11 150.87 L29.26 150.40 L29.41 149.92 L29.57 149.44 L29.72 148.97 L29.88 148.49 L30.04 148.01 L30.20 147.54 L30.36 147.06 L30.52 146.59 L30.69 146.12 L30.85 145.64 L31.02 145.17 L31.19 144.70 L31.36 144.22 L31.53 143.75 L31.70 143.28 L31.87 142.81 L32.05 142.34 L32.22 141.87 L32.40 141.40 L32.58 140.93 L32.76 140.47 L32.94 140.00 L33.12 139.53 L33.30 139.06 L33.49 138.60 L33.68 138.13 L33.86 137.67 L34.05 137.20 L34.24 136.74 L34.44 136.27 L34.63 135.81 L34.82 135.35 L35.02 134.89 L35.22 134.43 L35.42 133.96 L35.61 133.50 L35.82 133.04 L36.02 132.58 L36.22 132.13 L36.43 131.67 L36.63 131.21 L36.84 130.75 L37.05 130.30 L37.26 129.84 L37.47 129.39 L37.69 128.93 L37.90 128.48 L38.12 128.02 L38.33 127.57 L38.55 127.12 L38.77 126.67 L38.99 126.22 L39.21 125.77 L39.44 125.32 L39.66 124.87 L39.89 124.42 L40.12 123.97 L40.34 123.53 L40.57 123.08 L40.81 122.63 L41.04 122.19 L41.27 121.74 L41.51 121.30 L41.74 120.86 L41.98 120.41 L42.22 119.97 L42.46 119.53 L42.70 119.09 L42.95 118.65 L43.19 118.21 L43.44 117.77 L43.68 117.34 L43.93 116.90 L44.18 116.46 L44.43 116.03 L44.68 115.59 L44.94 115.16 L45.19 114.73 L45.45 114.29 L45.70 113.86 L45.96 113.43 L46.22 113.00 L46.48 112.57 L46.74 112.14 L47.01 111.71 L47.27 111.29 L47.54 110.86 L47.80 110.44 L48.07 110.01 L48.34 109.59 L48.61 109.16 L48.89 108.74 L49.16 108.32 L49.43 107.90 L49.71 107.48 L49.99 107.06 L50.26 106.64 L50.54 106.22 L50.83 105.80 L51.11 105.39 L51.39 104.97 L51.68 104.56 L51.96 104.14 L52.25 103.73 L52.54 103.32 L52.83 102.91 L53.12 102.50 L53.41 102.09 L53.70 101.68 L53.99 101.27 L54.29 100.87 L54.59 100.46 L54.88 100.05 L55.18 99.65 L55.48 99.25 L55.79 98.84 L56.09 98.44 L56.39 98.04 L56.70 97.64 L57.00 97.24 L57.31 96.85 L57.62 96.45 L57.93 96.05 L58.24 95.66 L58.55 95.26 L58.87 94.87 L59.18 94.48 L59.50 94.09 L59.81 93.69 L60.13 93.30 L60.45 92.92 L60.77 92.53 L61.09 92.14 L61.41 91.76 L61.74 91.37 L62.06 90.99 L62.39 90.60 L62.72 90.22 L63.04 89.84 L63.37 89.46 L63.70 89.08 L64.04 88.70 L64.37 88.33 L64.70 87.95 L65.04 87.57 L65.37 87.20 L65.71 86.83 L66.05 86.45 L66.39 86.08 L66.73 85.71 L67.07 85.34 L67.41 84.98 L67.76 84.61 L68.10 84.24 L68.45 83.88 L68.80 83.51 L69.14 83.15 L69.49 82.79 L69.84 82.43 L70.20 82.07 L70.55 81.71 L70.90 81.35 L71.26 80.99 L71.61 80.64 L71.97 80.28 L72.33 79.93 L72.69 79.58 L73.05 79.23 L73.41 78.88 L73.77 78.53 L74.13 78.18 L74.50 77.83 L74.86 77.49 L75.23 77.14 L75.59 76.80 L75.96 76.45 L76.33 76.11 L76.70 75.77 L77.07 75.43 L77.45 75.09 L77.82 74.76 L78.19 74.42 L78.57 74.09 L78.94 73.75 L79.32 73.42 L79.70 73.09 L80.08 72.76 L80.46 72.43 L80.84 72.10 L81.22 71.77 L81.61 71.45 L81.99 71.12 L82.37 70.80 L82.76 70.48 L83.15 70.15 L83.54 69.83 L83.92 69.51 L84.31 69.20 L84.70 68.88 L85.10 68.56 L85.49 68.25 L85.88 67.94 L86.28 67.62 L86.67 67.31 L87.07 67.00 L87.47 66.70 L87.86 66.39 L88.26 66.08 L88.66 65.78 L89.06 65.47 L89.46 65.17 L89.87 64.87 L90.27 64.57 L90.67 64.27 L91.08 63.97 L91.49 63.68 L91.89 63.38 L92.30 63.09 L92.71 62.79 L93.12 62.50 L93.53 62.21 L93.94 61.92 L94.35 61.63 L94.77 61.35 L95.18 61.06 L95.59 60.78 L96.01 60.49 L96.43 60.21 L96.84 59.93 L97.26 59.65 L97.68 59.37 L98.10 59.10 L98.52 58.82 L98.94 58.55 L99.36 58.27 L99.78 58.00 L100.21 57.73 L100.63 57.46 L101.06 57.19 L101.48 56.92 L101.91 56.66 L102.34 56.39 L102.76 56.13 L103.19 55.87 L103.62 55.61 L104.05 55.35 L104.48 55.09 L104.92 54.83 L105.35 54.58 L105.78 54.32 L106.22 54.07 L106.65 53.82 L107.09 53.57 L107.52 53.32 L107.96 53.07 L108.40 52.82 L108.83 52.58 L109.27 52.33 L109.71 52.09 L110.15 51.85 L110.59 51.61 L111.04 51.37 L111.48 51.13 L111.92 50.90 L112.37 50.66 L112.81 50.43 L113.26 50.19 L113.70 49.96 L114.15 49.73 L114.59 49.50 L115.04 49.28 L115.49 49.05 L115.94 48.83 L116.39 48.60 L116.84 48.38 L117.29 48.16 L117.74 47.94 L118.19 47.72 L118.65 47.51 L119.10 47.29 L119.55 47.08 L120.01 46.86 L120.46 46.65 L120.92 46.44 L121.38 46.23 L121.83 46.02 L122.29 45.82 L122.75 45.61 L123.21 45.41 L123.67 45.21 L124.13 45.00 L124.59 44.81 L125.05 44.61 L125.51 44.41 L125.97 44.21 L126.43 44.02 L126.90 43.83 L127.36 43.63 L127.82 43.44 L128.29 43.25 L128.75 43.07 L129.22 42.88 L129.69 42.70 L130.15 42.51 L130.62 42.33 L131.09 42.15 L131.56 41.97 L132.03 41.79 L132.49 41.61 L132.96 41.44 L133.43 41.26 L133.91 41.09 L134.38 40.92 L134.85 40.75 L135.32 40.58 L135.79 40.41 L136.27 40.24 L136.74 40.08 L137.21 39.91 L137.69 39.75 L138.16 39.59 L138.64 39.43 L139.11 39.27 L139.59 39.12 L140.07 38.96 L140.54 38.81 L141.02 38.65 L141.50 38.50 L141.98 38.35 L142.45 38.20 L142.93 38.05 L143.41 37.91 L143.89 37.76 L144.37 37.62 L144.85 37.48 L145.33 37.34 L145.82 37.20 L146.30 37.06 L146.78 36.92 L147.26 36.79 L147.74 36.65 L148.23 36.52 L148.71 36.39 L149.20 36.26 L149.68 36.13 L150.16 36.00 L150.65 35.88 L151.13 35.75 L151.62 35.63 L152.11 35.51 L152.59 35.39 L153.08 35.27 L153.56 35.15 L154.05 35.03 L154.54 34.92 L155.03 34.80 L155.52 34.69 L156.00 34.58 L156.49 34.47 L156.98 34.36 L157.47 34.26 L157.96 34.15 L158.45 34.05 L158.94 33.94 L159.43 33.84 L159.92 33.74 L160.41 33.64 L160.90 33.55 L161.39 33.45 L161.89 33.35 L162.38 33.26 L162.87 33.17 L163.36 33.08 L163.85 32.99 L164.35 32.90 L164.84 32.81 L165.33 32.73 L165.83 32.65 L166.32 32.56 L166.81 32.48 L167.31 32.40 L167.80 32.32 L168.30 32.25 L168.79 32.17 L169.29 32.10 L169.78 32.02 L170.28 31.95 L170.77 31.88 L171.27 31.81 L171.76 31.75 L172.26 31.68 L172.76 31.61 L173.25 31.55 L173.75 31.49 L174.25 31.43 L174.74 31.37 L175.24 31.31 L175.74 31.25 L176.23 31.20 L176.73 31.14 L177.23 31.09 L177.73 31.04 L178.23 30.99 L178.72 30.94 L179.22 30.89 L179.72 30.85 L180.22 30.80 L180.72 30.76 L181.22 30.72 L181.71 30.68 L182.21 30.64 L182.71 30.60 L183.21 30.57 L183.71 30.53 L184.21 30.50 L184.71 30.47 L185.21 30.43 L185.71 30.41 L186.21 30.38 L186.71 30.35 L187.21 30.32 L187.70 30.30 L188.20 30.28 L188.70 30.26 L189.20 30.24 L189.70 30.22 L190.20 30.20 L190.70 30.19 L191.20 30.17 L191.70 30.16 L192.20 30.15 L192.70 30.14 L193.20 30.13 L193.70 30.12 L194.20 30.11 L194.70 30.11 L195.20 30.10 L195.71 30.10 L196.21 30.10 L196.71 30.10 L197.21 30.10 L197.71 30.11 L198.21 30.11 L198.71 30.12 L199.21 30.12 L199.71 30.13 L200.21 30.14 L200.71 30.16 L201.21 30.17 L201.71 30.18 L202.21 30.20 L202.71 30.22 L203.21 30.24 L203.71 30.26 L204.21 30.28 L204.71 30.30 L205.21 30.33 L205.70 30.35 L206.20 30.38 L206.70 30.41 L207.20 30.44 L207.70 30.47 L208.20 30.50 L208.70 30.54 L209.20 30.57 L209.70 30.61 L210.20 30.65 L210.70 30.69 L211.19 30.73 L211.69 30.78 L212.19 30.82 L212.69 30.87 L213.19 30.91 L213.68 30.96 L214.18 31.01 L214.68 31.06 L215.18 31.12 L215.67 31.17 L216.17 31.23 L216.67 31.29 L217.16 31.34 L217.66 31.40 L218.16 31.47 L218.65 31.53 L219.15 31.59 L219.65 31.66 L220.14 31.73 L220.64 31.79 L221.13 31.86 L221.63 31.94 L222.12 32.01 L222.62 32.08 L223.11 32.16 L223.61 32.24 L224.10 32.31 L224.59 32.39 L225.09 32.48 L225.58 32.56 L226.07 32.64 L226.57 32.73 L227.06 32.81 L227.55 32.90 L228.04 32.99 L228.54 33.08 L229.03 33.18 L229.52 33.27 L230.01 33.37 L230.50 33.46 L230.99 33.56 L231.48 33.66 L231.97 33.76 L232.46 33.86 L232.95 33.97 L233.44 34.07 L233.93 34.18 L234.42 34.29 L234.90 34.40 L235.39 34.51 L235.88 34.62 L236.37 34.73 L236.85 34.85 L237.34 34.96 L237.83 35.08 L238.31 35.20 L238.80 35.32 L239.28 35.44 L239.77 35.56 L240.25 35.69 L240.74 35.82 L241.22 35.94 L241.70 36.07 L242.19 36.20 L242.67 36.33 L243.15 36.47 L243.63 36.60 L244.11 36.74 L244.60 36.87 L245.08 37.01 L245.56 37.15 L246.04 37.29 L246.52 37.43 L247.00 37.58 L247.47 37.72 L247.95 37.87 L248.43 38.02 L248.91 38.17 L249.38 38.32 L249.86 38.47 L250.34 38.62 L250.81 38.78 L251.29 38.93 L251.76 39.09 L252.24 39.25 L252.71 39.41 L253.19 39.57 L253.66 39.73 L254.13 39.90 L254.60 40.06 L255.07 40.23 L255.55 40.40 L256.02 40.57 L256.49 40.74 L256.96 40.91 L257.43 41.08 L257.89 41.26 L258.36 41.43 L258.83 41.61 L259.30 41.79 L259.76 41.97 L260.23 42.15 L260.70 42.33 L261.16 42.52 L261.62 42.70 L262.09 42.89 L262.55 43.08 L263.02 43.27 L263.48 43.46 L263.94 43.65 L264.40 43.84 L264.86 44.04 L265.32 44.23 L265.78 44.43 L266.24 44.63 L266.70 44.83 L267.16 45.03 L267.61 45.23 L268.07 45.44 L268.53 45.64 L268.98 45.85 L269.44 46.06 L269.89 46.27 L270.35 46.48 L270.80 46.69 L271.25 46.90 L271.70 47.11 L272.16 47.33 L272.61 47.55 L273.06 47.76 L273.51 47.98 L273.96 48.20 L274.40 48.43 L274.85 48.65 L275.30 48.87 L275.75 49.10 L276.19 49.33 L276.64 49.55 L277.08 49.78 L277.52 50.01 L277.97 50.25 L278.41 50.48 L278.85 50.71 L279.29 50.95 L279.73 51.19 L280.17 51.43 L280.61 51.67 L281.05 51.91 L281.49 52.15 L281.93 52.39 L282.36 52.64 L282.80 52.88 L283.23 53.13 L283.67 53.38 L284.10 53.63 L284.53 53.88 L284.97 54.13 L285.40 54.38 L285.83 54.64 L286.26 54.89 L286.69 55.15 L287.12 55.41 L287.54 55.67 L287.97 55.93 L288.40 56.19 L288.82 56.45 L289.25 56.72 L289.67 56.98 L290.09 57.25 L290.52 57.52 L290.94 57.78 L291.36 58.05 L291.78 58.33 L292.20 58.60 L292.62 58.87 L293.04 59.15 L293.45 59.42 L293.87 59.70 L294.28 59.98 L294.70 60.26 L295.11 60.54 L295.53 60.82 L295.94 61.11 L296.35 61.39 L296.76 61.68 L297.17 61.96 L297.58 62.25 L297.99 62.54 L298.39 62.83 L298.80 63.12 L299.21 63.41 L299.61 63.71 L300.02 64.00 L300.42 64.30 L300.82 64.60 L301.22 64.89 L301.62 65.19 L302.02 65.49 L302.42 65.80 L302.82 66.10 L303.22 66.40 L303.61 66.71 L304.01 67.01 L304.40 67.32 L304.80 67.63 L305.19 67.94 L305.58 68.25 L305.97 68.56 L306.36 68.87 L306.75 69.19 L307.14 69.50 L307.53 69.82 L307.92 70.14 L308.30 70.46 L308.69 70.78 L309.07 71.10 L309.45 71.42 L309.84 71.74 L310.22 72.06 L310.60 72.39 L310.98 72.72 L311.35 73.04 L311.73 73.37 L312.11 73.70 L312.48 74.03 L312.86 74.36 L313.23 74.70 L313.61 75.03 L313.98 75.36 L314.35 75.70 L314.72 76.04 L315.09 76.37 L315.45 76.71 L315.82 77.05 L316.19 77.39 L316.55 77.74 L316.92 78.08 L317.28 78.42 L317.64 78.77 L318.00 79.11 L318.36 79.46 L318.72 79.81 L319.08 80.16 L319.44 80.51ZM498.86 81.19 L499.22 80.84 L499.58 80.50 L499.94 80.15 L500.30 79.81 L500.66 79.46 L501.03 79.12 L501.39 78.78 L501.76 78.44 L502.12 78.10 L502.49 77.76 L502.86 77.42 L503.23 77.08 L503.60 76.75 L503.97 76.41 L504.35 76.08 L504.72 75.75 L505.10 75.42 L505.47 75.09 L505.85 74.76 L506.22 74.43 L506.60 74.10 L506.98 73.78 L507.36 73.45 L507.74 73.13 L508.13 72.80 L508.51 72.48 L508.89 72.16 L509.28 71.84 L509.66 71.52 L510.05 71.21 L510.44 70.89 L510.83 70.58 L511.22 70.26 L511.61 69.95 L512.00 69.64 L512.39 69.33 L512.78 69.02 L513.18 68.71 L513.57 68.40 L513.97 68.10 L514.36 67.79 L514.76 67.49 L515.16 67.19 L515.56 66.88 L515.96 66.58 L516.36 66.28 L516.76 65.99 L517.16 65.69 L517.56 65.39 L517.97 65.10 L518.37 64.80 L518.78 64.51 L519.18 64.22 L519.59 63.93 L520.00 63.64 L520.41 63.35 L520.82 63.07 L521.23 62.78 L521.64 62.50 L522.05 62.22 L522.47 61.93 L522.88 61.65 L523.30 61.37 L523.71 61.09 L524.13 60.82 L524.54 60.54 L524.96 60.27 L525.38 59.99 L525.80 59.72 L526.22 59.45 L526.64 59.18 L527.06 58.91 L527.49 58.64 L527.91 58.38 L528.33 58.11 L528.76 57.85 L529.18 57.58 L529.61 57.32 L530.04 57.06 L530.46 56.80 L530.89 56.55 L531.32 56.29 L531.75 56.03 L532.18 55.78 L532.61 55.53 L533.04 55.27 L533.48 55.02 L533.91 54.77 L534.35 54.53 L534.78 54.28 L535.22 54.03 L535.65 53.79 L536.09 53.55 L536.53 53.30 L536.97 53.06 L537.40 52.82 L537.84 52.59 L538.28 52.35 L538.73 52.11 L539.17 51.88 L539.61 51.65 L540.05 51.41 L540.50 51.18 L540.94 50.95 L541.39 50.73 L541.83 50.50 L542.28 50.27 L542.73 50.05 L543.17 49.83 L543.62 49.60 L544.07 49.38 L544.52 49.16 L544.97 48.95 L545.42 48.73 L545.87 48.51 L546.32 48.30 L546.78 48.09 L547.23 47.88 L547.68 47.67 L548.14 47.46 L548.59 47.25 L549.05 47.04 L549.50 46.84 L549.96 46.63 L550.42 46.43 L550.88 46.23 L551.33 46.03 L551.79 45.83 L552.25 45.64 L552.71 45.44 L553.17 45.25 L553.64 45.05 L554.10 44.86 L554.56 44.67 L555.02 44.48 L555.49 44.29 L555.95 44.11 L556.41 43.92 L556.88 43.74 L557.34 43.55 L557.81 43.37 L558.28 43.19 L558.74 43.01 L559.21 42.84 L559.68 42.66 L560.15 42.49 L560.62 42.31 L561.09 42.14 L561.56 41.97 L562.03 41.80 L562.50 41.63 L562.97 41.46 L563.44 41.30 L563.92 41.14 L564.39 40.97 L564.86 40.81 L565.34 40.65 L565.81 40.49 L566.28 40.34 L566.76 40.18 L567.23 40.03 L567.71 39.87 L568.19 39.72 L568.66 39.57 L569.14 39.42 L569.62 39.27 L570.10 39.13 L570.58 38.98 L571.06 38.84 L571.53 38.70 L572.01 38.55 L572.49 38.41 L572.98 38.28 L573.46 38.14 L573.94 38.00 L574.42 37.87 L574.90 37.74 L575.38 37.61 L575.87 37.48 L576.35 37.35 L576.83 37.22 L577.32 37.09 L577.80 36.97 L578.29 36.85 L578.77 36.72 L579.26 36.60 L579.74 36.49 L580.23 36.37 L580.72 36.25 L581.20 36.14 L581.69 36.02 L582.18 35.91 L582.66 35.80 L583.15 35.69 L583.64 35.58 L584.13 35.48 L584.62 35.37 L585.11 35.27 L585.60 35.17 L586.09 35.06 L586.58 34.97 L587.07 34.87 L587.56 34.77 L588.05 34.68 L588.54 34.58 L589.03 34.49 L589.52 34.40 L590.02 34.31 L590.51 34.22 L591.00 34.13 L591.49 34.05 L591.99 33.96 L592.48 33.88 L592.97 33.80 L593.47 33.72 L593.96 33.64 L594.45 33.56 L594.95 33.49 L595.44 33.41 L595.94 33.34 L596.43 33.27 L596.93 33.20 L597.42 33.13 L597.92 33.06 L598.41 33.00 L598.91 32.93 L599.41 32.87 L599.90 32.81 L600.40 32.75 L600.90 32.69 L601.39 32.63 L601.89 32.58 L602.39 32.52 L602.88 32.47 L603.38 32.42 L603.88 32.37 L604.38 32.32 L604.87 32.27 L605.37 32.22 L605.87 32.18 L606.37 32.14 L606.87 32.09 L607.37 32.05 L607.86 32.01 L608.36 31.98 L608.86 31.94 L609.36 31.91 L609.86 31.87 L610.36 31.84 L610.86 31.81 L611.36 31.78 L611.86 31.75 L612.36 31.73 L612.86 31.70 L613.36 31.68 L613.85 31.66 L614.35 31.64 L614.85 31.62 L615.35 31.60 L615.85 31.58 L616.35 31.57 L616.85 31.56 L617.35 31.54 L617.85 31.53 L618.35 31.52 L618.85 31.52 L619.35 31.51 L619.85 31.51 L620.35 31.50 L620.85 31.50 L621.35 31.50 L621.85 31.50 L622.35 31.50 L622.85 31.51 L623.35 31.51 L623.85 31.52 L624.35 31.53 L624.85 31.53 L625.35 31.54 L625.85 31.56 L626.35 31.57 L626.85 31.58 L627.35 31.60 L627.85 31.62 L628.35 31.64 L628.85 31.66 L629.35 31.68 L629.85 31.70 L630.35 31.72 L630.85 31.75 L631.35 31.77 L631.85 31.80 L632.35 31.83 L632.85 31.86 L633.35 31.89 L633.85 31.93 L634.35 31.96 L634.85 32.00 L635.34 32.04 L635.84 32.08 L636.34 32.12 L636.84 32.16 L637.34 32.20 L637.84 32.24 L638.33 32.29 L638.83 32.34 L639.33 32.39 L639.83 32.44 L640.33 32.49 L640.82 32.54 L641.32 32.59 L641.82 32.65 L642.31 32.70 L642.81 32.76 L643.31 32.82 L643.80 32.88 L644.30 32.94 L644.80 33.01 L645.29 33.07 L645.79 33.14 L646.29 33.21 L646.78 33.27 L647.28 33.34 L647.77 33.42 L648.27 33.49 L648.76 33.56 L649.26 33.64 L649.75 33.72 L650.24 33.79 L650.74 33.87 L651.23 33.95 L651.73 34.04 L652.22 34.12 L652.71 34.21 L653.21 34.29 L653.70 34.38 L654.19 34.47 L654.68 34.56 L655.18 34.65 L655.67 34.74 L656.16 34.84 L656.65 34.93 L657.14 35.03 L657.63 35.13 L658.12 35.23 L658.61 35.33 L659.10 35.43 L659.59 35.54 L660.08 35.64 L660.57 35.75 L661.06 35.86 L661.55 35.97 L662.04 36.08 L662.52 36.19 L663.01 36.30 L663.50 36.42 L663.99 36.54 L664.47 36.65 L664.96 36.77 L665.45 36.89 L665.93 37.01 L666.42 37.14 L666.90 37.26 L667.39 37.39 L667.87 37.51 L668.36 37.64 L668.84 37.77 L669.32 37.90 L669.81 38.04 L670.29 38.17 L670.77 38.31 L671.25 38.44 L671.73 38.58 L672.22 38.72 L672.70 38.86 L673.18 39.00 L673.66 39.14 L674.14 39.29 L674.62 39.44 L675.10 39.58 L675.57 39.73 L676.05 39.88 L676.53 40.03 L677.01 40.19 L677.48 40.34 L677.96 40.49 L678.44 40.65 L678.91 40.81 L679.39 40.97 L679.86 41.13 L680.34 41.29 L680.81 41.46 L681.28 41.62 L681.76 41.79 L682.23 41.95 L682.70 42.12 L683.17 42.29 L683.64 42.46 L684.11 42.64 L684.58 42.81 L685.05 42.99 L685.52 43.16 L685.99 43.34 L686.46 43.52 L686.93 43.70 L687.40 43.88 L687.86 44.07 L688.33 44.25 L688.79 44.44 L689.26 44.63 L689.72 44.82 L690.19 45.01 L690.65 45.20 L691.12 45.39 L691.58 45.58 L692.04 45.78 L692.50 45.98 L692.96 46.17 L693.42 46.37 L693.88 46.57 L694.34 46.78 L694.80 46.98 L695.26 47.18 L695.72 47.39 L696.17 47.60 L696.63 47.81 L697.08 48.02 L697.54 48.23 L697.99 48.44 L698.45 48.65 L698.90 48.87 L699.35 49.09 L699.81 49.30 L700.26 49.52 L700.71 49.74 L701.16 49.97 L701.61 50.19 L702.06 50.41 L702.51 50.64 L702.95 50.87 L703.40 51.09 L703.85 51.32 L704.29 51.56 L704.74 51.79 L705.18 52.02 L705.63 52.26 L706.07 52.49 L706.51 52.73 L706.96 52.97 L707.40 53.21 L707.84 53.45 L708.28 53.69 L708.72 53.94 L709.15 54.18 L709.59 54.43 L710.03 54.68 L710.46 54.92 L710.90 55.17 L711.34 55.43 L711.77 55.68 L712.20 55.93 L712.64 56.19 L713.07 56.44 L713.50 56.70 L713.93 56.96 L714.36 57.22 L714.79 57.48 L715.22 57.75 L715.64 58.01 L716.07 58.28 L716.50 58.54 L716.92 58.81 L717.34 59.08 L717.77 59.35 L718.19 59.62 L718.61 59.89 L719.03 60.17 L719.45 60.44 L719.87 60.72 L720.29 61.00 L720.71 61.28 L721.13 61.56 L721.54 61.84 L721.96 62.12 L722.37 62.41 L722.79 62.69 L723.20 62.98 L723.61 63.27 L724.02 63.56 L724.43 63.85 L724.84 64.14 L725.25 64.43 L725.66 64.72 L726.07 65.02 L726.47 65.31 L726.88 65.61 L727.28 65.91 L727.69 66.21 L728.09 66.51 L728.49 66.81 L728.89 67.12 L729.29 67.42 L729.69 67.73 L730.09 68.03 L730.49 68.34 L730.88 68.65 L731.28 68.96 L731.67 69.27 L732.07 69.59 L732.46 69.90 L732.85 70.22 L733.24 70.53 L733.63 70.85 L734.02 71.17 L734.41 71.49 L734.80 71.81 L735.18 72.13 L735.57 72.45 L735.95 72.78 L736.34 73.10 L736.72 73.43 L737.10 73.76 L737.48 74.09 L737.86 74.42 L738.24 74.75 L738.61 75.08 L738.99 75.42 L739.37 75.75 L739.74 76.09 L740.11 76.42 L740.49 76.76 L740.86 77.10 L741.23 77.44 L741.60 77.78 L741.97 78.12 L742.33 78.47 L742.70 78.81 L743.07 79.16 L743.43 79.50 L743.79 79.85 L744.16 80.20 L744.52 80.55 L744.88 80.90 L745.24 81.25 L745.59 81.61 L745.95 81.96 L746.31 82.32 L746.66 82.67 L747.02 83.03 L747.37 83.39 L747.72 83.75 L748.07 84.11 L748.42 84.47 L748.77 84.83 L749.12 85.20 L749.46 85.56 L749.81 85.93 L750.15 86.29 L750.50 86.66 L750.84 87.03 L751.18 87.40 L751.52 87.77 L751.86 88.14 L752.19 88.52 L752.53 88.89 L752.87 89.26 L753.20 89.64 L753.53 90.02 L753.87 90.39 L754.20 90.77 L754.53 91.15 L754.85 91.53 L755.18 91.92 L755.51 92.30 L755.83 92.68 L756.16 93.07 L756.48 93.45 L756.80 93.84 L757.12 94.23 L757.44 94.61 L757.76 95.00 L758.08 95.39 L758.39 95.78 L758.71 96.18 L759.02 96.57 L759.33 96.96 L759.65 97.36 L759.96 97.75 L760.26 98.15 L760.57 98.55 L760.88 98.95 L761.18 99.35 L761.49 99.75 L761.79 100.15 L762.09 100.55 L762.39 100.95 L762.69 101.36 L762.99 101.76 L763.29 102.17 L763.58 102.57 L763.88 102.98 L764.17 103.39 L764.46 103.80 L764.76 104.21 L765.05 104.62 L765.33 105.03 L765.62 105.44 L765.91 105.86 L766.19 106.27 L766.48 106.69 L766.76 107.10 L767.04 107.52 L767.32 107.94 L767.60 108.35 L767.88 108.77 L768.15 109.19 L768.43 109.61 L768.70 110.03 L768.97 110.46 L769.24 110.88 L769.51 111.30 L769.78 111.73 L770.05 112.15 L770.32 112.58 L770.58 113.01 L770.85 113.43 L771.11 113.86 L771.37 114.29 L771.63 114.72 L771.89 115.15 L772.14 115.58 L772.40 116.02 L772.66 116.45 L772.91 116.88 L773.16 117.32 L773.41 117.75 L773.66 118.19 L773.91 118.62 L774.16 119.06 L774.40 119.50 L774.65 119.94 L774.89 120.38 L775.13 120.82 L775.38 121.26 L775.62 121.70 L775.85 122.14 L776.09 122.58 L776.33 123.03 L776.56 123.47 L776.79 123.92 L777.03 124.36 L777.26 124.81 L777.48 125.25 L777.71 125.70 L777.94 126.15 L778.16 126.60 L778.39 127.05 L778.61 127.50 L778.83 127.95 L779.05 128.40 L779.27 128.85 L779.49 129.30 L779.70 129.76 L779.92 130.21 L780.13 130.66 L780.35 131.12 L780.56 131.57 L780.77 132.03 L780.97 132.49 L781.18 132.94 L781.39 133.40 L781.59 133.86 L781.79 134.32 L782.00 134.78 L782.20 135.24 L782.39 135.70 L782.59 136.16 L782.79 136.62 L782.98 137.08 L783.18 137.55 L783.37 138.01 L783.56 138.47 L783.75 138.94 L783.94 139.40 L784.13 139.87 L784.31 140.33 L784.50 140.80 L784.68 141.27 L784.86 141.73 L785.04 142.20 L785.22 142.67 L785.40 143.14 L785.57 143.61 L785.75 144.08 L785.92 144.55 L786.10 145.02 L786.27 145.49 L786.44 145.96 L786.60 146.44 L786.77 146.91 L786.94 147.38 L787.10 147.85 L787.26 148.33 L787.43 148.80 L787.59 149.28 L787.75 149.75 L787.90 150.23 L788.06 150.71 L788.21 151.18 L788.37 151.66 L788.52 152.14 L788.67 152.61 L788.82 153.09 L788.97 153.57 L789.12 154.05 L789.26 154.53 L789.41 155.01 L789.55 155.49 L789.69 155.97 L789.83 156.45 L789.97 156.93 L790.11 157.41 L790.24 157.90 L790.38 158.38 L790.51 158.86 L790.64 159.35 L790.77 159.83 L790.90 160.31 L791.03 160.80 L791.16 161.28 L791.28 161.77 L791.41 162.25 L791.53 162.74 L791.65 163.22 L791.77 163.71 L791.89 164.20 L792.00 164.68 L792.12 165.17 L792.24 165.66 L792.35 166.15 L792.46 166.63 L792.57 167.12 L792.68 167.61 L792.79 168.10 L792.89 168.59 L793.00 169.08 L793.10 169.57 L793.20 170.06 L793.30 170.55 L793.40 171.04 L793.50 171.53 L793.60 172.02 L793.69 172.51 L793.79 173.00 L793.88 173.50 L793.97 173.99 L794.06 174.48 L794.15 174.97 L794.24 175.47 L794.32 175.96 L794.41 176.45 L794.49 176.95 L794.57 177.44 L794.65 177.93 L794.73 178.43 L794.81 178.92 L794.89 179.42 L794.96 179.91 L795.04 180.41 L795.11 180.90 L795.18 181.40 L795.25 181.89 L795.32 182.39 L795.38 182.88 L795.45 183.38 L795.51 183.88 L795.58 184.37 L795.64 184.87 L795.70 185.36 L795.76 185.86 L795.82 186.36 L795.87 186.86 L795.93 187.35 L795.98 187.85 L796.03 188.35 L796.08 188.85 L796.13 189.34 L796.18 189.84 L796.23 190.34 L796.27 190.84 L796.31 191.34 L796.36 191.83 L796.40 192.33 L796.44 192.83 L796.48 193.33 L796.51 193.83 L796.55 194.33 L796.58 194.83 L796.62 195.33 L796.65 195.82 L796.68 196.32 L796.71 196.82 L796.73 197.32 L796.76 197.82 L796.79 198.32 L796.81 198.82 L796.83 199.32 L796.85 199.82 L796.87 200.32 L796.89 200.82 L796.91 201.32 L796.92 201.82 L796.94 202.32 L796.95 202.82 L796.96 203.32 L796.97 203.82 L796.98 204.32 L796.98 204.82 L796.99 205.32 L796.99 205.82 L797.00 206.32 L797.00 206.82 L797.00 207.32 L797.00 207.82 L797.00 208.32 L796.99 208.82 L796.99 209.32 L796.98 209.82 L796.97 210.32 L796.97 210.82 L796.96 211.32 L796.94 211.82 L796.93 212.32 L796.92 212.82 L796.90 213.32 L796.89 213.82 L796.87 214.32 L796.85 214.82 L796.83 215.32 L796.81 215.82 L796.78 216.32 L796.76 216.82 L796.73 217.32 L796.71 217.82 L796.68 218.32 L796.65 218.82 L796.62 219.32 L796.59 219.81 L796.55 220.31 L796.52 220.81 L796.48 221.31 L796.45 221.81 L796.41 222.31 L796.37 222.81 L796.33 223.31 L796.28 223.81 L796.24 224.30 L796.20 224.80 L796.15 225.30 L796.10 225.80 L796.05 226.30 L796.00 226.79 L795.95 227.29 L795.90 227.79 L795.84 228.29 L795.79 228.78 L795.73 229.28 L795.67 229.78 L795.61 230.28 L795.55 230.77 L795.49 231.27 L795.43 231.77 L795.36 232.26 L795.30 232.76 L795.23 233.25 L795.16 233.75 L795.09 234.25 L795.02 234.74 L794.95 235.24 L794.88 235.73 L794.80 236.23 L794.72 236.72 L794.65 237.22 L794.57 237.71 L794.49 238.21 L794.41 238.70 L794.32 239.19 L794.24 239.69 L794.15 240.18 L794.07 240.67 L793.98 241.17 L793.89 241.66 L793.80 242.15 L793.71 242.65 L793.61 243.14 L793.52 243.63 L793.42 244.12 L793.32 244.61 L793.22 245.11 L793.12 245.60 L793.02 246.09 L792.92 246.58 L792.82 247.07 L792.71 247.56 L792.60 248.05 L792.50 248.54 L792.39 249.03 L792.28 249.52 L792.16 250.00 L792.05 250.49 L791.94 250.98 L791.82 251.47 L791.70 251.96 L791.58 252.44 L791.46 252.93 L791.34 253.42 L791.22 253.90 L791.10 254.39 L790.97 254.88 L790.84 255.36 L790.72 255.85 L790.59 256.33 L790.46 256.82 L790.32 257.30 L790.19 257.78 L790.06 258.27 L789.92 258.75 L789.78 259.23 L789.65 259.72 L789.51 260.20 L789.36 260.68 L789.22 261.16 L789.08 261.64 L788.93 262.12 L788.79 262.60 L788.64 263.08 L788.49 263.56 L788.34 264.04 L788.18 264.52 L788.03 265.00 L787.88 265.48 L787.72 265.96 L787.56 266.43 L787.40 266.91 L787.24 267.39 L787.08 267.86 L786.92 268.34 L786.76 268.81 L786.59 269.29 L786.42 269.76 L786.26 270.24 L786.09 270.71 L785.92 271.18 L785.74 271.65 L785.57 272.13 L785.39 272.60 L785.22 273.07 L785.04 273.54 L784.86 274.01 L784.68 274.48 L784.50 274.95 L784.32 275.42 L784.13 275.88 L783.95 276.35 L783.76 276.82 L783.57 277.29 L783.38 277.75 L783.19 278.22 L783.00 278.68 L782.80 279.15 L782.61 279.61 L782.41 280.08 L782.21 280.54 L782.02 281.00 L781.82 281.46 L781.61 281.92 L781.41 282.38 L781.21 282.84 L781.00 283.30 L780.79 283.76 L780.58 284.22 L780.37 284.68 L780.16 285.14 L779.95 285.59 L779.74 286.05 L779.52 286.51 L779.30 286.96 L779.09 287.41 L778.87 287.87 L778.65 288.32 L778.42 288.77 L778.20 289.23 L777.98 289.68 L777.75 290.13 L777.52 290.58 L777.29 291.03 L777.06 291.48 L776.83 291.92 L776.60 292.37 L776.37 292.82 L776.13 293.26 L775.89 293.71 L775.66 294.15 L775.42 294.60 L775.18 295.04 L774.93 295.48 L774.69 295.93 L774.45 296.37 L774.20 296.81 L773.95 297.25 L773.70 297.69 L773.45 298.12 L773.20 298.56 L772.95 299.00 L772.70 299.43 L772.44 299.87 L772.18 300.30 L771.93 300.74 L771.67 301.17 L771.41 301.60 L771.14 302.04 L770.88 302.47 L770.62 302.90 L770.35 303.33 L770.08 303.75 L769.82 304.18 L769.55 304.61 L769.28 305.04 L769.00 305.46 L768.73 305.88 L768.45 306.31 L768.18 306.73 L767.90 307.15 L767.62 307.57 L767.34 308.00 L767.06 308.41 L766.78 308.83 L766.49 309.25 L766.21 309.67 L765.92 310.08 L765.63 310.50 L765.35 310.91 L765.06 311.33 L764.76 311.74 L764.47 312.15 L764.18 312.56 L763.88 312.97 L763.59 313.38 L763.29 313.79 L762.99 314.20 L762.69 314.60 L762.39 315.01 L762.08 315.41 L761.78 315.82 L761.47 316.22 L761.17 316.62 L760.86 317.02 L760.55 317.42 L760.24 317.82 L759.93 318.22 L759.62 318.62 L759.30 319.01 L758.99 319.41 L758.67 319.80 L758.35 320.20 L758.03 320.59 L757.71 320.98 L757.39 321.37 L757.07 321.76 L756.74 322.15 L756.42 322.54 L756.09 322.92 L755.77 323.31 L755.44 323.69 L755.11 324.08 L754.78 324.46 L754.44 324.84 L754.11 325.22 L753.78 325.60 L753.44 325.98 L753.10 326.35 L752.77 326.73 L752.43 327.11 L752.09 327.48 L751.74 327.85 L751.40 328.22 L751.06 328.60 L750.71 328.97 L750.37 329.33 L750.02 329.70 L749.67 330.07 L749.32 330.43 L748.97 330.80 L748.62 331.16 L748.27 331.52 L747.91 331.89 L747.56 332.25 L747.20 332.60 L746.84 332.96 L746.48 333.32 L746.13 333.67 L745.76 334.03 L745.40 334.38 L745.04 334.73 L744.68 335.09 L744.31 335.44 L743.94 335.78 L743.58 336.13 L743.21 336.48 L742.84 336.82 L742.47 337.17 L742.10 337.51 L741.72 337.85 L741.35 338.19 L740.98 338.53 L740.60 338.87 L740.22 339.21 L739.85 339.55 L739.47 339.88 L739.09 340.22 L738.71 340.55 L738.32 340.88 L737.94 341.21 L737.56 341.54 L737.17 341.87 L736.79 342.19 L736.40 342.52 L736.01 342.84 L735.62 343.17 L735.23 343.49 L734.84 343.81 L734.45 344.13 L734.06 344.45 L733.66 344.76 L733.27 345.08 L732.87 345.39 L732.48 345.71 L732.08 346.02 L731.68 346.33 L731.28 346.64 L730.88 346.95 L730.48 347.25 L730.07 347.56 L729.67 347.87 L729.27 348.17 L728.86 348.47 L728.46 348.77 L728.05 349.07 L727.64 349.37 L727.23 349.67 L726.82 349.96 L726.41 350.26 L726.00 350.55 L725.59 350.84 L725.17 351.13 L724.76 351.42 L724.35 351.71 L723.93 352.00 L723.51 352.28 L723.10 352.57 L722.68 352.85 L722.26 353.13 L721.84 353.41 L721.42 353.69 L721.00 353.97 L720.57 354.25 L720.15 354.52 L719.73 354.80 L719.30 355.07 L718.87 355.34 L718.45 355.61 L718.02 355.88 L717.59 356.15 L717.16 356.41 L716.73 356.68 L716.30 356.94 L715.87 357.20 L715.44 357.47 L715.01 357.73 L714.57 357.98 L714.14 358.24 L713.70 358.50 L713.27 358.75 L712.83 359.00 L712.39 359.26 L711.96 359.51 L711.52 359.76 L711.08 360.00 L710.64 360.25 L710.20 360.50 L709.76 360.74 L709.31 360.98 L708.87 361.22 L708.43 361.46 L707.98 361.70 L707.54 361.94 L707.09 362.17 L706.64 362.41 L706.20 362.64 L705.75 362.87 L705.30 363.11 L704.85 363.33 L704.40 363.56 L703.95 363.79 L703.50 364.01 L703.05 364.24 L702.60 364.46 L702.14 364.68 L701.69 364.90 L701.24 365.12 L700.78 365.34 L700.33 365.55 L699.87 365.77 L699.41 365.98 L698.96 366.19 L698.50 366.40 L698.04 366.61 L697.58 366.82 L697.12 367.03 L696.66 367.23 L696.20 367.43 L695.74 367.64 L695.28 367.84 L694.82 368.04 L694.36 368.24 L693.89 368.43 L693.43 368.63 L692.96 368.82 L692.50 369.02 L692.03 369.21 L691.57 369.40 L691.10 369.59 L690.63 369.77 L690.17 369.96 L689.70 370.15 L689.23 370.33 L688.76 370.51 L688.29 370.69 L687.82 370.87 L687.35 371.05 L686.88 371.23 L686.41 371.40 L685.94 371.58 L685.47 371.75 L684.99 371.92 L684.52 372.09 L684.05 372.26 L683.57 372.43 L683.10 372.59 L682.62 372.76 L682.15 372.92 L681.67 373.08 L681.19 373.24 L680.72 373.40 L680.24 373.56 L679.76 373.72 L679.29 373.87 L678.81 374.03 L678.33 374.18 L677.85 374.33 L677.37 374.48 L676.89 374.63 L676.41 374.78 L675.93 374.92 L675.45 375.07 L674.97 375.21 L674.49 375.35 L674.00 375.49 L673.52 375.63 L673.04 375.77 L672.56 375.90 L672.07 376.04 L671.59 376.17 L671.10 376.31 L670.62 376.44 L670.14 376.57 L669.65 376.70 L669.17 376.82 L668.68 376.95 L668.19 377.07 L667.71 377.20 L667.22 377.32 L666.73 377.44 L666.25 377.56 L665.76 377.68 L665.27 377.79 L664.78 377.91 L664.29 378.02 L663.81 378.13 L663.32 378.24 L662.83 378.35 L662.34 378.46 L661.85 378.57 L661.36 378.68 L660.87 378.78 L660.38 378.88 L659.89 378.99 L659.40 379.09 L658.90 379.19 L658.41 379.28 L657.92 379.38 L657.43 379.48 L656.94 379.57 L656.44 379.66 L655.95 379.75 L655.46 379.84 L654.97 379.93 L654.47 380.02 L653.98 380.11 L653.49 380.19 L652.99 380.27 L652.50 380.36 L652.00 380.44 L651.51 380.52 L651.01 380.59 L650.52 380.67 L650.02 380.75 L649.53 380.82 L649.03 380.89 L648.54 380.97 L648.04 381.04 L647.55 381.10 L647.05 381.17 L646.55 381.24 L646.06 381.30 L645.56 381.37 L645.07 381.43 L644.57 381.49 L644.07 381.55 L643.57 381.61 L643.08 381.67 L642.58 381.72 L642.08 381.78 L641.58 381.83 L641.09 381.88 L640.59 381.93 L640.09 381.98 L639.59 382.03 L639.10 382.08 L638.60 382.12 L638.10 382.17 L637.60 382.21 L637.10 382.25 L636.60 382.29 L636.10 382.33 L635.61 382.37 L635.11 382.41 L634.61 382.44 L634.11 382.47 L633.61 382.51 L633.11 382.54 L632.61 382.57 L632.11 382.60 L631.61 382.62 L631.11 382.65 L630.61 382.68 L630.11 382.70 L629.61 382.72 L629.11 382.74 L628.61 382.76 L628.11 382.78 L627.61 382.80 L627.11 382.81 L626.61 382.83 L626.11 382.84 L625.61 382.85 L625.11 382.86 L624.61 382.87 L624.11 382.88 L623.61 382.89 L623.11 382.89 L622.61 382.90 L622.11 382.90 L621.61 382.90 L621.11 382.90 L620.61 382.90 L620.11 382.90 L619.61 382.89 L619.11 382.89 L618.61 382.88 L618.11 382.87 L617.61 382.86 L617.11 382.85 L616.61 382.84 L616.11 382.82 L615.61 382.81 L615.11 382.79 L614.61 382.77 L614.11 382.75 L613.61 382.73 L613.12 382.71 L612.62 382.69 L612.12 382.66 L611.62 382.63 L611.12 382.60 L610.62 382.58 L610.12 382.54 L609.62 382.51 L609.12 382.48 L608.62 382.44 L608.12 382.41 L607.63 382.37 L607.13 382.33 L606.63 382.29 L606.13 382.24 L605.63 382.20 L605.13 382.15 L604.64 382.11 L604.14 382.06 L603.64 382.01 L603.14 381.96 L602.65 381.91 L602.15 381.85 L601.65 381.80 L601.15 381.74 L600.66 381.68 L600.16 381.62 L599.66 381.56 L599.17 381.50 L598.67 381.44 L598.18 381.37 L597.68 381.31 L597.19 381.24 L596.69 381.17 L596.20 381.10 L595.70 381.03 L595.21 380.95 L594.71 380.88 L594.22 380.80 L593.72 380.72 L593.23 380.64 L592.74 380.56 L592.24 380.48 L591.75 380.40 L591.26 380.31 L590.76 380.23 L590.27 380.14 L589.78 380.05 L589.29 379.96 L588.80 379.87 L588.30 379.77 L587.81 379.68 L587.32 379.58 L586.83 379.49 L586.34 379.39 L585.85 379.29 L585.36 379.19 L584.87 379.08 L584.38 378.98 L583.90 378.87 L583.41 378.77 L582.92 378.66 L582.43 378.55 L581.94 378.44 L581.46 378.32 L580.97 378.21 L580.48 378.09 L580.00 377.98 L579.51 377.86 L579.02 377.74 L578.54 377.62 L578.05 377.49 L577.57 377.37 L577.09 377.25 L576.60 377.12 L576.12 376.99 L575.64 376.86 L575.15 376.73 L574.67 376.60 L574.19 376.47 L573.71 376.33 L573.23 376.20 L572.74 376.06 L572.26 375.92 L571.78 375.78 L571.30 375.64 L570.83 375.49 L570.35 375.35 L569.87 375.20 L569.39 375.06 L568.91 374.91 L568.44 374.76 L567.96 374.61 L567.48 374.45 L567.01 374.30 L566.53 374.15 L566.06 373.99 L565.58 373.83 L565.11 373.67 L564.63 373.51 L564.16 373.35 L563.69 373.19 L563.22 373.02 L562.74 372.86 L562.27 372.69 L561.80 372.52 L561.33 372.35 L560.86 372.18 L560.39 372.01 L559.92 371.83 L559.46 371.66 L558.99 371.48 L558.52 371.30 L558.05 371.12 L557.59 370.94 L557.12 370.76 L556.66 370.58 L556.19 370.39 L555.73 370.21 L555.26 370.02 L554.80 369.83 L554.34 369.64 L553.88 369.45 L553.41 369.26 L552.95 369.06 L552.49 368.87 L552.03 368.67 L551.57 368.47 L551.11 368.27 L550.66 368.07 L550.20 367.87 L549.74 367.67 L549.29 367.46 L548.83 367.26 L548.37 367.05 L547.92 366.84 L547.47 366.63 L547.01 366.42 L546.56 366.21 L546.11 366.00 L545.66 365.78 L545.20 365.57 L544.75 365.35 L544.30 365.13 L543.85 364.91 L543.41 364.69 L542.96 364.47 L542.51 364.24 L542.06 364.02 L541.62 363.79 L541.17 363.57 L540.73 363.34 L540.28 363.11 L539.84 362.88 L539.40 362.64 L538.96 362.41 L538.51 362.17 L538.07 361.94 L537.63 361.70 L537.19 361.46 L536.75 361.22 L536.32 360.98 L535.88 360.74 L535.44 360.49 L535.01 360.25 L534.57 360.00 L534.14 359.76 L533.70 359.51 L533.27 359.26 L532.84 359.01 L532.41 358.75 L531.97 358.50 L531.54 358.24 L531.11 357.99 L530.69 357.73 L530.26 357.47 L529.83 357.21 L529.40 356.95 L528.98 356.69 L528.55 356.43 L528.13 356.16 L527.71 355.90 L527.28 355.63 L526.86 355.36 L526.44 355.09 L526.02 354.82 L525.60 354.55 L525.18 354.28 L524.76 354.00 L524.34 353.73 L523.93 353.45 L523.51 353.17 L523.10 352.89 L522.68 352.61 L522.27 352.33 L521.86 352.05 L521.44 351.77 L521.03 351.48 L520.62 351.19 L520.21 350.91 L519.80 350.62 L519.40 350.33 L518.99 350.04 L518.58 349.75 L518.18 349.45 L517.77 349.16 L517.37 348.87 L516.97 348.57 L516.57 348.27 L516.16 347.97 L515.76 347.67 L515.36 347.37 L514.97 347.07 L514.57 346.77 L514.17 346.46 L513.78 346.16 L513.38 345.85 L512.99 345.54 L512.59 345.23 L512.20 344.92 L511.81 344.61 L511.42 344.30 L511.03 343.99 L510.64 343.67 L510.25 343.36 L509.86 343.04 L509.48 342.72 L509.09 342.40 L508.71 342.08 L508.33 341.76 L507.94 341.44 L507.56 341.12 L507.18 340.79 L506.80 340.47 L506.42 340.14 L506.04 339.81 L505.67 339.49 L505.29 339.16 L504.92 338.82 L504.54 338.49 L504.17 338.16 L503.80 337.83 L503.42 337.49 L503.05 337.16 L502.68 336.82 L502.32 336.48 L501.95 336.14 L501.58 335.80 L501.22 335.46 L500.85 335.12 L500.49 334.77 L500.13 334.43 L499.76 334.08 L499.40 333.74 L499.04 333.39 L498.69 333.04 L498.33 332.69 L497.97 332.34 L538.34 291.54 L538.70 291.89 L539.06 292.24 L539.42 292.59 L539.78 292.93 L540.15 293.27 L540.51 293.62 L540.88 293.96 L541.24 294.30 L541.61 294.63 L541.98 294.97 L542.35 295.31 L542.73 295.64 L543.10 295.97 L543.48 296.30 L543.86 296.63 L544.23 296.95 L544.61 297.28 L545.00 297.60 L545.38 297.92 L545.76 298.24 L546.15 298.56 L546.54 298.88 L546.92 299.20 L547.31 299.51 L547.70 299.82 L548.10 300.13 L548.49 300.44 L548.89 300.75 L549.28 301.05 L549.68 301.36 L550.08 301.66 L550.48 301.96 L550.88 302.26 L551.28 302.55 L551.69 302.85 L552.09 303.14 L552.50 303.43 L552.90 303.72 L553.31 304.01 L553.72 304.30 L554.13 304.58 L554.55 304.87 L554.96 305.15 L555.37 305.43 L555.79 305.71 L556.21 305.98 L556.63 306.26 L557.05 306.53 L557.47 306.80 L557.89 307.07 L558.31 307.34 L558.73 307.60 L559.16 307.86 L559.59 308.13 L560.01 308.39 L560.44 308.64 L560.87 308.90 L561.30 309.16 L561.73 309.41 L562.17 309.66 L562.60 309.91 L563.03 310.16 L563.47 310.40 L563.91 310.64 L564.34 310.89 L564.78 311.13 L565.22 311.36 L565.66 311.60 L566.11 311.84 L566.55 312.07 L566.99 312.30 L567.44 312.53 L567.88 312.75 L568.33 312.98 L568.78 313.20 L569.23 313.42 L569.68 313.64 L570.13 313.86 L570.58 314.07 L571.03 314.29 L571.48 314.50 L571.94 314.71 L572.39 314.92 L572.85 315.12 L573.30 315.33 L573.76 315.53 L574.22 315.73 L574.68 315.93 L575.14 316.12 L575.60 316.32 L576.06 316.51 L576.53 316.70 L576.99 316.89 L577.45 317.07 L577.92 317.26 L578.38 317.44 L578.85 317.62 L579.32 317.80 L579.79 317.98 L580.25 318.15 L580.72 318.32 L581.19 318.49 L581.66 318.66 L582.14 318.83 L582.61 318.99 L583.08 319.16 L583.56 319.32 L584.03 319.48 L584.50 319.63 L584.98 319.79 L585.46 319.94 L585.93 320.09 L586.41 320.24 L586.89 320.38 L587.37 320.53 L587.85 320.67 L588.33 320.81 L588.81 320.95 L589.29 321.09 L589.77 321.22 L590.25 321.35 L590.74 321.48 L591.22 321.61 L591.70 321.74 L592.19 321.86 L592.67 321.98 L593.16 322.10 L593.65 322.22 L594.13 322.34 L594.62 322.45 L595.11 322.56 L595.59 322.67 L596.08 322.78 L596.57 322.89 L597.06 322.99 L597.55 323.09 L598.04 323.19 L598.53 323.29 L599.02 323.38 L599.51 323.48 L600.01 323.57 L600.50 323.66 L600.99 323.74 L601.48 323.83 L601.98 323.91 L602.47 323.99 L602.96 324.07 L603.46 324.15 L603.95 324.22 L604.45 324.29 L604.94 324.36 L605.44 324.43 L605.93 324.50 L606.43 324.56 L606.93 324.62 L607.42 324.68 L607.92 324.74 L608.42 324.80 L608.91 324.85 L609.41 324.90 L609.91 324.95 L610.41 325.00 L610.91 325.04 L611.40 325.09 L611.90 325.13 L612.40 325.16 L612.90 325.20 L613.40 325.24 L613.90 325.27 L614.40 325.30 L614.90 325.33 L615.40 325.35 L615.90 325.38 L616.40 325.40 L616.90 325.42 L617.40 325.44 L617.90 325.45 L618.40 325.46 L618.90 325.48 L619.40 325.48 L619.90 325.49 L620.40 325.50 L620.90 325.50 L621.40 325.50 L621.90 325.50 L622.40 325.49 L622.90 325.49 L623.40 325.48 L623.90 325.47 L624.40 325.46 L624.90 325.45 L625.40 325.43 L625.90 325.41 L626.40 325.39 L626.90 325.37 L627.40 325.34 L627.90 325.32 L628.39 325.29 L628.89 325.26 L629.39 325.22 L629.89 325.19 L630.39 325.15 L630.89 325.11 L631.39 325.07 L631.89 325.03 L632.38 324.98 L632.88 324.93 L633.38 324.88 L633.88 324.83 L634.37 324.78 L634.87 324.72 L635.37 324.66 L635.86 324.60 L636.36 324.54 L636.86 324.47 L637.35 324.41 L637.85 324.34 L638.34 324.27 L638.84 324.19 L639.33 324.12 L639.83 324.04 L640.32 323.96 L640.81 323.88 L641.31 323.80 L641.80 323.71 L642.29 323.62 L642.78 323.53 L643.28 323.44 L643.77 323.35 L644.26 323.25 L644.75 323.15 L645.24 323.05 L645.73 322.95 L646.22 322.85 L646.71 322.74 L647.19 322.63 L647.68 322.52 L648.17 322.41 L648.66 322.29 L649.14 322.18 L649.63 322.06 L650.11 321.94 L650.60 321.81 L651.08 321.69 L651.57 321.56 L652.05 321.43 L652.53 321.30 L653.01 321.17 L653.50 321.03 L653.98 320.90 L654.46 320.76 L654.94 320.62 L655.42 320.47 L655.89 320.33 L656.37 320.18 L656.85 320.03 L657.33 319.88 L657.80 319.73 L658.28 319.57 L658.75 319.41 L659.23 319.26 L659.70 319.09 L660.17 318.93 L660.65 318.77 L661.12 318.60 L661.59 318.43 L662.06 318.26 L662.53 318.08 L662.99 317.91 L663.46 317.73 L663.93 317.55 L664.40 317.37 L664.86 317.19 L665.33 317.00 L665.79 316.82 L666.25 316.63 L666.71 316.44 L667.18 316.24 L667.64 316.05 L668.10 315.85 L668.56 315.65 L669.01 315.45 L669.47 315.25 L669.93 315.04 L670.38 314.84 L670.84 314.63 L671.29 314.42 L671.74 314.21 L672.20 313.99 L672.65 313.78 L673.10 313.56 L673.55 313.34 L673.99 313.12 L674.44 312.89 L674.89 312.67 L675.33 312.44 L675.78 312.21 L676.22 311.98 L676.66 311.75 L677.11 311.51 L677.55 311.27 L677.99 311.03 L678.42 310.79 L678.86 310.55 L679.30 310.31 L679.73 310.06 L680.17 309.81 L680.60 309.56 L681.03 309.31 L681.47 309.06 L681.90 308.80 L682.32 308.55 L682.75 308.29 L683.18 308.03 L683.60 307.76 L684.03 307.50 L684.45 307.23 L684.88 306.97 L685.30 306.70 L685.72 306.42 L686.14 306.15 L686.55 305.88 L686.97 305.60 L687.39 305.32 L687.80 305.04 L688.21 304.76 L688.62 304.47 L689.04 304.19 L689.44 303.90 L689.85 303.61 L690.26 303.32 L690.67 303.03 L691.07 302.74 L691.47 302.44 L691.88 302.14 L692.28 301.84 L692.68 301.54 L693.07 301.24 L693.47 300.93 L693.87 300.63 L694.26 300.32 L694.65 300.01 L695.05 299.70 L695.44 299.39 L695.83 299.07 L696.21 298.76 L696.60 298.44 L696.98 298.12 L697.37 297.80 L697.75 297.48 L698.13 297.15 L698.51 296.83 L698.89 296.50 L699.27 296.17 L699.64 295.84 L700.02 295.51 L700.39 295.18 L700.76 294.84 L701.13 294.50 L701.50 294.17 L701.87 293.83 L702.23 293.49 L702.59 293.14 L702.96 292.80 L703.32 292.45 L703.68 292.10 L704.04 291.76 L704.39 291.40 L704.75 291.05 L705.10 290.70 L705.45 290.34 L705.81 289.99 L706.15 289.63 L706.50 289.27 L706.85 288.91 L707.19 288.55 L707.54 288.18 L707.88 287.82 L708.22 287.45 L708.56 287.08 L708.89 286.71 L709.23 286.34 L709.56 285.97 L709.90 285.60 L710.23 285.22 L710.55 284.84 L710.88 284.47 L711.21 284.09 L711.53 283.70 L711.86 283.32 L712.18 282.94 L712.50 282.55 L712.81 282.17 L713.13 281.78 L713.44 281.39 L713.76 281.00 L714.07 280.61 L714.38 280.22 L714.69 279.82 L714.99 279.43 L715.30 279.03 L715.60 278.63 L715.90 278.23 L716.20 277.83 L716.50 277.43 L716.79 277.03 L717.09 276.62 L717.38 276.22 L717.67 275.81 L717.96 275.40 L718.25 274.99 L718.53 274.58 L718.82 274.17 L719.10 273.76 L719.38 273.34 L719.66 272.93 L719.94 272.51 L720.21 272.09 L720.49 271.68 L720.76 271.26 L721.03 270.84 L721.30 270.41 L721.56 269.99 L721.83 269.57 L722.09 269.14 L722.35 268.71 L722.61 268.29 L722.87 267.86 L723.12 267.43 L723.38 267.00 L723.63 266.56 L723.88 266.13 L724.13 265.70 L724.37 265.26 L724.62 264.82 L724.86 264.39 L725.10 263.95 L725.34 263.51 L725.58 263.07 L725.81 262.63 L726.05 262.19 L726.28 261.74 L726.51 261.30 L726.73 260.85 L726.96 260.41 L727.18 259.96 L727.41 259.51 L727.63 259.06 L727.84 258.61 L728.06 258.16 L728.28 257.71 L728.49 257.26 L728.70 256.80 L728.91 256.35 L729.11 255.89 L729.32 255.44 L729.52 254.98 L729.72 254.52 L729.92 254.06 L730.12 253.60 L730.31 253.14 L730.51 252.68 L730.70 252.22 L730.89 251.76 L731.08 251.29 L731.26 250.83 L731.45 250.36 L731.63 249.90 L731.81 249.43 L731.98 248.96 L732.16 248.49 L732.33 248.02 L732.50 247.55 L732.67 247.08 L732.84 246.61 L733.01 246.14 L733.17 245.67 L733.33 245.19 L733.49 244.72 L733.65 244.25 L733.81 243.77 L733.96 243.29 L734.11 242.82 L734.26 242.34 L734.41 241.86 L734.55 241.38 L734.70 240.91 L734.84 240.43 L734.98 239.95 L735.12 239.46 L735.25 238.98 L735.38 238.50 L735.52 238.02 L735.64 237.53 L735.77 237.05 L735.90 236.57 L736.02 236.08 L736.14 235.60 L736.26 235.11 L736.38 234.62 L736.49 234.14 L736.61 233.65 L736.72 233.16 L736.82 232.67 L736.93 232.19 L737.04 231.70 L737.14 231.21 L737.24 230.72 L737.34 230.23 L737.43 229.74 L737.53 229.25 L737.62 228.75 L737.71 228.26 L737.80 227.77 L737.88 227.28 L737.97 226.78 L738.05 226.29 L738.13 225.80 L738.21 225.30 L738.28 224.81 L738.36 224.31 L738.43 223.82 L738.50 223.32 L738.56 222.83 L738.63 222.33 L738.69 221.83 L738.75 221.34 L738.81 220.84 L738.87 220.34 L738.92 219.85 L738.97 219.35 L739.02 218.85 L739.07 218.35 L739.12 217.86 L739.16 217.36 L739.20 216.86 L739.24 216.36 L739.28 215.86 L739.32 215.36 L739.35 214.86 L739.38 214.37 L739.41 213.87 L739.44 213.37 L739.46 212.87 L739.49 212.37 L739.51 211.87 L739.53 211.37 L739.54 210.87 L739.56 210.37 L739.57 209.87 L739.58 209.37 L739.59 208.87 L739.59 208.37 L739.60 207.87 L739.60 207.37 L739.60 206.87 L739.60 206.37 L739.59 205.87 L739.59 205.37 L739.58 204.87 L739.57 204.37 L739.55 203.87 L739.54 203.37 L739.52 202.87 L739.50 202.37 L739.48 201.87 L739.46 201.37 L739.43 200.87 L739.40 200.37 L739.37 199.87 L739.34 199.37 L739.31 198.87 L739.27 198.37 L739.23 197.87 L739.19 197.38 L739.15 196.88 L739.10 196.38 L739.06 195.88 L739.01 195.38 L738.96 194.89 L738.90 194.39 L738.85 193.89 L738.79 193.39 L738.73 192.90 L738.67 192.40 L738.61 191.91 L738.54 191.41 L738.47 190.91 L738.40 190.42 L738.33 189.92 L738.26 189.43 L738.18 188.93 L738.10 188.44 L738.02 187.95 L737.94 187.45 L737.86 186.96 L737.77 186.47 L737.68 185.98 L737.59 185.48 L737.50 184.99 L737.40 184.50 L737.30 184.01 L737.21 183.52 L737.10 183.03 L737.00 182.54 L736.90 182.05 L736.79 181.56 L736.68 181.08 L736.57 180.59 L736.45 180.10 L736.34 179.61 L736.22 179.13 L736.10 178.64 L735.98 178.16 L735.86 177.67 L735.73 177.19 L735.60 176.71 L735.47 176.22 L735.34 175.74 L735.21 175.26 L735.07 174.78 L734.93 174.30 L734.79 173.82 L734.65 173.34 L734.51 172.86 L734.36 172.38 L734.21 171.90 L734.06 171.42 L733.91 170.95 L733.75 170.47 L733.60 170.00 L733.44 169.52 L733.28 169.05 L733.12 168.58 L732.95 168.10 L732.79 167.63 L732.62 167.16 L732.45 166.69 L732.28 166.22 L732.10 165.75 L731.93 165.28 L731.75 164.82 L731.57 164.35 L731.38 163.88 L731.20 163.42 L731.01 162.95 L730.83 162.49 L730.64 162.03 L730.44 161.57 L730.25 161.11 L730.05 160.65 L729.86 160.19 L729.66 159.73 L729.46 159.27 L729.25 158.81 L729.05 158.36 L728.84 157.90 L728.63 157.45 L728.42 156.99 L728.20 156.54 L727.99 156.09 L727.77 155.64 L727.55 155.19 L727.33 154.74 L727.11 154.29 L726.89 153.85 L726.66 153.40 L726.43 152.96 L726.20 152.51 L725.97 152.07 L725.73 151.63 L725.50 151.19 L725.26 150.75 L725.02 150.31 L724.78 149.87 L724.54 149.43 L724.29 149.00 L724.04 148.56 L723.80 148.13 L723.54 147.69 L723.29 147.26 L723.04 146.83 L722.78 146.40 L722.52 145.97 L722.26 145.55 L722.00 145.12 L721.74 144.69 L721.47 144.27 L721.21 143.85 L720.94 143.43 L720.67 143.00 L720.40 142.59 L720.12 142.17 L719.85 141.75 L719.57 141.33 L719.29 140.92 L719.01 140.51 L718.72 140.09 L718.44 139.68 L718.15 139.27 L717.87 138.86 L717.58 138.45 L717.28 138.05 L716.99 137.64 L716.70 137.24 L716.40 136.84 L716.10 136.43 L715.80 136.03 L715.50 135.64 L715.20 135.24 L714.89 134.84 L714.58 134.45 L714.28 134.05 L713.97 133.66 L713.65 133.27 L713.34 132.88 L713.03 132.49 L712.71 132.10 L712.39 131.72 L712.07 131.33 L711.75 130.95 L711.43 130.57 L711.10 130.19 L710.77 129.81 L710.45 129.43 L710.12 129.06 L709.79 128.68 L709.45 128.31 L709.12 127.94 L708.78 127.57 L708.44 127.20 L708.11 126.83 L707.77 126.46 L707.42 126.10 L707.08 125.73 L706.73 125.37 L706.39 125.01 L706.04 124.65 L705.69 124.29 L705.34 123.94 L704.99 123.58 L704.63 123.23 L704.28 122.88 L703.92 122.53 L703.56 122.18 L703.20 121.83 L702.84 121.49 L702.47 121.14 L702.11 120.80 L701.74 120.46 L701.38 120.12 L701.01 119.78 L700.64 119.45 L700.27 119.11 L699.89 118.78 L699.52 118.45 L699.14 118.12 L698.76 117.79 L698.39 117.46 L698.01 117.14 L697.62 116.81 L697.24 116.49 L696.86 116.17 L696.47 115.85 L696.09 115.54 L695.70 115.22 L695.31 114.91 L694.92 114.60 L694.52 114.29 L694.13 113.98 L693.74 113.67 L693.34 113.36 L692.94 113.06 L692.54 112.76 L692.14 112.46 L691.74 112.16 L691.34 111.86 L690.94 111.57 L690.53 111.27 L690.13 110.98 L689.72 110.69 L689.31 110.40 L688.90 110.12 L688.49 109.83 L688.08 109.55 L687.66 109.27 L687.25 108.99 L686.83 108.71 L686.42 108.43 L686.00 108.16 L685.58 107.89 L685.16 107.62 L684.74 107.35 L684.31 107.08 L683.89 106.81 L683.46 106.55 L683.04 106.29 L682.61 106.03 L682.18 105.77 L681.75 105.51 L681.32 105.26 L680.89 105.01 L680.46 104.75 L680.02 104.50 L679.59 104.26 L679.15 104.01 L678.72 103.77 L678.28 103.53 L677.84 103.29 L677.40 103.05 L676.96 102.81 L676.52 102.58 L676.08 102.35 L675.63 102.11 L675.19 101.89 L674.74 101.66 L674.29 101.43 L673.85 101.21 L673.40 100.99 L672.95 100.77 L672.50 100.55 L672.05 100.34 L671.59 100.12 L671.14 99.91 L670.69 99.70 L670.23 99.49 L669.78 99.29 L669.32 99.08 L668.86 98.88 L668.40 98.68 L667.94 98.48 L667.48 98.29 L667.02 98.09 L666.56 97.90 L666.10 97.71 L665.64 97.52 L665.17 97.34 L664.71 97.15 L664.24 96.97 L663.78 96.79 L663.31 96.61 L662.84 96.43 L662.37 96.26 L661.90 96.09 L661.43 95.92 L660.96 95.75 L660.49 95.58 L660.02 95.42 L659.54 95.25 L659.07 95.09 L658.60 94.93 L658.12 94.78 L657.65 94.62 L657.17 94.47 L656.69 94.32 L656.21 94.17 L655.74 94.02 L655.26 93.88 L654.78 93.74 L654.30 93.60 L653.82 93.46 L653.34 93.32 L652.85 93.19 L652.37 93.05 L651.89 92.92 L651.41 92.80 L650.92 92.67 L650.44 92.54 L649.95 92.42 L649.47 92.30 L648.98 92.18 L648.49 92.07 L648.01 91.95 L647.52 91.84 L647.03 91.73 L646.54 91.62 L646.05 91.52 L645.57 91.42 L645.08 91.31 L644.59 91.21 L644.10 91.12 L643.60 91.02 L643.11 90.93 L642.62 90.84 L642.13 90.75 L641.64 90.66 L641.14 90.58 L640.65 90.49 L640.16 90.41 L639.66 90.33 L639.17 90.26 L638.67 90.18 L638.18 90.11 L637.68 90.04 L637.19 89.97 L636.69 89.91 L636.20 89.84 L635.70 89.78 L635.20 89.72 L634.71 89.66 L634.21 89.61 L633.71 89.55 L633.21 89.50 L632.72 89.45 L632.22 89.40 L631.72 89.36 L631.22 89.32 L630.72 89.28 L630.23 89.24 L629.73 89.20 L629.23 89.17 L628.73 89.13 L628.23 89.10 L627.73 89.07 L627.23 89.05 L626.73 89.02 L626.23 89.00 L625.73 88.98 L625.23 88.97 L624.73 88.95 L624.23 88.94 L623.73 88.92 L623.23 88.92 L622.73 88.91 L622.23 88.90 L621.73 88.90 L621.23 88.90 L620.73 88.90 L620.23 88.90 L619.73 88.91 L619.23 88.92 L618.73 88.93 L618.23 88.94 L617.73 88.95 L617.23 88.97 L616.73 88.99 L616.23 89.01 L615.73 89.03 L615.23 89.06 L614.73 89.08 L614.23 89.11 L613.73 89.14 L613.23 89.18 L612.74 89.21 L612.24 89.25 L611.74 89.29 L611.24 89.33 L610.74 89.37 L610.24 89.42 L609.75 89.47 L609.25 89.52 L608.75 89.57 L608.25 89.62 L607.76 89.68 L607.26 89.74 L606.76 89.80 L606.27 89.86 L605.77 89.92 L605.28 89.99 L604.78 90.06 L604.28 90.13 L603.79 90.20 L603.30 90.28 L602.80 90.36 L602.31 90.43 L601.81 90.52 L601.32 90.60 L600.83 90.68 L600.34 90.77 L599.84 90.86 L599.35 90.95 L598.86 91.05 L598.37 91.14 L597.88 91.24 L597.39 91.34 L596.90 91.44 L596.41 91.55 L595.92 91.65 L595.43 91.76 L594.95 91.87 L594.46 91.99 L593.97 92.10 L593.48 92.22 L593.00 92.34 L592.51 92.46 L592.03 92.58 L591.54 92.70 L591.06 92.83 L590.58 92.96 L590.09 93.09 L589.61 93.22 L589.13 93.36 L588.65 93.49 L588.17 93.63 L587.69 93.78 L587.21 93.92 L586.73 94.06 L586.25 94.21 L585.78 94.36 L585.30 94.51 L584.82 94.66 L584.35 94.82 L583.87 94.98 L583.40 95.14 L582.93 95.30 L582.45 95.46 L581.98 95.63 L581.51 95.79 L581.04 95.96 L580.57 96.13 L580.10 96.31 L579.63 96.48 L579.16 96.66 L578.70 96.84 L578.23 97.02 L577.76 97.20 L577.30 97.39 L576.84 97.57 L576.37 97.76 L575.91 97.95 L575.45 98.15 L574.99 98.34 L574.53 98.54 L574.07 98.74 L573.61 98.94 L573.15 99.14 L572.70 99.35 L572.24 99.55 L571.79 99.76 L571.33 99.97 L570.88 100.18 L570.43 100.40 L569.98 100.61 L569.53 100.83 L569.08 101.05 L568.63 101.27 L568.18 101.50 L567.74 101.72 L567.29 101.95 L566.85 102.18 L566.40 102.41 L565.96 102.64 L565.52 102.88 L565.08 103.11 L564.64 103.35 L564.20 103.59 L563.76 103.84 L563.33 104.08 L562.89 104.33 L562.46 104.57 L562.02 104.82 L561.59 105.07 L561.16 105.33 L560.73 105.58 L560.30 105.84 L559.87 106.10 L559.44 106.36 L559.02 106.62 L558.59 106.89 L558.17 107.15 L557.75 107.42 L557.33 107.69 L556.91 107.96 L556.49 108.23 L556.07 108.51 L555.65 108.79 L555.24 109.06 L554.82 109.34 L554.41 109.63 L554.00 109.91 L553.59 110.20 L553.18 110.48 L552.77 110.77 L552.36 111.06 L551.96 111.35 L551.55 111.65 L551.15 111.94 L550.75 112.24 L550.35 112.54 L549.95 112.84 L549.55 113.14 L549.15 113.45 L548.75 113.75 L548.36 114.06 L547.97 114.37 L547.58 114.68 L547.19 114.99 L546.80 115.31 L546.41 115.62 L546.02 115.94 L545.64 116.26 L545.25 116.58 L544.87 116.90 L544.49 117.23 L544.11 117.55 L543.73 117.88 L543.35 118.21 L542.98 118.54 L542.60 118.87 L542.23 119.21 L541.86 119.54 L541.49 119.88 L541.12 120.22 L540.75 120.55 L540.39 120.90 L540.03 121.24 L539.66 121.58 L539.30 121.93 L538.94 122.28ZM276.58 292.89 L501.57 78.59 L541.24 120.08 L315.83 334.35Z" fill="url(#band)"/>
<linearGradient id="xg" gradientUnits="userSpaceOnUse" x1="309.2" y1="309.8" x2="508.4" y2="103.1"><stop offset="0.0000" stop-color="#0a1c32" stop-opacity="0.00"/><stop offset="0.1219" stop-color="#0a1c32" stop-opacity="0.13"/><stop offset="0.2264" stop-color="#0a1c32" stop-opacity="0.30"/><stop offset="0.3135" stop-color="#0a1c32" stop-opacity="0.46"/><stop offset="0.4006" stop-color="#0a1c32" stop-opacity="0.64"/><stop offset="0.5994" stop-color="#0a1c32" stop-opacity="0.64"/><stop offset="0.6865" stop-color="#0a1c32" stop-opacity="0.46"/><stop offset="0.7736" stop-color="#0a1c32" stop-opacity="0.30"/><stop offset="0.8781" stop-color="#0a1c32" stop-opacity="0.13"/><stop offset="1.0000" stop-color="#0a1c32" stop-opacity="0.00"/></linearGradient>
<path d="M276.58 292.89 L501.57 78.59 L541.24 120.08 L315.83 334.35Z" fill="url(#xg)"/>
<path d="M212.01 339.90 L213.38 339.74 L214.75 339.57 L216.12 339.39 L217.48 339.19 L218.84 338.98 L220.20 338.75 L221.56 338.51 L222.92 338.25 L224.27 337.98 L225.62 337.70 L226.97 337.40 L228.31 337.09 L229.65 336.76 L230.99 336.42 L232.32 336.06 L233.65 335.70 L234.97 335.31 L236.30 334.92 L237.61 334.51 L238.93 334.08 L240.24 333.65 L241.54 333.20 L242.84 332.73 L244.13 332.25 L245.42 331.76 L246.71 331.26 L247.99 330.74 L249.26 330.21 L250.53 329.67 L251.79 329.11 L253.05 328.54 L254.30 327.96 L255.55 327.36 L256.79 326.75 L258.02 326.13 L259.25 325.50 L260.47 324.85 L261.68 324.20 L262.89 323.52 L264.09 322.84 L265.28 322.15 L266.46 321.44 L267.64 320.72 L268.81 319.99 L269.98 319.24 L271.13 318.49 L272.28 317.72 L273.42 316.94 L274.55 316.15 L275.68 315.35 L276.80 314.54 L277.90 313.72 L279.00 312.88 L280.09 312.03 L281.18 311.18 L282.25 310.31 L283.32 309.43 L284.37 308.54 L285.42 307.64 L286.46 306.73 L287.49 305.81 L288.51 304.88 L289.53 303.93 L290.60 302.92 L291.69 301.89 L292.78 300.86 L293.87 299.83 L294.97 298.80 L296.06 297.77 L297.15 296.75 L298.24 295.72 L299.34 294.69 L300.43 293.66 L301.52 292.64 L302.62 291.61 L303.71 290.58 L304.81 289.56 L305.90 288.53 L306.99 287.51 L308.09 286.48 L309.19 285.46 L310.28 284.43 L311.38 283.41 L312.48 282.39 L313.57 281.36 L314.67 280.34 L315.77 279.32 L316.87 278.30 L317.97 277.28 L319.06 276.26 L320.16 275.24 L321.26 274.22 L322.36 273.20 L323.47 272.18 L324.57 271.16 L325.67 270.14 L326.77 269.12 L327.87 268.11 L328.98 267.09 L330.08 266.07 L331.19 265.06 L332.29 264.04 L333.40 263.03 L334.50 262.02 L335.61 261.00 L336.72 259.99 L337.83 258.98 L338.93 257.97 L340.04 256.96 L341.15 255.95 L342.26 254.94 L343.37 253.93 L344.48 252.92 L345.60 251.91 L346.71 250.91 L347.82 249.90 L348.94 248.90 L350.05 247.89 L351.17 246.89 L352.28 245.89 L352.60 245.60 L341.40 239.20 L380.10 229.50 L370.80 269.60 L366.10 257.20 L365.87 257.48 L364.93 258.66 L363.98 259.84 L363.03 261.02 L362.08 262.19 L361.12 263.37 L360.17 264.54 L359.21 265.71 L358.25 266.88 L357.29 268.04 L356.33 269.21 L355.36 270.37 L354.40 271.53 L353.43 272.69 L352.46 273.85 L351.49 275.01 L350.52 276.16 L349.55 277.32 L348.57 278.47 L347.60 279.62 L346.62 280.76 L345.64 281.91 L344.66 283.05 L343.67 284.20 L342.69 285.34 L341.70 286.48 L340.71 287.62 L339.73 288.75 L338.73 289.89 L337.74 291.02 L336.75 292.15 L335.75 293.28 L334.76 294.41 L333.76 295.54 L332.76 296.66 L331.76 297.79 L330.75 298.91 L329.75 300.03 L328.74 301.15 L327.73 302.26 L326.72 303.38 L325.71 304.49 L324.70 305.61 L323.69 306.72 L322.67 307.83 L321.66 308.93 L320.64 310.04 L319.62 311.14 L318.60 312.25 L317.58 313.35 L316.55 314.45 L315.53 315.55 L314.50 316.64 L313.47 317.74 L312.44 318.83 L311.41 319.93 L310.38 321.02 L309.35 322.11 L308.30 323.20 L307.17 324.37 L306.00 325.55 L304.82 326.71 L303.62 327.87 L302.41 329.00 L301.19 330.13 L299.95 331.24 L298.70 332.33 L297.44 333.42 L296.17 334.48 L294.88 335.54 L293.58 336.58 L292.27 337.60 L290.95 338.61 L289.61 339.61 L288.26 340.59 L286.91 341.55 L285.54 342.50 L284.16 343.44 L282.77 344.36 L281.36 345.26 L279.95 346.15 L278.53 347.02 L277.10 347.87 L275.66 348.71 L274.21 349.54 L272.74 350.34 L271.27 351.13 L269.80 351.91 L268.31 352.66 L266.81 353.41 L265.31 354.13 L263.79 354.83 L262.27 355.52 L260.74 356.20 L259.21 356.85 L257.66 357.49 L256.11 358.11 L254.56 358.71 L252.99 359.30 L251.42 359.86 L249.84 360.41 L248.26 360.95 L246.67 361.46 L245.08 361.96 L243.48 362.43 L241.87 362.89 L240.26 363.34 L238.65 363.76 L237.03 364.17 L235.41 364.55 L233.78 364.92 L232.15 365.27 L230.51 365.61 L228.87 365.92 L227.23 366.22 L225.59 366.49 L223.94 366.75 L222.29 366.99 L220.64 367.22 L218.99 367.42 L217.33 367.60 L215.67 367.77 L214.01 367.92 L212.35 368.05 L210.69 368.16 L209.03 368.25 L207.37 368.32 L205.71 368.38 L204.04 368.42 L202.38 368.43 L200.72 368.43 L199.06 368.42 L197.40 368.38 L195.74 368.32 L194.08 368.25 L192.43 368.16 L190.77 368.04 L189.12 367.91 L187.47 367.77 L185.82 367.60 L189.95 364.12 L193.85 360.65 L197.50 357.18 L200.90 353.71 L204.05 350.25 L206.95 346.80 L209.60 343.35Z" fill="url(#g_cont)" filter="url(#ash)"/>
<path d="M427.70 168.00 L428.77 166.95 L429.84 165.90 L430.91 164.85 L431.99 163.80 L433.06 162.76 L434.14 161.71 L435.21 160.66 L436.29 159.62 L437.37 158.58 L438.45 157.54 L439.53 156.50 L440.61 155.46 L441.69 154.42 L442.78 153.38 L443.86 152.35 L444.95 151.31 L446.04 150.28 L447.12 149.24 L448.21 148.21 L449.30 147.18 L450.40 146.15 L451.49 145.13 L452.58 144.10 L453.68 143.08 L454.77 142.05 L455.87 141.03 L456.97 140.01 L458.07 138.99 L459.17 137.97 L460.27 136.95 L461.38 135.94 L462.48 134.92 L463.59 133.91 L464.70 132.90 L465.81 131.89 L466.92 130.88 L468.03 129.87 L469.14 128.87 L470.26 127.86 L471.37 126.86 L472.49 125.86 L473.61 124.86 L474.73 123.86 L475.85 122.86 L476.97 121.86 L478.10 120.87 L479.22 119.88 L480.35 118.89 L481.48 117.90 L482.61 116.91 L483.74 115.92 L484.88 114.94 L486.01 113.95 L487.15 112.97 L488.29 111.99 L489.42 111.01 L490.57 110.03 L491.71 109.06 L492.85 108.09 L494.00 107.11 L495.15 106.14 L496.29 105.18 L497.45 104.21 L498.60 103.24 L499.75 102.28 L500.91 101.32 L502.06 100.36 L503.22 99.40 L504.38 98.44 L505.55 97.49 L506.71 96.54 L507.88 95.59 L509.04 94.64 L510.21 93.69 L511.38 92.74 L512.60 91.76 L513.87 90.75 L515.15 89.76 L516.44 88.78 L517.75 87.82 L519.06 86.87 L520.38 85.95 L521.72 85.03 L523.06 84.14 L524.41 83.26 L525.77 82.40 L527.14 81.55 L528.52 80.72 L529.91 79.91 L531.31 79.12 L532.72 78.35 L534.13 77.59 L535.55 76.85 L536.98 76.13 L538.41 75.42 L539.86 74.74 L541.31 74.07 L542.76 73.42 L544.23 72.79 L545.70 72.18 L547.17 71.58 L548.65 71.01 L550.14 70.45 L551.63 69.91 L553.12 69.39 L554.63 68.90 L556.13 68.41 L556.50 68.30 L548.20 64.10 L592.00 61.20 L572.60 91.60 L570.09 83.40 L569.20 83.95 L568.03 84.67 L566.86 85.40 L565.70 86.14 L564.55 86.88 L563.40 87.62 L562.26 88.37 L561.12 89.12 L559.99 89.88 L558.87 90.64 L557.75 91.40 L556.63 92.17 L555.53 92.95 L554.42 93.73 L553.33 94.51 L552.24 95.30 L551.15 96.09 L550.07 96.89 L549.00 97.70 L547.93 98.51 L546.87 99.33 L545.81 100.15 L544.76 100.97 L543.71 101.81 L542.67 102.65 L541.64 103.49 L540.61 104.34 L539.59 105.20 L538.57 106.06 L537.56 106.93 L536.55 107.80 L535.55 108.69 L534.56 109.57 L533.57 110.47 L532.59 111.37 L531.61 112.28 L530.56 113.26 L529.47 114.29 L528.37 115.31 L527.27 116.33 L526.16 117.35 L525.06 118.36 L523.95 119.37 L522.84 120.38 L521.72 121.38 L520.61 122.39 L519.49 123.39 L518.37 124.38 L517.24 125.38 L516.12 126.37 L514.99 127.36 L513.86 128.35 L512.73 129.34 L511.59 130.32 L510.46 131.30 L509.32 132.28 L508.18 133.26 L507.04 134.24 L505.90 135.21 L504.75 136.19 L503.61 137.16 L502.46 138.13 L501.31 139.10 L500.16 140.07 L499.01 141.04 L497.86 142.00 L496.71 142.97 L495.55 143.93 L494.40 144.89 L493.24 145.85 L492.09 146.81 L490.93 147.77 L489.77 148.73 L488.61 149.69 L487.46 150.65 L486.30 151.61 L485.14 152.57 L483.98 153.52 L482.82 154.48 L481.66 155.44 L480.50 156.39 L479.34 157.35 L478.18 158.31 L477.02 159.26 L475.85 160.22 L474.70 161.18 L473.54 162.13 L472.38 163.09 L471.22 164.05 L470.06 165.01 L468.90 165.97 L467.74 166.93 L466.59 167.89 L465.43 168.85 L464.28 169.81 L463.12 170.78 L461.97 171.74 L460.82 172.70 L459.67 173.67 L458.52 174.64 L457.37 175.61 L456.22 176.58 L455.08 177.55 L453.93 178.52 L452.79 179.50 L451.65 180.48 L450.51 181.45 L449.37 182.43 L448.23 183.42 L447.10 184.40Z" fill="url(#g_integ)" filter="url(#ash)"/>
<path id="p_cont" d="M184.76 365.10 L214.60 362.00 L215.67 361.89 L216.73 361.77 L217.79 361.64 L218.86 361.51 L219.92 361.37 L220.98 361.22 L222.04 361.06 L223.10 360.90 L224.15 360.72 L225.21 360.54 L226.26 360.36 L227.32 360.16 L228.37 359.96 L229.42 359.75 L230.47 359.53 L231.52 359.31 L232.56 359.07 L233.61 358.83 L234.65 358.58 L235.69 358.33 L236.73 358.06 L237.77 357.79 L238.80 357.52 L239.84 357.23 L240.87 356.94 L241.90 356.64 L242.92 356.33 L243.95 356.01 L244.97 355.69 L245.99 355.36 L247.01 355.02 L248.02 354.68 L249.04 354.32 L250.05 353.97 L251.06 353.60 L252.06 353.22 L253.06 352.84 L254.06 352.45 L255.06 352.06 L256.05 351.66 L257.04 351.25 L258.03 350.83 L259.02 350.40 L260.00 349.97 L260.98 349.53 L261.95 349.09 L262.93 348.64 L263.90 348.18 L264.86 347.71 L265.82 347.24 L266.78 346.76 L267.74 346.27 L268.69 345.78 L269.64 345.28 L270.58 344.77 L271.52 344.25 L272.46 343.73 L273.39 343.21 L274.32 342.67 L275.25 342.13 L276.17 341.58 L277.09 341.03 L278.00 340.47 L278.91 339.90 L279.82 339.33 L280.72 338.75 L281.61 338.16 L282.51 337.57 L283.39 336.97 L284.28 336.36 L285.16 335.75 L286.03 335.13 L286.90 334.51 L287.77 333.88 L288.63 333.24 L289.48 332.60 L290.34 331.95 L291.18 331.29 L292.02 330.63 L292.86 329.97 L293.69 329.29 L294.52 328.61 L295.34 327.93 L296.16 327.24 L296.97 326.54 L297.78 325.84 L298.58 325.13 L299.38 324.42 L300.17 323.70 L300.96 322.98 L301.74 322.25 L302.52 321.51 L303.29 320.77 L304.05 320.03 L304.79 319.29 L305.50 318.58 L306.21 317.88 L306.92 317.17 L307.63 316.46 L308.34 315.76 L309.04 315.05 L309.75 314.34 L310.46 313.63 L311.17 312.93 L311.87 312.22 L312.58 311.51 L313.28 310.80 L313.99 310.09 L314.69 309.38 L315.40 308.67 L316.10 307.96 L316.81 307.25 L317.51 306.54 L318.22 305.83 L318.92 305.12 L319.62 304.41 L320.33 303.70 L321.03 302.98 L321.73 302.27 L322.44 301.56 L323.14 300.85 L323.84 300.13 L324.54 299.42 L325.24 298.71 L325.95 297.99 L326.65 297.28 L327.35 296.57 L328.05 295.85 L328.75 295.14 L329.45 294.42 L330.15 293.71 L330.85 292.99 L331.55 292.28 L332.25 291.56 L332.94 290.84 L333.64 290.13 L334.34 289.41 L335.04 288.69 L335.74 287.98 L336.43 287.26 L337.13 286.54 L337.83 285.82 L338.53 285.10 L339.22 284.39 L339.92 283.67 L340.62 282.95 L341.31 282.23 L342.01 281.51 L342.70 280.79 L343.40 280.07 L344.09 279.35 L344.79 278.63 L345.48 277.91 L346.18 277.19 L346.87 276.46 L347.56 275.74 L348.26 275.02 L348.95 274.30 L349.64 273.58 L350.34 272.85 L351.03 272.13 L351.72 271.41 L352.41 270.69 L353.11 269.96 L353.80 269.24 L354.49 268.51 L355.18 267.79 L355.87 267.07 L356.56 266.34 L357.25 265.62 L357.94 264.89 L358.63 264.17 L359.32 263.44 L360.01 262.71 L360.70 261.99 L361.39 261.26 L362.08 260.54 L362.77 259.81 L363.46 259.08 L364.15 258.35 L384.77 236.56" fill="none"/><g font-size="22.5" letter-spacing="3.46" filter="url(#tsh)"><text fill="#ededed" stroke="#ededed" stroke-width="0.67" stroke-linejoin="round"><textPath href="#p_cont" startOffset="38.6">Continuous</textPath></text></g><path id="p_int" d="M421.34 200.85 L443.41 180.52 L444.14 179.84 L444.88 179.16 L445.61 178.49 L446.35 177.81 L447.09 177.14 L447.83 176.46 L448.57 175.79 L449.31 175.11 L450.05 174.44 L450.79 173.77 L451.53 173.10 L452.27 172.43 L453.01 171.76 L453.76 171.09 L454.50 170.42 L455.24 169.75 L455.99 169.08 L456.73 168.41 L457.48 167.74 L458.22 167.08 L458.97 166.41 L459.72 165.74 L460.46 165.08 L461.21 164.41 L461.96 163.75 L462.71 163.09 L463.46 162.42 L464.21 161.76 L464.96 161.10 L465.71 160.43 L466.46 159.77 L467.21 159.11 L467.96 158.45 L468.71 157.79 L469.46 157.13 L470.22 156.47 L470.97 155.81 L471.72 155.15 L472.48 154.49 L473.23 153.83 L473.98 153.18 L474.74 152.52 L475.49 151.86 L476.25 151.20 L477.00 150.55 L477.76 149.89 L478.51 149.23 L479.27 148.58 L480.03 147.92 L480.78 147.26 L481.54 146.61 L482.30 145.95 L483.05 145.30 L483.81 144.64 L484.57 143.99 L485.33 143.34 L486.08 142.68 L486.84 142.03 L487.60 141.37 L488.36 140.72 L489.12 140.07 L489.88 139.41 L490.63 138.76 L491.39 138.11 L492.15 137.45 L492.91 136.80 L493.67 136.15 L494.43 135.49 L495.19 134.84 L495.95 134.19 L496.71 133.54 L497.47 132.88 L498.23 132.23 L498.99 131.58 L499.74 130.93 L500.50 130.27 L501.26 129.62 L502.02 128.97 L502.78 128.32 L503.54 127.66 L504.30 127.01 L505.06 126.36 L505.82 125.71 L506.58 125.05 L507.34 124.40 L508.10 123.75 L508.86 123.09 L509.62 122.44 L510.38 121.79 L511.13 121.14 L511.89 120.48 L512.65 119.83 L513.41 119.18 L514.17 118.52 L514.93 117.87 L515.69 117.21 L516.44 116.56 L517.20 115.90 L517.96 115.25 L518.72 114.60 L519.47 113.94 L520.23 113.29 L520.99 112.63 L521.74 111.97 L522.50 111.32 L523.26 110.66 L524.01 110.01 L524.77 109.35 L525.52 108.69 L526.28 108.04 L527.01 107.40 L527.72 106.80 L528.43 106.19 L529.15 105.60 L529.87 105.00 L530.60 104.41 L531.33 103.83 L532.06 103.25 L532.79 102.68 L533.53 102.11 L534.27 101.54 L535.02 100.99 L535.77 100.43 L536.52 99.88 L537.27 99.34 L538.03 98.80 L538.79 98.26 L539.56 97.73 L540.33 97.20 L541.10 96.68 L541.87 96.17 L542.64 95.66 L543.42 95.15 L544.21 94.65 L544.99 94.15 L545.78 93.66 L546.57 93.18 L547.36 92.69 L548.16 92.22 L548.95 91.75 L549.76 91.28 L550.56 90.82 L551.36 90.36 L552.17 89.91 L552.98 89.46 L553.80 89.02 L554.61 88.58 L555.43 88.15 L556.25 87.72 L557.08 87.30 L557.90 86.88 L558.73 86.46 L559.56 86.06 L560.39 85.65 L561.23 85.25 L562.06 84.86 L562.90 84.47 L563.74 84.09 L591.03 71.63" fill="none"/><g font-size="20.0" letter-spacing="0.31" style="font-family:'DejaVu Serif','Liberation Serif',serif" filter="url(#tsh)"><text fill="#ededed" stroke="#ededed" stroke-width="0.60" stroke-linejoin="round"><textPath href="#p_int" startOffset="47.0">Integration</textPath></text></g>
<path d="M316.74 77.90 L540.63 293.75 L500.67 334.96 L277.19 119.08Z" fill="url(#band)"/>
<path d="M452.60 236.20 L451.63 235.05 L450.65 233.90 L449.68 232.74 L448.71 231.59 L447.74 230.44 L446.76 229.29 L445.79 228.14 L444.82 226.99 L443.84 225.83 L442.87 224.68 L441.89 223.53 L440.92 222.38 L439.94 221.23 L438.97 220.09 L437.99 218.94 L437.01 217.79 L436.04 216.64 L435.06 215.50 L434.08 214.35 L433.10 213.20 L432.12 212.06 L431.14 210.92 L430.16 209.77 L429.18 208.63 L428.19 207.49 L427.21 206.35 L426.23 205.21 L425.24 204.07 L424.25 202.93 L423.27 201.79 L422.28 200.66 L421.29 199.52 L420.30 198.39 L419.31 197.25 L418.32 196.12 L417.32 194.99 L416.33 193.86 L415.33 192.73 L414.34 191.60 L413.34 190.48 L412.34 189.35 L411.34 188.23 L410.34 187.11 L409.34 185.98 L408.34 184.86 L407.33 183.74 L406.33 182.63 L405.32 181.51 L404.31 180.39 L403.30 179.28 L402.29 178.17 L401.28 177.06 L400.26 175.95 L399.25 174.84 L398.23 173.73 L397.21 172.63 L396.20 171.52 L395.18 170.42 L394.15 169.32 L393.13 168.22 L392.11 167.12 L391.08 166.02 L390.05 164.93 L389.02 163.84 L387.99 162.74 L386.96 161.65 L385.93 160.56 L384.89 159.48 L383.85 158.39 L382.82 157.31 L381.78 156.22 L380.74 155.14 L379.69 154.06 L378.65 152.98 L377.60 151.91 L376.56 150.83 L375.51 149.76 L374.46 148.69 L373.41 147.62 L372.35 146.55 L371.30 145.48 L370.24 144.42 L369.18 143.35 L368.12 142.29 L367.06 141.23 L366.00 140.17 L364.94 139.11 L363.87 138.06 L362.80 137.00 L361.73 135.95 L360.66 134.90 L359.59 133.85 L358.52 132.80 L357.44 131.76 L356.37 130.71 L355.29 129.67 L354.21 128.63 L353.13 127.59 L352.05 126.55 L350.96 125.51 L349.88 124.48 L348.79 123.44 L347.70 122.41 L346.61 121.38 L345.52 120.35 L344.43 119.32 L343.33 118.30 L342.24 117.27 L341.14 116.25 L340.04 115.22 L338.94 114.20 L337.84 113.19 L336.74 112.17 L335.64 111.15 L334.53 110.14 L333.43 109.12 L332.32 108.11 L331.21 107.10 L330.10 106.09 L328.99 105.08 L327.88 104.07 L326.76 103.07 L325.65 102.06 L324.53 101.06 L323.41 100.06 L322.30 99.05 L321.18 98.05 L320.06 97.06 L318.93 96.06 L317.81 95.06 L316.69 94.06 L315.56 93.07 L314.44 92.08 L313.31 91.08 L312.18 90.09 L311.05 89.10 L309.91 88.10 L308.68 87.02 L307.41 85.93 L306.13 84.86 L304.84 83.81 L303.54 82.76 L302.23 81.74 L300.91 80.72 L299.58 79.73 L298.24 78.74 L296.89 77.77 L295.53 76.82 L294.16 75.88 L292.78 74.96 L291.39 74.05 L289.99 73.16 L288.58 72.28 L287.17 71.42 L285.75 70.57 L284.31 69.74 L282.87 68.93 L281.43 68.13 L279.97 67.34 L278.51 66.57 L277.04 65.82 L275.57 65.08 L274.09 64.36 L272.60 63.65 L271.10 62.96 L269.60 62.29 L268.09 61.63 L266.58 60.99 L265.06 60.36 L263.54 59.75 L262.01 59.15 L260.48 58.57 L258.94 58.00 L257.39 57.46 L255.85 56.92 L254.29 56.40 L252.74 55.90 L251.18 55.41 L249.61 54.94 L248.05 54.48 L246.47 54.04 L244.90 53.62 L243.32 53.21 L241.74 52.81 L240.16 52.43 L238.57 52.07 L236.98 51.72 L235.39 51.39 L233.80 51.07 L232.20 50.76 L230.60 50.47 L229.00 50.20 L227.40 49.94 L225.80 49.69 L224.20 49.46 L222.59 49.25 L220.99 49.05 L219.38 48.86 L217.77 48.69 L216.16 48.53 L214.55 48.38 L212.94 48.25 L211.33 48.14 L209.72 48.03 L208.10 47.95 L206.49 47.87 L204.88 47.81 L203.27 47.76 L201.66 47.73 L200.04 47.71 L198.43 47.70 L198.02 47.70 L203.70 33.10 L158.10 65.70 L198.80 81.80 L192.99 63.70 L193.28 63.73 L194.73 63.90 L196.18 64.07 L197.62 64.26 L199.06 64.46 L200.50 64.67 L201.93 64.90 L203.35 65.13 L204.78 65.38 L206.20 65.64 L207.61 65.91 L209.02 66.19 L210.43 66.48 L211.83 66.78 L213.23 67.10 L214.62 67.42 L216.01 67.76 L217.40 68.11 L218.78 68.47 L220.15 68.84 L221.52 69.22 L222.89 69.61 L224.25 70.01 L225.61 70.43 L226.96 70.85 L228.30 71.29 L229.65 71.74 L230.98 72.19 L232.31 72.66 L233.64 73.14 L234.96 73.63 L236.27 74.13 L237.58 74.64 L238.89 75.16 L240.19 75.70 L241.48 76.24 L242.77 76.79 L244.05 77.36 L245.32 77.93 L246.59 78.51 L247.86 79.11 L249.12 79.72 L250.37 80.33 L251.61 80.96 L252.85 81.59 L254.09 82.24 L255.31 82.90 L256.53 83.56 L257.75 84.24 L258.96 84.93 L260.16 85.63 L261.35 86.33 L262.54 87.05 L263.72 87.78 L264.89 88.52 L266.06 89.26 L267.22 90.02 L268.37 90.79 L269.52 91.57 L270.66 92.35 L271.79 93.15 L272.91 93.96 L274.02 94.77 L275.13 95.60 L276.23 96.43 L277.32 97.28 L278.41 98.13 L279.49 99.00 L280.55 99.87 L281.61 100.76 L282.67 101.65 L283.71 102.55 L284.75 103.46 L285.77 104.38 L286.79 105.31 L287.80 106.25 L288.80 107.20 L289.79 108.16 L290.84 109.18 L291.91 110.22 L292.98 111.27 L294.06 112.32 L295.13 113.36 L296.21 114.41 L297.29 115.45 L298.36 116.50 L299.44 117.54 L300.52 118.58 L301.60 119.62 L302.68 120.66 L303.76 121.70 L304.84 122.74 L305.93 123.78 L307.01 124.82 L308.09 125.86 L309.18 126.89 L310.26 127.93 L311.34 128.97 L312.43 130.00 L313.51 131.04 L314.60 132.07 L315.69 133.11 L316.77 134.14 L317.86 135.18 L318.95 136.21 L320.03 137.24 L321.12 138.28 L322.21 139.31 L323.29 140.34 L324.38 141.38 L325.47 142.41 L326.56 143.44 L327.64 144.48 L328.73 145.51 L329.82 146.54 L330.91 147.58 L331.99 148.61 L333.08 149.64 L334.17 150.68 L335.25 151.71 L336.34 152.75 L337.43 153.78 L338.51 154.82 L339.60 155.85 L340.68 156.89 L341.77 157.92 L342.85 158.96 L343.93 160.00 L345.02 161.04 L346.10 162.08 L347.18 163.11 L348.26 164.15 L349.34 165.20 L350.42 166.24 L351.50 167.28 L352.58 168.32 L353.66 169.37 L354.73 170.41 L355.81 171.46 L356.88 172.50 L357.96 173.55 L359.03 174.60 L360.10 175.65 L361.17 176.70 L362.24 177.75 L363.31 178.80 L364.38 179.86 L365.44 180.91 L366.51 181.97 L367.57 183.03 L368.63 184.09 L369.69 185.15 L370.75 186.21 L371.81 187.27 L372.87 188.34 L373.92 189.41 L374.98 190.47 L376.03 191.54 L377.08 192.62 L378.13 193.69 L379.17 194.77 L380.22 195.84 L381.26 196.92 L382.30 198.00 L383.34 199.09 L384.38 200.17 L385.41 201.26 L386.45 202.35 L387.48 203.44 L388.51 204.53 L389.54 205.63 L390.56 206.73 L391.58 207.83 L392.60 208.93 L393.62 210.03 L394.64 211.14 L395.65 212.25 L396.66 213.36 L397.67 214.48 L398.68 215.60 L399.68 216.72 L400.68 217.84 L401.68 218.97 L402.67 220.10 L403.66 221.23 L404.65 222.36 L405.64 223.50 L406.63 224.64 L407.61 225.78 L408.58 226.93 L409.56 228.08 L410.53 229.23 L411.50 230.39 L412.46 231.55 L413.43 232.71 L414.39 233.88 L415.34 235.05 L416.29 236.22 L417.24 237.40 L418.19 238.58 L419.13 239.76 L420.07 240.95 L421.00 242.14 L421.93 243.34 L422.86 244.54 L423.78 245.74 L424.70 246.95 L425.62 248.16 L426.53 249.38 L427.44 250.59 L428.34 251.82 L429.24 253.05 L430.14 254.28 L431.03 255.51 L431.92 256.75 L432.80 258.00Z" fill="url(#g_feedback)" filter="url(#ash)"/>
<path d="M107.19 68.71 L105.98 69.90 L104.79 71.10 L103.60 72.30 L102.42 73.51 L101.25 74.71 L100.09 75.92 L98.94 77.12 L97.79 78.33 L96.66 79.55 L95.53 80.76 L94.42 81.98 L93.31 83.21 L92.21 84.43 L91.12 85.66 L90.03 86.89 L88.96 88.13 L87.90 89.37 L86.84 90.61 L85.79 91.86 L84.75 93.11 L83.72 94.36 L82.70 95.62 L81.69 96.89 L80.69 98.16 L79.69 99.43 L78.71 100.71 L77.74 101.99 L76.77 103.28 L75.81 104.57 L74.87 105.87 L73.93 107.18 L73.00 108.49 L72.08 109.80 L71.18 111.12 L70.28 112.45 L69.39 113.78 L68.52 115.12 L67.65 116.46 L66.80 117.81 L65.95 119.17 L65.12 120.53 L64.30 121.90 L63.49 123.27 L62.69 124.65 L61.90 126.04 L61.13 127.43 L60.36 128.83 L59.61 130.24 L58.87 131.65 L58.15 133.06 L57.44 134.49 L56.74 135.92 L56.05 137.35 L55.38 138.80 L54.72 140.24 L54.07 141.70 L53.44 143.16 L52.82 144.63 L52.22 146.10 L51.63 147.58 L51.06 149.06 L50.50 150.55 L49.96 152.04 L49.43 153.54 L48.92 155.05 L48.43 156.56 L47.95 158.08 L47.49 159.60 L47.04 161.12 L46.62 162.65 L46.20 164.19 L45.81 165.73 L45.44 167.27 L45.08 168.82 L44.74 170.37 L44.42 171.92 L44.11 173.48 L43.83 175.04 L43.56 176.61 L43.32 178.17 L43.09 179.74 L42.88 181.31 L42.69 182.89 L42.53 184.46 L42.38 186.04 L42.25 187.62 L42.14 189.20 L42.06 190.78 L41.99 192.36 L41.95 193.94 L41.92 195.52 L41.92 197.10 L41.94 198.68 L41.98 200.26 L42.00 200.70 L31.70 192.00 L44.90 224.90 L74.90 211.90 L60.00 208.39 L60.08 207.16 L60.19 205.77 L60.31 204.38 L60.46 202.99 L60.62 201.61 L60.80 200.23 L61.00 198.86 L61.22 197.49 L61.45 196.12 L61.70 194.76 L61.97 193.40 L62.26 192.05 L62.56 190.70 L62.88 189.35 L63.21 188.01 L63.56 186.68 L63.93 185.35 L64.31 184.03 L64.70 182.71 L65.11 181.40 L65.53 180.10 L65.97 178.80 L66.42 177.51 L66.88 176.23 L67.36 174.95 L67.85 173.68 L68.35 172.41 L68.86 171.15 L69.39 169.90 L69.93 168.66 L70.47 167.42 L71.03 166.19 L71.60 164.97 L72.18 163.75 L72.77 162.54 L73.37 161.34 L73.98 160.14 L74.60 158.95 L75.23 157.77 L75.86 156.60 L76.51 155.43 L77.16 154.27 L77.82 153.11 L78.49 151.96 L79.17 150.82 L79.85 149.69 L80.54 148.56 L81.24 147.44 L81.94 146.32 L82.65 145.21 L83.37 144.10 L84.09 143.00 L84.82 141.91 L85.55 140.82 L86.29 139.74 L87.04 138.66 L87.79 137.59 L88.54 136.52 L89.30 135.45 L90.07 134.39 L90.83 133.34 L91.61 132.29 L92.38 131.24 L93.16 130.19 L93.95 129.15 L94.74 128.11 L95.53 127.08 L96.33 126.05 L97.13 125.02 L97.93 123.99 L98.74 122.96 L99.55 121.94 L100.36 120.91 L101.18 119.89 L102.00 118.87 L102.82 117.85 L103.65 116.83 L104.48 115.81 L105.31 114.79 L106.15 113.77 L106.99 112.75 L107.83 111.73 L108.68 110.70 L109.53 109.68 L110.38 108.65 L111.24 107.62 L112.10 106.59 L112.97 105.56 L113.84 104.52 L114.71 103.48 L115.59 102.44 L116.47 101.39 L117.36 100.34 L118.25 99.29 L119.15 98.23 L120.05 97.16 L120.96 96.10 L121.87 95.02 L122.79 93.94 L123.71 92.85 L124.64 91.76 L125.58 90.66 L126.52 89.56 L127.47 88.45 L128.43 87.33 L129.39 86.20 L126.06 84.35 L122.89 82.41 L119.87 80.37 L117.02 78.23 L114.32 75.99 L111.79 73.66 L109.41 71.23Z" fill="url(#g_plan)" filter="url(#ash)"/>
<path d="M66.40 253.21 L66.96 254.51 L67.52 255.81 L68.08 257.10 L68.64 258.39 L69.22 259.68 L69.79 260.96 L70.38 262.24 L70.96 263.52 L71.56 264.80 L72.16 266.07 L72.77 267.34 L73.38 268.61 L74.00 269.88 L74.63 271.14 L75.26 272.40 L75.91 273.65 L76.56 274.91 L77.22 276.15 L77.89 277.40 L78.56 278.64 L79.25 279.88 L79.94 281.11 L80.65 282.34 L81.36 283.57 L82.09 284.79 L82.82 286.00 L83.57 287.21 L84.32 288.42 L85.09 289.62 L85.87 290.82 L86.66 292.01 L87.46 293.19 L88.27 294.37 L89.09 295.54 L89.93 296.70 L90.77 297.86 L91.63 299.01 L92.50 300.15 L93.39 301.28 L94.28 302.41 L95.19 303.52 L96.11 304.63 L97.04 305.73 L97.99 306.82 L98.95 307.89 L99.92 308.96 L100.91 310.02 L101.90 311.07 L102.92 312.10 L103.94 313.13 L104.98 314.14 L106.03 315.14 L107.09 316.13 L108.17 317.10 L109.26 318.06 L110.36 319.00 L111.47 319.94 L112.60 320.85 L113.74 321.75 L114.90 322.64 L116.06 323.51 L117.24 324.36 L118.43 325.20 L119.64 326.02 L120.85 326.82 L122.08 327.60 L123.32 328.37 L124.57 329.11 L125.83 329.84 L127.10 330.55 L128.38 331.24 L129.68 331.90 L130.98 332.55 L132.30 333.17 L133.62 333.78 L134.96 334.36 L136.30 334.91 L137.65 335.45 L139.02 335.96 L140.39 336.45 L141.76 336.91 L143.15 337.35 L144.54 337.77 L145.94 338.15 L147.35 338.52 L148.76 338.85 L150.18 339.17 L151.61 339.45 L153.03 339.71 L154.47 339.94 L155.90 340.14 L157.34 340.31 L158.79 340.46 L160.23 340.57 L161.68 340.66 L162.71 340.70 L164.60 328.70 L176.20 353.30 L152.00 367.80 L158.80 359.10 L158.48 359.14 L156.77 359.31 L155.06 359.45 L153.35 359.54 L151.64 359.60 L149.93 359.61 L148.22 359.58 L146.51 359.51 L144.81 359.41 L143.11 359.26 L141.41 359.08 L139.72 358.85 L138.04 358.60 L136.36 358.30 L134.69 357.97 L133.03 357.60 L131.37 357.20 L129.73 356.76 L128.09 356.29 L126.47 355.79 L124.85 355.25 L123.25 354.69 L121.66 354.09 L120.08 353.46 L118.51 352.79 L116.95 352.10 L115.41 351.38 L113.88 350.63 L112.36 349.86 L110.86 349.05 L109.37 348.22 L107.90 347.36 L106.45 346.48 L105.00 345.57 L103.58 344.64 L102.17 343.68 L100.77 342.70 L99.40 341.70 L98.04 340.67 L96.69 339.63 L95.36 338.56 L94.05 337.48 L92.76 336.37 L91.48 335.24 L90.22 334.10 L88.98 332.94 L87.75 331.76 L86.54 330.56 L85.35 329.35 L84.18 328.13 L83.02 326.88 L81.88 325.63 L80.76 324.35 L79.66 323.07 L78.57 321.77 L77.50 320.46 L76.44 319.14 L75.41 317.81 L74.39 316.46 L73.38 315.11 L72.39 313.74 L71.42 312.37 L70.46 310.98 L69.52 309.59 L68.60 308.19 L67.69 306.78 L66.79 305.36 L65.91 303.94 L65.05 302.51 L64.20 301.07 L63.36 299.62 L62.54 298.18 L61.73 296.72 L60.93 295.26 L60.15 293.80 L59.37 292.33 L58.61 290.85 L57.87 289.38 L57.13 287.90 L56.40 286.41 L55.69 284.92 L54.98 283.43 L54.29 281.94 L53.60 280.44 L52.93 278.94 L52.26 277.44 L51.60 275.93 L50.95 274.43 L50.31 272.92Z" fill="url(#g_build)" filter="url(#ash)"/>
<path d="M602.30 50.90 L603.91 50.91 L605.53 50.93 L607.14 50.96 L608.75 51.00 L610.36 51.04 L611.96 51.09 L613.56 51.14 L615.16 51.20 L616.75 51.28 L618.35 51.35 L619.94 51.44 L621.53 51.54 L623.11 51.64 L624.70 51.75 L626.28 51.87 L627.87 52.00 L629.45 52.13 L631.02 52.28 L632.60 52.43 L634.18 52.60 L635.75 52.77 L637.32 52.95 L638.89 53.15 L640.46 53.35 L642.03 53.56 L643.60 53.78 L645.16 54.02 L646.72 54.26 L648.29 54.51 L649.85 54.78 L651.40 55.05 L652.96 55.34 L654.52 55.64 L656.07 55.95 L657.62 56.27 L659.17 56.61 L660.72 56.95 L662.26 57.31 L663.80 57.68 L665.35 58.07 L666.88 58.46 L668.42 58.87 L669.95 59.29 L671.48 59.73 L673.01 60.18 L674.53 60.64 L676.05 61.12 L677.57 61.61 L679.08 62.11 L680.59 62.63 L682.10 63.16 L683.60 63.71 L685.10 64.27 L686.59 64.84 L688.08 65.43 L689.56 66.04 L691.04 66.66 L692.52 67.30 L693.98 67.95 L695.44 68.61 L696.90 69.30 L698.35 69.99 L699.79 70.71 L701.23 71.44 L702.65 72.18 L704.07 72.94 L705.49 73.72 L706.89 74.51 L708.29 75.32 L709.68 76.14 L711.06 76.98 L712.43 77.84 L713.79 78.72 L715.14 79.60 L716.48 80.51 L717.81 81.43 L719.13 82.37 L720.44 83.33 L721.74 84.30 L723.02 85.28 L724.30 86.29 L725.56 87.31 L726.81 88.34 L728.04 89.39 L729.26 90.46 L730.47 91.54 L731.67 92.64 L732.85 93.76 L734.01 94.89 L735.16 96.03 L736.30 97.20 L737.42 98.37 L738.52 99.56 L739.61 100.77 L740.67 101.99 L741.73 103.23 L742.76 104.48 L743.78 105.75 L744.78 107.03 L745.75 108.32 L746.71 109.63 L747.66 110.95 L748.58 112.29 L749.48 113.63 L750.36 115.00 L751.22 116.37 L752.05 117.76 L752.87 119.15 L753.67 120.57 L754.44 121.99 L755.19 123.42 L755.91 124.87 L756.62 126.32 L757.30 127.79 L757.95 129.26 L758.58 130.75 L759.19 132.24 L759.77 133.75 L760.33 135.26 L760.86 136.78 L761.01 137.21 L769.20 131.40 L760.70 170.20 L738.80 150.80 L746.50 145.80 L745.89 144.86 L745.10 143.67 L744.30 142.48 L743.48 141.31 L742.66 140.15 L741.82 139.00 L740.98 137.85 L740.12 136.72 L739.26 135.60 L738.38 134.48 L737.49 133.38 L736.60 132.29 L735.69 131.20 L734.77 130.13 L733.85 129.07 L732.91 128.02 L731.97 126.98 L731.02 125.95 L730.05 124.93 L729.08 123.92 L728.10 122.93 L727.12 121.94 L726.12 120.96 L725.12 120.00 L724.10 119.04 L723.08 118.10 L722.06 117.17 L721.02 116.24 L719.98 115.33 L718.93 114.43 L717.87 113.54 L716.81 112.67 L715.74 111.80 L714.66 110.94 L713.57 110.10 L712.48 109.27 L711.38 108.44 L710.28 107.63 L709.17 106.83 L708.06 106.04 L706.93 105.26 L705.81 104.49 L704.67 103.74 L703.53 102.99 L702.39 102.25 L701.24 101.53 L700.09 100.82 L698.93 100.12 L697.76 99.42 L696.59 98.74 L695.42 98.07 L694.24 97.42 L693.06 96.77 L691.87 96.13 L690.68 95.50 L689.48 94.89 L688.28 94.28 L687.08 93.69 L685.87 93.10 L684.66 92.53 L683.45 91.97 L682.23 91.42 L681.00 90.87 L679.78 90.34 L678.55 89.82 L677.32 89.31 L676.08 88.81 L674.84 88.32 L673.60 87.84 L672.35 87.37 L671.10 86.91 L669.85 86.47 L668.60 86.03 L667.34 85.60 L666.08 85.18 L664.82 84.77 L663.56 84.37 L662.29 83.98 L661.02 83.60 L659.75 83.23 L658.47 82.88 L657.19 82.53 L655.91 82.19 L654.63 81.85 L653.35 81.53 L652.06 81.22 L650.77 80.92 L649.48 80.63 L648.19 80.35 L646.90 80.07 L645.60 79.81 L644.30 79.55 L643.00 79.31 L641.70 79.07 L640.39 78.85 L639.09 78.63 L637.78 78.42 L636.47 78.22 L635.15 78.03 L633.84 77.85 L632.52 77.68 L631.21 77.51 L629.89 77.36 L628.56 77.21 L627.24 77.08 L625.92 76.95 L624.59 76.83 L623.26 76.72 L621.93 76.62 L620.59 76.53 L619.26 76.45 L617.92 76.37 L616.58 76.31 L615.24 76.25 L613.90 76.20 L612.56 76.16 L611.21 76.13 L609.86 76.11 L608.51 76.10 L607.16 76.09 L605.81 76.10 L606.67 72.79 L607.16 69.53 L607.28 66.31 L607.03 63.14 L606.40 60.01 L605.41 56.93 L604.04 53.89Z" fill="url(#g_deploy)" filter="url(#ash)"/>
<path d="M752.30 207.61 L752.43 208.95 L752.53 210.29 L752.62 211.63 L752.69 212.97 L752.74 214.32 L752.77 215.67 L752.78 217.02 L752.77 218.37 L752.74 219.72 L752.70 221.07 L752.63 222.42 L752.55 223.77 L752.45 225.11 L752.33 226.46 L752.19 227.81 L752.03 229.15 L751.86 230.50 L751.67 231.84 L751.46 233.18 L751.23 234.51 L750.98 235.84 L750.72 237.17 L750.44 238.50 L750.14 239.83 L749.83 241.15 L749.50 242.46 L749.15 243.77 L748.79 245.08 L748.41 246.38 L748.01 247.68 L747.60 248.97 L747.17 250.26 L746.72 251.54 L746.26 252.82 L745.78 254.09 L745.29 255.36 L744.79 256.62 L744.26 257.87 L743.73 259.11 L743.17 260.35 L742.61 261.59 L742.03 262.81 L741.43 264.03 L740.82 265.24 L740.20 266.45 L739.56 267.64 L738.91 268.83 L738.25 270.01 L737.57 271.19 L736.88 272.35 L736.17 273.51 L735.46 274.66 L734.73 275.80 L733.98 276.93 L733.23 278.05 L732.46 279.17 L731.68 280.27 L730.89 281.37 L730.09 282.45 L729.28 283.53 L728.45 284.60 L727.62 285.66 L726.77 286.71 L725.91 287.75 L725.04 288.78 L724.16 289.80 L723.27 290.81 L722.37 291.81 L721.46 292.80 L720.54 293.78 L719.61 294.75 L718.67 295.71 L717.72 296.67 L716.76 297.61 L715.79 298.54 L714.82 299.46 L713.83 300.36 L712.83 301.26 L711.83 302.15 L710.82 303.03 L709.80 303.90 L708.77 304.75 L707.73 305.60 L706.69 306.44 L705.64 307.26 L704.58 308.07 L703.51 308.88 L702.44 309.67 L701.35 310.45 L700.27 311.22 L699.17 311.98 L698.07 312.73 L696.96 313.47 L695.84 314.19 L694.72 314.91 L693.59 315.61 L692.46 316.31 L691.31 316.99 L690.17 317.66 L689.01 318.32 L687.86 318.97 L686.69 319.61 L685.52 320.24 L684.35 320.85 L683.17 321.46 L681.98 322.05 L680.79 322.64 L679.60 323.21 L678.40 323.77 L677.19 324.32 L675.98 324.86 L674.77 325.39 L673.55 325.90 L672.32 326.41 L671.10 326.90 L669.86 327.39 L668.63 327.86 L667.39 328.32 L666.15 328.77 L664.90 329.21 L663.65 329.64 L662.39 330.05 L661.13 330.46 L659.87 330.85 L658.61 331.24 L657.34 331.61 L656.07 331.97 L654.79 332.32 L653.52 332.66 L652.24 332.98 L650.95 333.30 L649.67 333.61 L648.38 333.90 L647.09 334.18 L645.79 334.46 L644.50 334.72 L643.20 334.97 L641.90 335.20 L640.59 335.43 L639.29 335.65 L637.98 335.85 L636.67 336.05 L635.36 336.23 L634.04 336.40 L632.73 336.56 L631.41 336.71 L630.09 336.85 L628.77 336.98 L627.45 337.09 L626.12 337.20 L624.80 337.29 L623.47 337.37 L622.14 337.44 L620.81 337.50 L619.48 337.55 L618.15 337.59 L616.82 337.61 L615.48 337.63 L614.15 337.63 L612.82 337.62 L611.48 337.60 L610.14 337.57 L608.81 337.53 L607.47 337.48 L606.13 337.41 L604.79 337.33 L603.45 337.25 L602.11 337.15 L600.77 337.04 L599.43 336.91 L598.09 336.78 L596.75 336.63 L595.42 336.48 L594.08 336.31 L592.74 336.13 L591.40 335.93 L590.06 335.73 L588.72 335.51 L587.39 335.29 L586.05 335.05 L584.71 334.80 L583.38 334.53 L582.04 334.26 L580.71 333.97 L579.38 333.67 L578.05 333.36 L576.72 333.04 L575.39 332.71 L574.06 332.36 L572.74 332.00 L571.42 331.63 L570.09 331.25 L568.77 330.85 L567.46 330.44 L566.14 330.02 L564.83 329.59 L563.51 329.15 L562.20 328.69 L560.90 328.23 L559.59 327.74 L558.29 327.25 L556.99 326.75 L555.70 326.23 L554.40 325.70 L553.11 325.15 L551.83 324.60 L550.54 324.03 L549.26 323.45 L547.99 322.86 L546.71 322.25 L545.44 321.63 L544.18 321.00 L542.92 320.36 L541.66 319.70 L540.41 319.04 L539.16 318.35 L537.92 317.66 L536.68 316.95 L535.45 316.23 L534.22 315.50 L533.00 314.76 L531.78 314.00 L531.29 313.69 L542.40 307.90 L499.00 298.20 L516.80 335.80 L519.71 326.61 L520.61 327.55 L521.74 328.70 L522.89 329.83 L524.05 330.95 L525.23 332.05 L526.43 333.13 L527.64 334.20 L528.87 335.25 L530.11 336.28 L531.37 337.30 L532.64 338.29 L533.93 339.28 L535.23 340.24 L536.54 341.19 L537.87 342.12 L539.21 343.03 L540.56 343.92 L541.93 344.80 L543.31 345.66 L544.69 346.50 L546.09 347.32 L547.50 348.13 L548.92 348.92 L550.35 349.68 L551.79 350.44 L553.24 351.17 L554.70 351.89 L556.17 352.58 L557.65 353.26 L559.13 353.93 L560.63 354.57 L562.13 355.20 L563.64 355.80 L565.15 356.39 L566.68 356.97 L568.20 357.52 L569.74 358.06 L571.28 358.58 L572.83 359.08 L574.38 359.56 L575.94 360.03 L577.51 360.47 L579.08 360.90 L580.65 361.32 L582.23 361.71 L583.81 362.09 L585.39 362.45 L586.98 362.79 L588.58 363.11 L590.17 363.42 L591.77 363.71 L593.37 363.98 L594.98 364.24 L596.59 364.48 L598.20 364.70 L599.81 364.91 L601.42 365.09 L603.04 365.26 L604.65 365.42 L606.27 365.56 L607.89 365.68 L609.51 365.78 L611.13 365.87 L612.75 365.94 L614.37 365.99 L615.99 366.03 L617.61 366.06 L619.23 366.06 L620.86 366.05 L622.48 366.03 L624.10 365.98 L625.72 365.93 L627.33 365.85 L628.95 365.76 L630.57 365.66 L632.18 365.53 L633.80 365.40 L635.41 365.25 L637.02 365.08 L638.63 364.90 L640.24 364.70 L641.84 364.48 L643.44 364.25 L645.04 364.01 L646.64 363.75 L648.23 363.48 L649.83 363.19 L651.42 362.88 L653.00 362.56 L654.58 362.23 L656.16 361.88 L657.74 361.52 L659.31 361.14 L660.88 360.75 L662.45 360.34 L664.01 359.92 L665.57 359.48 L667.12 359.03 L668.67 358.56 L670.22 358.08 L671.76 357.59 L673.30 357.08 L674.83 356.56 L676.36 356.02 L677.88 355.47 L679.40 354.91 L680.91 354.33 L682.42 353.73 L683.92 353.13 L685.42 352.51 L686.91 351.87 L688.40 351.22 L689.88 350.56 L691.35 349.88 L692.82 349.19 L694.28 348.49 L695.74 347.77 L697.19 347.04 L698.63 346.30 L700.07 345.54 L701.50 344.76 L702.92 343.98 L704.34 343.18 L705.75 342.37 L707.15 341.54 L708.54 340.70 L709.93 339.85 L711.31 338.98 L712.68 338.10 L714.04 337.21 L715.40 336.30 L716.75 335.38 L718.09 334.45 L719.42 333.50 L720.74 332.54 L722.05 331.57 L723.35 330.58 L724.65 329.58 L725.94 328.57 L727.21 327.54 L728.48 326.51 L729.73 325.46 L730.98 324.39 L732.22 323.32 L733.45 322.23 L734.66 321.13 L735.87 320.01 L737.06 318.88 L738.25 317.74 L739.42 316.59 L740.58 315.43 L741.73 314.25 L742.87 313.06 L743.99 311.86 L745.11 310.65 L746.21 309.42 L747.30 308.18 L748.37 306.93 L749.44 305.67 L750.49 304.40 L751.53 303.11 L752.55 301.82 L753.56 300.51 L754.56 299.19 L755.54 297.86 L756.51 296.52 L757.46 295.17 L758.40 293.80 L759.32 292.43 L760.23 291.04 L761.12 289.65 L762.00 288.24 L762.86 286.82 L763.71 285.40 L764.54 283.96 L765.35 282.52 L766.14 281.06 L766.92 279.59 L767.69 278.12 L768.43 276.63 L769.16 275.14 L769.86 273.64 L770.56 272.13 L771.23 270.61 L771.88 269.08 L772.52 267.55 L773.13 266.00 L773.73 264.45 L774.31 262.90 L774.86 261.33 L775.40 259.76 L775.92 258.18 L776.41 256.59 L776.89 255.00 L777.35 253.41 L777.78 251.80 L778.19 250.19 L778.58 248.58 L778.95 246.96 L779.30 245.34 L779.63 243.71 L779.93 242.08 L780.21 240.45 L780.47 238.81 L780.70 237.17 L780.92 235.53 L781.10 233.88 L781.27 232.23 L781.41 230.58 L781.53 228.93 L781.62 227.28 L781.69 225.63 L781.73 223.98 L781.75 222.33 L781.75 220.68 L781.72 219.03 L781.66 217.38 L781.58 215.73 L781.47 214.09 L781.34 212.45 L781.18 210.81 L781.00 209.18 L780.79 207.55 L780.55 205.92 L780.29 204.30 L780.00 202.68 L776.56 204.62 L773.11 206.17 L769.65 207.35 L766.19 208.15 L762.73 208.57 L759.26 208.62 L755.78 208.30Z" fill="url(#g_operate)" filter="url(#ash)"/>
<path id="p_fb" d="M168.78 61.21 L198.70 63.42 L199.67 63.49 L200.63 63.56 L201.60 63.65 L202.56 63.73 L203.53 63.82 L204.49 63.92 L205.45 64.02 L206.41 64.13 L207.37 64.24 L208.33 64.36 L209.28 64.49 L210.24 64.61 L211.20 64.75 L212.15 64.89 L213.10 65.03 L214.06 65.18 L215.01 65.34 L215.96 65.50 L216.91 65.66 L217.85 65.83 L218.80 66.01 L219.74 66.19 L220.69 66.38 L221.63 66.57 L222.57 66.77 L223.51 66.97 L224.45 67.18 L225.39 67.39 L226.32 67.61 L227.26 67.84 L228.19 68.07 L229.12 68.30 L230.05 68.54 L230.98 68.79 L231.91 69.04 L232.83 69.30 L233.76 69.56 L234.68 69.83 L235.60 70.10 L236.52 70.38 L237.44 70.66 L238.35 70.95 L239.27 71.25 L240.18 71.55 L241.09 71.85 L241.99 72.17 L242.90 72.48 L243.80 72.80 L244.71 73.13 L245.61 73.47 L246.51 73.80 L247.40 74.15 L248.29 74.50 L249.19 74.85 L250.08 75.21 L250.96 75.58 L251.85 75.95 L252.73 76.33 L253.61 76.71 L254.49 77.10 L255.37 77.49 L256.24 77.89 L257.11 78.29 L257.98 78.70 L258.85 79.11 L259.71 79.53 L260.57 79.96 L261.43 80.39 L262.28 80.83 L263.14 81.27 L263.99 81.72 L264.83 82.17 L265.68 82.63 L266.52 83.09 L267.36 83.56 L268.19 84.04 L269.03 84.52 L269.86 85.00 L270.68 85.49 L271.51 85.99 L272.33 86.49 L273.15 86.99 L273.96 87.51 L274.77 88.02 L275.58 88.55 L276.38 89.07 L277.18 89.61 L277.98 90.15 L278.78 90.69 L279.57 91.24 L280.35 91.79 L281.14 92.35 L281.92 92.92 L282.70 93.49 L283.47 94.06 L284.24 94.64 L285.00 95.23 L285.76 95.82 L286.52 96.41 L287.28 97.01 L288.03 97.62 L288.77 98.23 L289.51 98.85 L290.25 99.47 L290.99 100.09 L291.71 100.73 L292.44 101.36 L293.16 102.00 L293.88 102.65 L294.59 103.30 L295.32 103.97 L296.05 104.65 L296.78 105.33 L297.52 106.01 L298.25 106.69 L298.99 107.37 L299.72 108.05 L300.45 108.73 L301.19 109.41 L301.92 110.09 L302.65 110.77 L303.39 111.45 L304.12 112.13 L304.85 112.81 L305.59 113.49 L306.32 114.17 L307.05 114.85 L307.79 115.53 L308.52 116.21 L309.25 116.89 L309.99 117.57 L310.72 118.25 L311.45 118.93 L312.18 119.61 L312.91 120.29 L313.65 120.98 L314.38 121.66 L315.11 122.34 L315.84 123.02 L316.57 123.70 L317.30 124.39 L318.03 125.07 L318.77 125.75 L319.50 126.44 L320.23 127.12 L320.96 127.80 L321.69 128.49 L322.42 129.17 L323.14 129.86 L323.87 130.54 L324.60 131.23 L325.33 131.91 L326.06 132.60 L326.79 133.28 L327.51 133.97 L328.24 134.65 L328.97 135.34 L329.70 136.03 L330.42 136.72 L331.15 137.40 L331.87 138.09 L332.60 138.78 L333.32 139.47 L334.05 140.16 L334.77 140.85 L335.50 141.54 L336.22 142.23 L336.95 142.92 L337.67 143.61 L338.39 144.30 L339.11 144.99 L339.84 145.68 L340.56 146.37 L341.28 147.07 L342.00 147.76 L342.72 148.45 L343.44 149.15 L344.16 149.84 L344.88 150.54 L345.60 151.23 L346.31 151.93 L347.03 152.62 L347.75 153.32 L348.47 154.02 L349.18 154.72 L349.90 155.41 L350.61 156.11 L351.33 156.81 L352.04 157.51 L352.76 158.21 L353.47 158.91 L354.18 159.61 L354.90 160.32 L355.61 161.02 L356.32 161.72 L357.03 162.42 L357.74 163.13 L358.45 163.83 L359.16 164.54 L359.87 165.24 L360.58 165.95 L361.29 166.65 L361.99 167.36 L362.70 168.07 L363.41 168.78 L364.11 169.49 L364.82 170.20 L365.52 170.91 L366.23 171.62 L366.93 172.33 L367.63 173.04 L368.33 173.75 L369.04 174.46 L369.74 175.18 L370.44 175.89 L371.14 176.61 L371.84 177.32 L372.53 178.04 L373.23 178.76 L373.93 179.47 L374.63 180.19 L375.32 180.91 L376.02 181.63 L376.71 182.35 L377.41 183.07 L378.10 183.79 L378.79 184.52 L379.48 185.24 L380.18 185.96 L380.87 186.69 L381.56 187.41 L382.25 188.14 L382.93 188.86 L383.62 189.59 L384.31 190.32 L385.00 191.05 L385.68 191.78 L386.37 192.51 L387.05 193.24 L387.74 193.97 L388.42 194.70 L389.10 195.44 L389.78 196.17 L390.46 196.90 L391.14 197.64 L391.82 198.38 L392.50 199.11 L393.18 199.85 L393.86 200.59 L394.53 201.33 L395.21 202.07 L395.88 202.81 L396.56 203.55 L397.23 204.29 L397.90 205.04 L398.57 205.78 L399.25 206.52 L399.92 207.27 L400.58 208.02 L401.25 208.76 L401.92 209.51 L402.59 210.26 L403.25 211.01 L403.92 211.76 L404.58 212.51 L405.25 213.26 L405.91 214.02 L406.57 214.77 L407.23 215.53 L407.89 216.28 L408.55 217.04 L409.21 217.80 L409.87 218.55 L410.53 219.31 L411.18 220.07 L411.84 220.84 L412.49 221.60 L413.15 222.36 L413.80 223.12 L414.45 223.89 L415.10 224.65 L415.75 225.42 L416.40 226.19 L417.05 226.95 L417.70 227.72 L418.35 228.49 L418.99 229.26 L419.64 230.04 L420.28 230.81 L420.92 231.58 L421.57 232.36 L422.21 233.13 L422.85 233.91 L423.49 234.69 L424.13 235.46 L424.76 236.24 L425.40 237.02 L426.04 237.80 L426.67 238.59 L427.31 239.37 L427.94 240.15 L428.57 240.94 L429.20 241.72 L429.83 242.51 L430.46 243.30 L431.09 244.09 L431.72 244.88 L432.35 245.67 L432.97 246.46 L433.60 247.25 L434.22 248.05 L434.84 248.84 L435.46 249.64 L436.09 250.43 L436.71 251.23 L437.32 252.03 L455.70 275.74" fill="none"/><g font-size="20.2" letter-spacing="1.85" filter="url(#tsh)"><text fill="#ededed" stroke="#ededed" stroke-width="0.61" stroke-linejoin="round"><textPath href="#p_fb" startOffset="58.0">Continuous Feedback</textPath></text></g>
<path id="p_plan" d="M57.35 230.82 L58.81 200.86 L58.86 199.92 L58.91 198.99 L58.98 198.05 L59.05 197.12 L59.13 196.19 L59.21 195.26 L59.31 194.33 L59.41 193.40 L59.52 192.47 L59.64 191.54 L59.77 190.62 L59.91 189.69 L60.05 188.77 L60.20 187.85 L60.36 186.93 L60.52 186.01 L60.70 185.09 L60.88 184.18 L61.07 183.26 L61.26 182.35 L61.46 181.44 L61.67 180.53 L61.89 179.62 L62.11 178.72 L62.35 177.82 L62.58 176.92 L62.83 176.02 L63.08 175.12 L63.34 174.23 L63.60 173.33 L63.87 172.44 L64.15 171.56 L64.43 170.67 L64.72 169.79 L65.02 168.91 L65.32 168.03 L65.63 167.16 L65.94 166.28 L66.26 165.41 L66.58 164.54 L66.91 163.68 L67.25 162.81 L67.59 161.95 L67.94 161.10 L68.29 160.24 L68.65 159.39 L69.02 158.54 L69.38 157.69 L69.76 156.85 L70.14 156.00 L70.52 155.17 L70.91 154.33 L71.31 153.49 L71.70 152.66 L72.11 151.83 L72.52 151.01 L72.93 150.18 L73.34 149.36 L73.77 148.55 L74.19 147.73 L74.62 146.92 L75.06 146.11 L75.50 145.30 L75.94 144.49 L76.39 143.69 L76.84 142.89 L77.29 142.09 L77.75 141.30 L78.21 140.51 L78.68 139.72 L79.15 138.93 L79.62 138.14 L80.10 137.36 L80.58 136.58 L81.07 135.80 L81.55 135.02 L82.04 134.25 L82.54 133.48 L83.04 132.71 L83.54 131.94 L84.04 131.18 L84.55 130.42 L85.06 129.65 L85.58 128.90 L86.09 128.14 L86.61 127.38 L87.13 126.63 L87.66 125.88 L88.19 125.13 L88.72 124.38 L89.26 123.64 L89.79 122.89 L90.33 122.15 L90.88 121.41 L91.42 120.67 L91.97 119.93 L92.52 119.20 L93.07 118.46 L93.63 117.73 L94.19 116.99 L94.75 116.26 L95.31 115.53 L95.88 114.80 L96.45 114.07 L97.02 113.35 L97.59 112.62 L98.17 111.90 L98.75 111.17 L99.33 110.45 L99.91 109.72 L100.50 109.00 L101.09 108.28 L101.68 107.56 L102.27 106.84 L102.87 106.12 L103.47 105.40 L104.07 104.68 L104.67 103.96 L105.28 103.24 L105.89 102.52 L106.50 101.80 L107.11 101.08 L107.73 100.36 L108.35 99.64 L108.97 98.92 L109.59 98.20 L110.22 97.48 L110.85 96.76 L111.48 96.04 L112.12 95.31 L112.76 94.59 L113.40 93.87 L114.04 93.14 L114.69 92.42 L115.33 91.69 L115.99 90.97 L116.64 90.24 L117.30 89.51 L117.96 88.78 L118.62 88.05 L119.29 87.32 L139.50 65.15" fill="none"/><g font-size="20.5" letter-spacing="1.70" filter="url(#tsh)"><text fill="#ededed" stroke="#ededed" stroke-width="0.61" stroke-linejoin="round"><textPath href="#p_plan" startOffset="72.8">Plan</textPath></text></g>
<path id="p_build" d="M40.84 244.25 L53.00 271.68 L53.43 272.66 L53.87 273.64 L54.32 274.62 L54.76 275.59 L55.21 276.57 L55.66 277.54 L56.12 278.52 L56.58 279.49 L57.05 280.46 L57.52 281.42 L57.99 282.39 L58.47 283.36 L58.95 284.32 L59.44 285.28 L59.93 286.24 L60.43 287.20 L60.93 288.16 L61.43 289.11 L61.94 290.06 L62.46 291.01 L62.98 291.96 L63.51 292.91 L64.04 293.85 L64.57 294.80 L65.12 295.74 L65.66 296.67 L66.22 297.61 L66.78 298.54 L67.34 299.47 L67.91 300.39 L68.49 301.32 L69.07 302.24 L69.66 303.16 L70.25 304.07 L70.85 304.98 L71.46 305.89 L72.07 306.80 L72.69 307.70 L73.32 308.59 L73.95 309.49 L74.59 310.38 L75.23 311.26 L75.88 312.15 L76.54 313.02 L77.21 313.90 L77.88 314.77 L78.56 315.63 L79.24 316.49 L79.93 317.35 L80.63 318.20 L81.33 319.04 L82.05 319.89 L82.77 320.72 L83.49 321.55 L84.22 322.38 L84.96 323.19 L85.71 324.01 L86.46 324.81 L87.23 325.62 L87.99 326.41 L88.77 327.20 L89.55 327.98 L90.34 328.76 L91.13 329.53 L91.94 330.29 L92.74 331.05 L93.56 331.79 L94.39 332.53 L95.22 333.27 L96.05 333.99 L96.90 334.71 L97.75 335.42 L98.61 336.13 L99.47 336.82 L100.34 337.51 L101.22 338.18 L102.11 338.85 L103.00 339.51 L103.90 340.16 L104.80 340.81 L105.71 341.44 L106.63 342.06 L107.55 342.68 L108.48 343.28 L109.42 343.88 L110.37 344.46 L111.31 345.04 L112.27 345.60 L113.23 346.16 L114.20 346.70 L115.17 347.23 L116.15 347.76 L117.14 348.27 L118.13 348.77 L119.12 349.26 L120.12 349.73 L121.13 350.20 L122.14 350.65 L123.16 351.10 L124.18 351.52 L125.21 351.94 L126.24 352.35 L127.28 352.74 L128.32 353.12 L129.36 353.49 L130.42 353.84 L131.47 354.18 L132.53 354.51 L133.59 354.83 L134.66 355.13 L135.72 355.42 L136.80 355.69 L137.87 355.95 L138.95 356.19 L140.04 356.42 L141.12 356.64 L142.21 356.85 L143.30 357.03 L144.39 357.21 L145.49 357.37 L146.59 357.51 L147.69 357.64 L148.79 357.75 L149.89 357.85 L150.99 357.93 L152.10 358.00 L153.21 358.05 L154.31 358.08 L155.42 358.10 L156.53 358.10 L157.64 358.09 L187.64 357.75" fill="none"/><g font-size="23.0" letter-spacing="2.37" filter="url(#tsh)"><text fill="#ededed" stroke="#ededed" stroke-width="0.69" stroke-linejoin="round"><textPath href="#p_build" startOffset="59.1">Build</textPath></text></g>
<path id="p_deploy" d="M575.19 70.64 L605.19 70.92 L606.13 70.93 L607.07 70.94 L608.01 70.96 L608.95 70.98 L609.88 71.00 L610.82 71.02 L611.75 71.05 L612.68 71.08 L613.61 71.11 L614.54 71.15 L615.47 71.19 L616.40 71.23 L617.33 71.28 L618.26 71.33 L619.18 71.38 L620.11 71.44 L621.03 71.50 L621.95 71.57 L622.87 71.63 L623.80 71.70 L624.72 71.78 L625.63 71.86 L626.55 71.94 L627.47 72.02 L628.39 72.11 L629.31 72.20 L630.22 72.30 L631.14 72.40 L632.05 72.50 L632.96 72.61 L633.88 72.72 L634.79 72.83 L635.70 72.95 L636.61 73.07 L637.52 73.20 L638.43 73.33 L639.34 73.46 L640.24 73.60 L641.15 73.74 L642.06 73.89 L642.96 74.04 L643.87 74.19 L644.77 74.35 L645.68 74.51 L646.58 74.68 L647.48 74.85 L648.38 75.02 L649.28 75.20 L650.18 75.39 L651.08 75.57 L651.98 75.76 L652.87 75.96 L653.77 76.16 L654.67 76.37 L655.56 76.58 L656.45 76.79 L657.35 77.01 L658.24 77.23 L659.13 77.46 L660.02 77.69 L660.91 77.93 L661.80 78.17 L662.68 78.42 L663.57 78.67 L664.45 78.93 L665.34 79.19 L666.22 79.45 L667.10 79.73 L667.98 80.00 L668.86 80.28 L669.74 80.57 L670.62 80.86 L671.49 81.15 L672.37 81.46 L673.24 81.76 L674.11 82.07 L674.98 82.39 L675.85 82.71 L676.71 83.04 L677.58 83.37 L678.44 83.71 L679.31 84.05 L680.17 84.40 L681.02 84.75 L681.88 85.11 L682.74 85.47 L683.59 85.84 L684.44 86.21 L685.29 86.59 L686.14 86.98 L686.98 87.37 L687.83 87.77 L688.67 88.17 L689.51 88.58 L690.34 88.99 L691.18 89.41 L692.01 89.83 L692.84 90.26 L693.67 90.70 L694.49 91.14 L695.31 91.58 L696.13 92.04 L696.95 92.49 L697.77 92.96 L698.58 93.43 L699.39 93.90 L700.19 94.38 L700.99 94.87 L701.80 95.36 L702.59 95.86 L703.39 96.36 L704.18 96.87 L704.96 97.39 L705.75 97.91 L706.53 98.44 L707.31 98.97 L708.08 99.51 L708.85 100.05 L709.62 100.60 L710.38 101.16 L711.14 101.72 L711.90 102.29 L712.65 102.86 L713.40 103.44 L714.14 104.02 L714.88 104.61 L715.61 105.21 L716.34 105.81 L717.07 106.42 L717.79 107.03 L718.51 107.65 L719.23 108.27 L719.94 108.90 L720.64 109.54 L721.34 110.18 L722.03 110.83 L722.72 111.48 L723.41 112.14 L724.09 112.80 L724.77 113.47 L725.44 114.15 L726.10 114.83 L726.76 115.51 L727.41 116.21 L728.06 116.90 L728.71 117.60 L729.34 118.31 L729.98 119.02 L730.60 119.74 L731.22 120.47 L731.84 121.19 L732.44 121.93 L733.05 122.67 L733.64 123.41 L734.23 124.16 L734.82 124.92 L735.40 125.67 L735.97 126.44 L736.53 127.21 L737.09 127.98 L737.64 128.76 L738.19 129.55 L738.73 130.33 L739.26 131.13 L739.78 131.93 L740.30 132.73 L740.81 133.53 L741.31 134.35 L741.81 135.16 L742.30 135.98 L742.78 136.81 L743.26 137.64 L743.72 138.47 L744.18 139.31 L744.63 140.15 L745.08 140.99 L745.51 141.84 L745.94 142.70 L746.36 143.55 L759.56 170.49" fill="none"/><g font-size="20.5" letter-spacing="1.30" filter="url(#tsh)"><text fill="#ededed" stroke="#ededed" stroke-width="0.61" stroke-linejoin="round"><textPath href="#p_deploy" startOffset="75.3">Deploy</textPath></text></g>
<path id="p_op" d="M497.06 308.72 L520.29 327.71 L521.12 328.38 L521.95 329.05 L522.79 329.72 L523.63 330.37 L524.48 331.02 L525.34 331.67 L526.20 332.30 L527.06 332.93 L527.93 333.56 L528.80 334.17 L529.68 334.78 L530.56 335.38 L531.45 335.98 L532.34 336.57 L533.24 337.15 L534.14 337.72 L535.05 338.29 L535.95 338.85 L536.87 339.40 L537.78 339.95 L538.71 340.49 L539.63 341.02 L540.56 341.54 L541.49 342.06 L542.43 342.57 L543.37 343.08 L544.31 343.57 L545.26 344.06 L546.21 344.55 L547.16 345.02 L548.12 345.49 L549.08 345.95 L550.04 346.41 L551.01 346.85 L551.98 347.29 L552.95 347.73 L553.92 348.15 L554.90 348.57 L555.88 348.98 L556.86 349.39 L557.85 349.78 L558.84 350.17 L559.83 350.56 L560.82 350.93 L561.81 351.30 L562.81 351.66 L563.81 352.02 L564.81 352.37 L565.82 352.71 L566.82 353.04 L567.83 353.37 L568.84 353.69 L569.85 354.00 L570.87 354.31 L571.88 354.60 L572.90 354.90 L573.92 355.18 L574.94 355.46 L575.96 355.73 L576.99 355.99 L578.01 356.25 L579.04 356.50 L580.07 356.74 L581.10 356.98 L582.13 357.20 L583.16 357.43 L584.19 357.64 L585.23 357.85 L586.26 358.05 L587.30 358.24 L588.33 358.43 L589.37 358.61 L590.41 358.79 L591.45 358.95 L592.49 359.11 L593.53 359.27 L594.58 359.41 L595.62 359.55 L596.66 359.68 L597.70 359.81 L598.75 359.93 L599.79 360.04 L600.84 360.15 L601.88 360.25 L602.93 360.34 L603.98 360.42 L605.02 360.50 L606.07 360.57 L607.12 360.64 L608.16 360.70 L609.21 360.75 L610.26 360.80 L611.31 360.84 L612.35 360.87 L613.40 360.89 L614.45 360.91 L615.49 360.93 L616.54 360.93 L617.59 360.93 L618.63 360.92 L619.68 360.91 L620.73 360.89 L621.77 360.86 L622.82 360.83 L623.86 360.79 L624.90 360.75 L625.95 360.69 L626.99 360.63 L628.03 360.57 L629.08 360.50 L630.12 360.42 L631.16 360.33 L632.20 360.24 L633.24 360.15 L634.28 360.04 L635.31 359.93 L636.35 359.82 L637.39 359.69 L638.42 359.57 L639.46 359.43 L640.49 359.29 L641.52 359.14 L642.55 358.99 L643.58 358.83 L644.61 358.66 L645.64 358.49 L646.67 358.31 L647.69 358.12 L648.72 357.93 L649.74 357.73 L650.76 357.53 L651.78 357.32 L652.80 357.10 L653.82 356.88 L654.84 356.65 L655.85 356.42 L656.87 356.18 L657.88 355.93 L658.89 355.67 L659.90 355.42 L660.91 355.15 L661.91 354.88 L662.92 354.60 L663.92 354.32 L664.92 354.03 L665.92 353.73 L666.92 353.43 L667.91 353.12 L668.91 352.81 L669.90 352.49 L670.89 352.16 L671.87 351.83 L672.86 351.49 L673.84 351.14 L674.83 350.79 L675.81 350.44 L676.78 350.08 L677.76 349.71 L678.73 349.33 L679.70 348.95 L680.67 348.57 L681.64 348.17 L682.60 347.78 L683.57 347.37 L684.53 346.96 L685.48 346.55 L686.44 346.12 L687.39 345.70 L688.34 345.26 L689.29 344.82 L690.23 344.38 L691.17 343.92 L692.11 343.47 L693.05 343.00 L693.98 342.53 L694.92 342.06 L695.84 341.58 L696.77 341.09 L697.69 340.60 L698.61 340.10 L699.53 339.60 L700.44 339.09 L701.35 338.57 L702.26 338.05 L703.17 337.52 L704.07 336.99 L704.96 336.45 L705.86 335.90 L706.75 335.35 L707.64 334.79 L708.53 334.23 L709.41 333.66 L710.29 333.09 L711.16 332.51 L712.03 331.92 L712.90 331.33 L713.76 330.74 L714.62 330.13 L715.48 329.53 L716.33 328.91 L717.18 328.29 L718.03 327.67 L718.87 327.04 L719.71 326.40 L720.54 325.76 L721.37 325.11 L722.20 324.46 L723.02 323.80 L723.84 323.13 L724.65 322.46 L725.46 321.79 L726.26 321.11 L727.06 320.42 L727.86 319.73 L728.65 319.03 L729.44 318.33 L730.22 317.62 L731.00 316.90 L731.77 316.18 L732.54 315.46 L733.31 314.73 L734.07 313.99 L734.82 313.25 L735.57 312.51 L736.31 311.75 L737.05 311.00 L737.79 310.24 L738.52 309.47 L739.24 308.70 L739.96 307.92 L740.68 307.13 L741.38 306.35 L742.09 305.55 L742.79 304.75 L743.48 303.95 L744.16 303.14 L744.85 302.33 L745.52 301.51 L746.19 300.69 L746.86 299.86 L747.51 299.02 L748.17 298.18 L748.81 297.34 L749.45 296.49 L750.09 295.64 L750.72 294.78 L751.34 293.92 L751.96 293.05 L752.57 292.18 L753.17 291.30 L753.77 290.42 L754.36 289.54 L754.94 288.65 L755.52 287.75 L756.09 286.85 L756.66 285.95 L757.22 285.04 L757.77 284.13 L758.31 283.21 L758.85 282.29 L759.38 281.37 L759.90 280.44 L760.42 279.50 L760.93 278.57 L761.43 277.62 L761.93 276.68 L762.42 275.73 L762.90 274.78 L763.37 273.82 L763.84 272.86 L764.29 271.89 L764.74 270.93 L765.19 269.95 L765.62 268.98 L766.05 268.00 L766.47 267.02 L766.88 266.03 L767.28 265.04 L767.68 264.05 L768.07 263.06 L768.45 262.06 L768.82 261.06 L769.18 260.05 L769.53 259.04 L769.88 258.03 L770.22 257.02 L770.55 256.00 L770.87 254.98 L771.18 253.96 L771.49 252.94 L771.78 251.91 L772.07 250.88 L772.34 249.85 L772.61 248.82 L772.87 247.78 L773.12 246.75 L773.37 245.71 L773.60 244.66 L773.82 243.62 L774.04 242.58 L774.24 241.53 L774.44 240.48 L774.63 239.43 L774.80 238.38 L774.97 237.32 L775.13 236.27 L775.28 235.22 L775.42 234.16 L775.55 233.10 L775.67 232.04 L775.78 230.98 L775.88 229.92 L775.97 228.86 L776.05 227.80 L776.12 226.74 L776.18 225.68 L776.23 224.62 L776.27 223.56 L776.31 222.49 L776.33 221.43 L776.34 220.37 L776.34 219.31 L776.33 218.25 L776.31 217.19 L776.28 216.13 L776.24 215.07 L776.19 214.01 L776.13 212.95 L776.06 211.89 L775.97 210.84 L775.88 209.78 L775.78 208.73 L775.67 207.68 L772.47 177.85" fill="none"/><g font-size="25.0" letter-spacing="2.80" filter="url(#tsh)"><text fill="#ededed" stroke="#ededed" stroke-width="0.75" stroke-linejoin="round"><textPath href="#p_op" startOffset="163.1">Operate</textPath></text></g>
</svg></body></html>
